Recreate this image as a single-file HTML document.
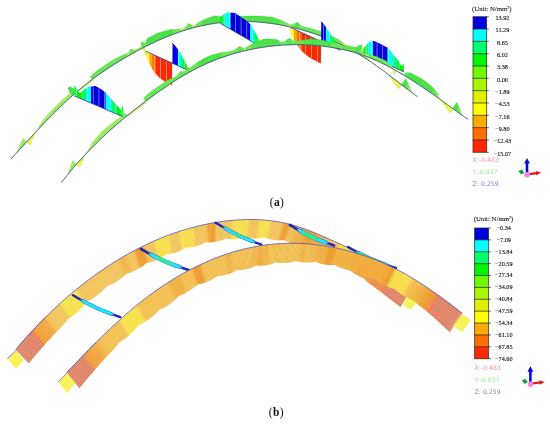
<!DOCTYPE html>
<html><head><meta charset="utf-8"><title>Figure</title>
<style>html,body{margin:0;padding:0;background:#fff}svg{display:block}</style></head>
<body>
<svg width="550" height="424" viewBox="0 0 550 424" font-family="Liberation Serif, DejaVu Serif, serif">
<rect width="550" height="424" fill="#fff"/>
<g id="a">
<path d="M16.7 152.8 L17.0 152.1 L17.3 151.3 L17.6 150.6 L17.9 149.9 L18.2 149.2 L18.6 148.4 L18.9 147.7 L19.2 147.0 L19.5 146.3 L19.8 145.6 L20.1 144.8 L20.4 144.1 L20.7 143.4 L21.0 142.7 L21.3 142.0 L21.7 141.2 L22.0 140.5 L22.3 139.8 L22.6 139.1 L22.9 138.3 L23.0 138.2 L30.2 144.8 L26.8 141.7 L26.8 141.7 L26.7 141.8 L26.2 142.4 L25.7 142.9 L25.2 143.5 L24.7 144.0 L24.2 144.6 L23.7 145.1 L23.2 145.7 L22.7 146.2 L22.2 146.7 L21.7 147.3 L21.2 147.8 L20.7 148.4 L20.2 148.9 L19.7 149.5 L19.2 150.0 L18.7 150.6 L18.2 151.1 L17.7 151.7 L17.2 152.2 L16.7 152.8Z" fill="#98ec5a" stroke="#8ae84c" stroke-width="0.45" stroke-linejoin="round"/>
<path d="M30.2 144.8 L30.4 144.3 L30.8 143.5 L31.1 142.8 L31.4 142.1 L31.7 141.4 L32.0 140.7 L32.3 140.0 L32.6 139.2 L32.9 138.5 L33.2 137.8 L31.7 136.4 L31.2 136.9 L30.7 137.5 L30.2 138.0 L29.7 138.6 L29.2 139.1 L28.7 139.6 L28.2 140.2 L27.7 140.7 L27.2 141.3 L26.8 141.7Z" fill="#eef248" stroke="#e4ec30" stroke-width="0.45" stroke-linejoin="round"/>
<path d="M33.2 137.8 L33.6 137.1 L33.9 136.4 L34.2 135.7 L34.5 135.0 L34.8 134.3 L35.1 133.5 L35.4 132.8 L35.7 132.1 L35.8 132.0 L36.2 131.6 L36.7 131.0 L37.2 130.5 L37.7 129.9 L38.0 129.6 L38.0 129.6 L37.7 129.9 L37.2 130.5 L36.7 131.0 L36.2 131.6 L35.8 132.0 L35.7 132.1 L35.2 132.6 L34.7 133.2 L34.2 133.7 L33.7 134.2 L33.2 134.8 L32.7 135.3 L32.2 135.9 L31.7 136.4Z" fill="#c4f05a" stroke="#b6ec40" stroke-width="0.45" stroke-linejoin="round"/>
<path d="M38.0 129.6 L38.1 129.3 L38.4 128.6 L38.7 127.9 L39.0 127.2 L39.3 126.5 L39.6 125.7 L39.9 125.0 L40.2 124.3 L40.4 123.9 L40.6 123.6 L41.0 123.1 L41.5 122.5 L41.9 121.9 L42.4 121.4 L42.8 120.8 L43.3 120.2 L43.7 119.6 L44.2 119.1 L44.7 118.5 L45.1 117.9 L45.6 117.4 L46.0 116.8 L46.5 116.3 L46.9 115.7 L47.4 115.1 L47.6 114.8 L47.8 114.6 L48.3 114.1 L48.8 113.5 L49.3 113.0 L49.8 112.5 L50.3 112.0 L50.8 111.5 L51.3 111.0 L51.8 110.4 L52.3 109.9 L52.8 109.4 L53.3 108.9 L53.7 108.4 L54.2 107.9 L54.7 107.4 L55.2 106.9 L55.7 106.4 L56.2 105.9 L56.7 105.4 L57.2 104.9 L57.5 104.6 L57.7 104.4 L58.2 103.9 L58.7 103.4 L59.2 102.9 L59.7 102.5 L60.3 102.0 L60.8 101.5 L61.3 101.1 L61.8 100.6 L62.3 100.1 L62.8 99.6 L63.3 99.2 L63.8 98.7 L64.3 98.3 L64.9 97.8 L65.4 97.3 L65.9 96.9 L66.4 96.4 L66.9 96.0 L67.4 95.5 L67.7 95.2 L67.9 95.1 L68.5 94.6 L69.0 94.2 L69.5 93.8 L70.1 93.4 L70.4 93.1 L70.6 92.9 L72.7 95.3 L72.5 95.5 L72.2 95.8 L71.7 96.2 L71.2 96.7 L70.7 97.1 L70.2 97.6 L70.0 97.8 L69.7 98.0 L69.2 98.5 L68.7 99.0 L68.2 99.4 L67.7 99.9 L67.2 100.3 L66.7 100.8 L66.2 101.3 L65.7 101.7 L65.2 102.2 L64.7 102.7 L64.2 103.1 L63.7 103.6 L63.2 104.1 L62.7 104.6 L62.2 105.0 L61.7 105.5 L61.2 106.0 L60.7 106.5 L60.2 107.0 L60.0 107.2 L59.7 107.4 L59.2 107.9 L58.7 108.4 L58.2 108.9 L57.7 109.4 L57.2 109.9 L56.7 110.4 L56.2 110.9 L55.7 111.4 L55.2 111.9 L54.7 112.4 L54.2 112.9 L53.7 113.4 L53.2 113.9 L52.7 114.4 L52.2 114.9 L51.7 115.4 L51.2 115.9 L50.7 116.4 L50.2 116.9 L50.0 117.1 L49.7 117.4 L49.2 117.9 L48.7 118.4 L48.2 118.9 L47.7 119.5 L47.2 120.0 L46.7 120.5 L46.2 121.0 L45.7 121.5 L45.2 122.0 L44.7 122.6 L44.2 123.1 L43.7 123.6 L43.2 124.1 L42.7 124.7 L42.2 125.2 L42.0 125.4 L41.7 125.7 L41.2 126.2 L40.7 126.8 L40.2 127.3 L39.7 127.8 L39.2 128.4 L38.7 128.9 L38.2 129.4 L38.0 129.6Z" fill="#98ec5a" stroke="#8ae84c" stroke-width="0.45" stroke-linejoin="round"/>
<path d="M21.2 147.8 L19.6 146.4 M22.7 146.2 L20.6 144.3 M24.2 144.6 L21.6 142.2 M25.7 142.9 L22.6 140.0 M26.8 141.7 L23.3 138.5 M27.7 140.7 L30.5 143.3 M29.2 139.1 L31.5 141.2 M30.7 137.5 L32.5 139.1 M41.7 125.7 L40.3 124.4 M42.7 124.7 L41.2 123.2 M44.2 123.1 L42.5 121.5 M45.7 121.5 L43.9 119.8 M47.2 120.0 L45.3 118.1 M48.7 118.4 L46.6 116.4 M50.0 117.1 L47.8 115.0 M51.2 115.9 L49.0 113.7 M52.7 114.4 L50.5 112.2 M54.2 112.9 L52.0 110.6 M55.7 111.4 L53.5 109.1 M57.2 109.9 L54.9 107.6 M58.7 108.4 L56.4 106.1 M60.0 107.2 L57.7 104.8 M61.2 106.0 L58.9 103.6 M62.7 104.6 L60.4 102.2 M64.2 103.1 L62.0 100.8 M65.7 101.7 L63.5 99.4 M67.2 100.3 L65.0 98.0 M68.7 99.0 L66.6 96.6 M70.0 97.8 L67.9 95.4 M71.2 96.7 L69.2 94.4 M72.5 95.5 L70.5 93.3" stroke="#fff" stroke-opacity="0.35" stroke-width="0.4" fill="none"/>
<path d="M70.4 93.1 L69.3 90.9 L73.0 95.1 L72.5 95.5Z" fill="#5fe448" stroke="#50e040" stroke-width="0.45" stroke-linejoin="round"/>
<path d="M69.3 90.9 L68.2 88.6 L68.0 88.2 L68.4 87.8 L68.9 87.4 L69.4 86.9 L69.6 86.7 L70.5 87.1 L72.0 87.8 L73.5 88.6 L76.5 92.0 L76.0 92.4 L75.5 92.9 L75.2 93.1 L75.0 93.3 L74.5 93.7 L74.0 94.2 L73.6 94.5 L73.5 94.6 L73.0 95.1Z" fill="#3ee03a" stroke="#34dc30" stroke-width="0.45" stroke-linejoin="round"/>
<path d="M73.5 88.6 L75.0 89.3 L77.0 91.6 L76.5 92.0Z" fill="#5fe448" stroke="#50e040" stroke-width="0.45" stroke-linejoin="round"/>
<path d="M75.0 89.3 L76.5 90.0 L78.0 90.7 L78.0 90.7 L77.5 91.1 L77.0 91.6Z" fill="#98ec5a" stroke="#8ae84c" stroke-width="0.45" stroke-linejoin="round"/>
<path d="M78.0 90.7 L78.9 90.8 L79.8 90.8 L80.3 90.4 L80.8 90.0 L81.3 89.5 L81.8 89.1 L82.3 88.7 L82.8 88.3 L83.3 87.9 L83.8 87.5 L84.3 87.1 L84.8 86.7 L85.3 86.3 L85.7 85.9 L86.2 85.5 L86.7 85.1 L87.2 84.7 L87.7 84.3 L88.2 83.9 L88.7 83.5 L89.2 83.2 L89.7 82.8 L90.2 82.4 L90.7 82.0 L91.2 81.6 L91.7 81.3 L92.2 80.9 L92.7 80.5 L92.0 79.6 L91.5 79.9 L91.0 80.3 L90.5 80.7 L90.0 81.1 L89.5 81.4 L89.0 81.8 L88.5 82.2 L88.0 82.6 L87.5 83.0 L87.0 83.4 L86.5 83.8 L86.0 84.2 L85.5 84.5 L85.0 84.9 L84.5 85.3 L84.0 85.7 L83.5 86.2 L83.0 86.6 L82.5 87.0 L82.0 87.4 L81.5 87.8 L81.0 88.2 L80.5 88.6 L80.0 89.0 L79.5 89.5 L79.0 89.9 L78.5 90.3 L78.0 90.7Z" fill="#c4f05a" stroke="#b6ec40" stroke-width="0.45" stroke-linejoin="round"/>
<path d="M92.7 80.5 L90.5 76.5 L92.5 79.2 L92.0 79.6Z" fill="#98ec5a" stroke="#8ae84c" stroke-width="0.45" stroke-linejoin="round"/>
<path d="M90.5 76.5 L90.9 76.0 L91.4 75.6 L91.9 75.2 L92.4 74.8 L92.8 74.4 L93.3 74.0 L93.8 73.6 L94.3 73.2 L94.7 72.8 L95.2 72.3 L95.7 71.9 L96.2 71.5 L96.6 71.1 L97.1 70.7 L97.6 70.3 L98.1 70.0 L98.6 69.6 L99.1 69.3 L99.6 68.9 L100.1 68.6 L100.6 68.2 L101.1 67.9 L101.6 67.5 L102.1 67.2 L102.6 66.8 L103.1 66.5 L103.6 66.2 L104.1 65.8 L104.6 65.5 L105.1 65.1 L105.6 64.8 L106.1 64.5 L106.6 64.1 L107.1 63.8 L107.7 63.5 L108.2 63.1 L108.7 62.8 L109.2 62.5 L109.7 62.1 L110.2 61.8 L110.7 61.5 L111.2 61.2 L111.7 60.8 L112.2 60.5 L112.7 60.2 L113.2 59.9 L113.7 59.6 L114.2 59.3 L114.7 59.0 L115.3 58.8 L115.8 58.5 L116.4 58.3 L116.9 58.0 L117.4 57.7 L118.0 57.5 L118.5 57.2 L119.0 57.0 L119.6 56.7 L120.1 56.5 L120.7 56.2 L121.2 56.0 L121.7 55.7 L122.3 55.5 L122.8 55.3 L123.3 55.0 L123.9 54.8 L124.4 54.5 L125.0 54.3 L125.5 54.1 L126.1 53.9 L126.7 53.8 L128.0 56.1 L127.5 56.4 L127.0 56.6 L126.5 56.9 L126.0 57.2 L125.5 57.5 L125.0 57.8 L124.5 58.1 L124.0 58.4 L123.5 58.7 L123.0 59.0 L122.5 59.3 L122.0 59.6 L121.5 59.9 L121.0 60.2 L120.5 60.5 L120.0 60.8 L119.5 61.1 L119.0 61.4 L118.5 61.7 L118.0 62.0 L117.5 62.4 L117.0 62.7 L116.5 63.0 L116.0 63.3 L115.5 63.6 L115.0 63.9 L114.5 64.2 L114.0 64.5 L113.5 64.9 L113.0 65.2 L112.5 65.5 L112.0 65.8 L111.5 66.1 L111.0 66.4 L110.5 66.8 L110.0 67.1 L109.5 67.4 L109.0 67.7 L108.5 68.1 L108.0 68.4 L107.5 68.7 L107.0 69.1 L106.5 69.4 L106.0 69.7 L105.5 70.1 L105.0 70.4 L104.5 70.7 L104.0 71.1 L103.5 71.4 L103.0 71.7 L102.5 72.1 L102.0 72.4 L101.5 72.8 L101.0 73.1 L100.5 73.4 L100.0 73.8 L99.5 74.1 L99.0 74.5 L98.5 74.8 L98.0 75.2 L97.5 75.6 L97.0 75.9 L96.5 76.3 L96.0 76.6 L95.5 77.0 L95.0 77.3 L94.5 77.7 L94.0 78.1 L93.5 78.4 L93.0 78.8 L92.5 79.2Z" fill="#5fe448" stroke="#50e040" stroke-width="0.45" stroke-linejoin="round"/>
<path d="M126.7 53.8 L127.2 53.6 L127.8 53.5 L128.4 53.3 L129.0 53.2 L129.3 52.5 L130.5 54.6 L130.0 54.9 L129.5 55.2 L129.0 55.5 L128.5 55.8 L128.0 56.1Z" fill="#98ec5a" stroke="#8ae84c" stroke-width="0.45" stroke-linejoin="round"/>
<path d="M129.3 52.5 L129.5 51.7 L129.8 51.0 L130.0 50.3 L130.3 49.6 L130.3 49.4 L130.9 49.5 L131.6 49.5 L132.3 49.6 L133.0 49.6 L133.7 49.7 L135.0 52.1 L134.5 52.4 L134.0 52.7 L133.5 52.9 L133.0 53.2 L132.6 53.4 L132.5 53.5 L132.0 53.8 L131.5 54.1 L131.0 54.3 L130.5 54.6Z" fill="#5fe448" stroke="#50e040" stroke-width="0.45" stroke-linejoin="round"/>
<path d="M133.7 49.7 L134.4 49.7 L135.0 49.8 L135.6 49.6 L136.1 49.3 L136.6 49.1 L137.1 48.9 L137.7 48.6 L138.2 48.4 L138.7 48.2 L139.2 47.9 L139.7 47.7 L140.3 47.5 L140.8 47.2 L141.3 47.0 L141.3 45.8 L142.5 48.1 L142.0 48.3 L141.5 48.6 L141.0 48.9 L140.5 49.1 L140.0 49.4 L139.5 49.7 L139.0 49.9 L138.5 50.2 L138.0 50.5 L137.5 50.7 L137.0 51.0 L136.5 51.3 L136.0 51.6 L135.5 51.8 L135.0 52.1Z" fill="#98ec5a" stroke="#8ae84c" stroke-width="0.45" stroke-linejoin="round"/>
<path d="M141.3 45.8 L141.3 44.5 L141.3 43.3 L143.5 47.6 L143.0 47.8 L142.5 48.1Z" fill="#5fe448" stroke="#50e040" stroke-width="0.45" stroke-linejoin="round"/>
<path d="M141.3 43.3 L141.3 42.5 L141.5 42.5 L142.1 42.4 L142.7 42.3 L145.0 46.8 L144.5 47.0 L144.0 47.3 L143.8 47.4 L143.5 47.6Z" fill="#3ee03a" stroke="#34dc30" stroke-width="0.45" stroke-linejoin="round"/>
<path d="M142.7 42.3 L143.5 42.7 L144.3 43.0 L145.2 43.4 L145.4 42.7 L145.7 42.0 L146.0 41.3 L146.3 40.7 L148.5 45.0 L148.0 45.3 L147.5 45.5 L147.0 45.8 L146.5 46.0 L146.0 46.3 L145.5 46.5 L145.0 46.8Z" fill="#5fe448" stroke="#50e040" stroke-width="0.45" stroke-linejoin="round"/>
<path d="M146.3 40.7 L146.6 40.0 L146.9 39.3 L147.2 38.6 L147.7 38.4 L148.2 38.1 L148.7 37.8 L149.2 37.5 L149.7 37.3 L150.2 37.0 L150.7 36.7 L151.2 36.5 L151.7 36.2 L152.2 35.9 L152.7 35.7 L153.2 35.4 L153.7 35.1 L154.2 34.9 L154.7 34.6 L155.2 34.4 L155.7 34.1 L156.2 33.9 L156.7 33.6 L157.2 33.3 L157.8 33.2 L158.3 33.0 L158.8 32.8 L159.4 32.7 L159.9 32.5 L160.4 32.4 L161.0 32.2 L161.5 32.0 L162.1 31.9 L162.6 31.7 L163.1 31.6 L163.7 31.4 L164.2 31.3 L164.7 31.1 L165.3 31.0 L165.8 30.8 L166.3 30.7 L166.9 30.5 L167.4 30.4 L167.9 30.2 L168.5 30.1 L169.0 30.0 L169.5 29.8 L170.1 29.7 L170.6 29.6 L171.2 29.6 L171.8 29.5 L172.3 29.5 L174.0 34.0 L173.5 34.2 L173.0 34.3 L172.5 34.5 L172.0 34.7 L171.5 34.9 L171.0 35.1 L170.5 35.3 L170.0 35.5 L169.5 35.7 L169.0 35.9 L168.5 36.1 L168.0 36.3 L167.5 36.5 L167.0 36.7 L166.5 36.9 L166.0 37.1 L165.5 37.3 L165.0 37.5 L164.5 37.7 L164.0 37.9 L163.5 38.1 L163.0 38.4 L162.5 38.6 L162.0 38.8 L161.5 39.0 L161.0 39.2 L160.5 39.4 L160.0 39.7 L159.5 39.9 L159.0 40.1 L158.5 40.3 L158.0 40.6 L157.5 40.8 L157.0 41.0 L156.5 41.2 L156.0 41.5 L155.5 41.7 L155.0 41.9 L154.5 42.2 L154.0 42.4 L153.5 42.6 L153.0 42.9 L152.5 43.1 L152.0 43.3 L151.5 43.6 L151.0 43.8 L150.5 44.1 L150.0 44.3 L149.5 44.5 L149.0 44.8 L148.5 45.0Z" fill="#3ee03a" stroke="#34dc30" stroke-width="0.45" stroke-linejoin="round"/>
<path d="M172.3 29.5 L172.9 29.5 L173.5 29.4 L174.0 29.4 L174.6 29.4 L175.2 29.3 L175.7 29.3 L176.3 29.3 L176.8 29.2 L177.4 29.2 L178.0 29.2 L178.5 29.2 L179.1 29.1 L179.6 29.1 L180.2 29.1 L181.0 31.5 L180.5 31.7 L180.0 31.8 L179.5 32.0 L179.0 32.2 L178.5 32.3 L178.0 32.5 L177.5 32.7 L177.0 32.9 L176.5 33.1 L176.0 33.2 L175.5 33.4 L175.0 33.6 L174.5 33.8 L174.0 34.0Z" fill="#5fe448" stroke="#50e040" stroke-width="0.45" stroke-linejoin="round"/>
<path d="M180.2 29.1 L180.7 29.1 L181.3 29.1 L181.9 29.0 L182.1 29.0 L182.4 28.9 L182.8 28.6 L183.3 28.4 L183.8 28.1 L184.3 27.9 L184.8 27.6 L185.2 27.4 L186.0 29.9 L185.5 30.0 L185.0 30.2 L184.5 30.4 L184.0 30.5 L183.5 30.7 L183.0 30.8 L182.7 30.9 L182.5 31.0 L182.0 31.2 L181.5 31.3 L181.0 31.5Z" fill="#98ec5a" stroke="#8ae84c" stroke-width="0.45" stroke-linejoin="round"/>
<path d="M185.2 27.4 L185.7 27.0 L186.1 26.5 L186.5 26.1 L186.9 25.6 L187.3 25.2 L187.8 24.7 L188.2 24.3 L189.5 28.8 L189.0 29.0 L188.5 29.1 L188.0 29.3 L187.5 29.4 L187.0 29.6 L186.5 29.7 L186.0 29.9Z" fill="#5fe448" stroke="#50e040" stroke-width="0.45" stroke-linejoin="round"/>
<path d="M188.2 24.3 L188.6 23.8 L189.0 23.5 L189.1 23.6 L189.7 23.9 L191.0 28.4 L190.5 28.6 L190.4 28.6 L190.0 28.7 L189.5 28.8Z" fill="#3ee03a" stroke="#34dc30" stroke-width="0.45" stroke-linejoin="round"/>
<path d="M189.7 23.9 L190.4 24.3 L191.0 24.6 L191.7 25.0 L192.3 25.3 L193.0 27.9 L192.5 28.0 L192.0 28.1 L191.5 28.3 L191.0 28.4Z" fill="#5fe448" stroke="#50e040" stroke-width="0.45" stroke-linejoin="round"/>
<path d="M192.3 25.3 L193.0 25.7 L193.6 26.1 L194.0 25.7 L194.5 25.4 L195.0 25.1 L195.4 24.8 L195.9 24.4 L196.5 27.0 L196.0 27.1 L195.5 27.2 L195.0 27.3 L194.5 27.5 L194.0 27.6 L193.5 27.7 L193.0 27.9Z" fill="#98ec5a" stroke="#8ae84c" stroke-width="0.45" stroke-linejoin="round"/>
<path d="M195.9 24.4 L196.3 24.1 L196.8 23.8 L197.2 23.5 L197.7 23.2 L198.2 22.8 L198.6 22.5 L199.1 22.2 L199.6 22.0 L200.1 21.8 L200.6 21.5 L201.0 21.3 L201.5 21.1 L202.0 20.8 L202.5 20.6 L203.5 25.3 L203.0 25.5 L202.5 25.6 L202.0 25.7 L201.5 25.8 L201.0 25.9 L200.5 26.0 L200.0 26.1 L199.5 26.2 L199.0 26.3 L198.5 26.5 L198.0 26.6 L197.5 26.7 L197.0 26.8 L196.5 27.0Z" fill="#5fe448" stroke="#50e040" stroke-width="0.45" stroke-linejoin="round"/>
<path d="M202.5 20.6 L203.0 20.4 L203.5 20.2 L204.0 19.9 L204.5 19.7 L205.0 19.5 L205.5 19.3 L205.9 19.1 L206.4 18.9 L206.9 18.6 L207.4 18.4 L207.9 18.2 L208.4 18.0 L208.9 17.8 L209.4 17.6 L209.9 17.5 L210.4 17.3 L210.9 17.1 L211.4 17.0 L211.9 16.8 L212.5 16.6 L213.0 16.5 L213.5 16.3 L214.0 16.2 L214.5 16.0 L215.0 15.8 L215.5 15.9 L216.1 16.0 L216.6 16.1 L217.2 16.2 L217.7 16.3 L218.2 16.4 L218.8 16.5 L219.3 16.6 L219.6 16.7 L219.8 16.7 L220.3 16.7 L220.9 16.6 L221.4 16.6 L221.9 16.6 L222.4 16.6 L222.9 16.6 L223.5 16.6 L224.0 16.6 L224.5 16.6 L225.0 16.6 L225.5 16.6 L226.1 16.6 L226.6 16.6 L227.1 16.6 L227.6 16.6 L228.1 16.6 L228.6 16.6 L229.2 16.6 L229.7 16.6 L230.2 16.6 L230.7 16.6 L231.2 16.5 L231.7 16.5 L232.2 16.5 L232.8 16.5 L233.3 16.5 L233.8 16.5 L234.3 16.5 L234.8 16.4 L235.3 16.4 L235.8 16.4 L236.4 16.4 L236.9 16.4 L237.4 16.4 L237.9 16.4 L238.4 16.4 L238.9 16.4 L239.4 16.4 L239.9 16.4 L240.5 16.4 L241.0 16.4 L241.5 16.3 L242.0 16.3 L242.5 16.3 L243.0 16.3 L243.5 16.2 L244.0 16.2 L244.6 16.2 L245.1 16.2 L245.6 16.2 L246.1 16.1 L246.6 16.1 L247.1 16.1 L247.6 16.1 L248.2 16.1 L248.7 16.1 L249.2 16.1 L249.7 16.1 L250.2 16.1 L250.7 16.1 L251.2 16.1 L251.8 16.0 L252.3 16.0 L252.8 16.0 L253.3 16.0 L253.8 16.1 L254.3 16.1 L254.8 16.1 L255.4 16.1 L255.9 16.1 L256.4 16.1 L256.9 16.1 L257.4 16.1 L257.9 16.1 L258.4 16.1 L259.0 16.1 L259.5 16.2 L260.0 16.2 L260.5 16.2 L261.0 16.2 L261.5 16.3 L262.1 16.3 L262.6 16.3 L263.1 16.4 L263.6 16.4 L264.1 16.5 L264.6 16.5 L265.1 16.6 L265.7 16.6 L266.2 16.7 L266.7 16.7 L267.2 16.8 L267.7 16.8 L268.2 16.9 L268.8 16.9 L269.3 17.0 L269.8 17.0 L270.3 17.1 L270.8 17.1 L271.3 17.2 L271.8 17.3 L272.3 17.4 L272.8 17.6 L273.4 17.7 L273.9 17.9 L274.4 18.0 L274.9 18.2 L275.4 18.3 L275.9 18.5 L276.4 18.7 L276.9 18.8 L277.4 19.0 L277.9 19.2 L278.3 19.3 L278.8 19.5 L279.3 19.7 L279.8 19.8 L280.3 20.0 L279.5 24.7 L279.0 24.6 L278.5 24.6 L278.0 24.5 L277.5 24.4 L277.0 24.3 L276.5 24.2 L276.0 24.1 L275.5 24.1 L275.0 24.0 L274.5 23.9 L274.0 23.8 L273.5 23.8 L273.0 23.7 L272.5 23.6 L272.0 23.5 L271.5 23.5 L271.0 23.4 L270.5 23.3 L270.0 23.3 L269.5 23.2 L269.0 23.1 L268.5 23.1 L268.0 23.0 L267.5 23.0 L267.0 22.9 L266.5 22.8 L266.0 22.8 L265.5 22.7 L265.0 22.7 L264.5 22.6 L264.0 22.6 L263.5 22.5 L263.0 22.5 L262.5 22.4 L262.0 22.4 L261.5 22.3 L261.0 22.3 L260.5 22.2 L260.0 22.2 L259.5 22.1 L259.0 22.1 L258.5 22.1 L258.0 22.0 L257.5 22.0 L257.0 21.9 L256.5 21.9 L256.0 21.9 L255.5 21.8 L255.0 21.8 L254.5 21.8 L254.0 21.7 L253.5 21.7 L253.0 21.7 L252.5 21.7 L252.0 21.6 L251.5 21.6 L251.0 21.6 L250.5 21.6 L250.0 21.6 L249.5 21.5 L249.0 21.5 L248.5 21.5 L248.0 21.5 L247.5 21.5 L247.0 21.5 L246.5 21.5 L246.0 21.4 L245.5 21.4 L245.0 21.4 L244.5 21.4 L244.0 21.4 L243.5 21.4 L243.0 21.4 L242.5 21.4 L242.0 21.4 L241.5 21.4 L241.0 21.4 L240.5 21.4 L240.0 21.4 L239.5 21.4 L239.0 21.4 L238.5 21.4 L238.0 21.5 L237.5 21.5 L237.0 21.5 L236.5 21.5 L236.0 21.5 L235.5 21.5 L235.0 21.5 L234.5 21.6 L234.0 21.6 L233.5 21.6 L233.0 21.6 L232.5 21.6 L232.0 21.7 L231.5 21.7 L231.0 21.7 L230.5 21.8 L230.0 21.8 L229.5 21.8 L229.0 21.9 L228.5 21.9 L228.0 21.9 L227.5 22.0 L227.0 22.0 L226.5 22.0 L226.0 22.1 L225.5 22.1 L225.0 22.2 L224.5 22.2 L224.0 22.3 L223.5 22.3 L223.0 22.4 L222.5 22.4 L222.0 22.5 L221.5 22.5 L221.0 22.6 L220.5 22.6 L220.3 22.6 L220.0 22.7 L219.5 22.7 L219.0 22.8 L218.5 22.9 L218.0 22.9 L217.5 23.0 L217.0 23.0 L216.5 23.1 L216.0 23.2 L215.5 23.2 L215.0 23.3 L214.5 23.4 L214.0 23.5 L213.5 23.5 L213.0 23.6 L212.5 23.7 L212.0 23.8 L211.5 23.9 L211.0 23.9 L210.5 24.0 L210.0 24.1 L209.5 24.2 L209.0 24.3 L208.5 24.4 L208.0 24.5 L207.5 24.6 L207.0 24.6 L206.5 24.7 L206.0 24.8 L205.5 24.9 L205.0 25.0 L204.5 25.1 L204.0 25.2 L203.5 25.3Z" fill="#3ee03a" stroke="#34dc30" stroke-width="0.45" stroke-linejoin="round"/>
<path d="M280.3 20.0 L280.8 20.2 L281.3 20.3 L281.8 20.5 L282.3 20.7 L282.8 20.9 L283.3 21.1 L283.8 21.4 L284.2 21.7 L284.7 21.9 L285.2 22.2 L285.7 22.4 L286.1 22.7 L286.6 23.0 L287.1 23.3 L287.6 23.5 L288.0 23.8 L287.5 26.3 L287.0 26.2 L286.5 26.1 L286.0 26.0 L285.5 25.9 L285.0 25.8 L284.5 25.7 L284.0 25.6 L283.5 25.5 L283.0 25.4 L282.5 25.3 L282.0 25.2 L281.5 25.1 L281.0 25.0 L280.5 24.9 L280.0 24.8 L279.5 24.7Z" fill="#5fe448" stroke="#50e040" stroke-width="0.45" stroke-linejoin="round"/>
<path d="M288.0 23.8 L288.5 24.1 L289.0 24.1 L289.5 24.2 L290.0 24.3 L290.6 24.4 L291.1 24.5 L291.6 24.5 L291.0 27.1 L290.5 27.0 L290.0 26.8 L289.5 26.7 L289.0 26.6 L288.5 26.5 L288.0 26.4 L287.5 26.3Z" fill="#98ec5a" stroke="#8ae84c" stroke-width="0.45" stroke-linejoin="round"/>
<path d="M291.6 24.5 L292.1 24.5 L292.7 24.5 L293.2 24.5 L293.7 24.4 L294.4 24.1 L295.0 23.7 L295.6 23.3 L294.5 27.9 L294.0 27.8 L293.5 27.7 L293.0 27.5 L292.5 27.4 L292.0 27.3 L291.5 27.2 L291.0 27.1Z" fill="#5fe448" stroke="#50e040" stroke-width="0.45" stroke-linejoin="round"/>
<path d="M295.6 23.3 L296.3 23.0 L296.9 22.6 L297.5 22.3 L298.0 22.7 L298.4 23.2 L298.8 23.6 L299.2 24.1 L298.0 28.8 L297.5 28.7 L297.0 28.5 L296.5 28.4 L296.0 28.3 L295.5 28.2 L295.0 28.0 L294.5 27.9Z" fill="#3ee03a" stroke="#34dc30" stroke-width="0.45" stroke-linejoin="round"/>
<path d="M299.2 24.1 L299.7 24.5 L300.1 25.0 L300.5 25.4 L300.9 25.9 L301.5 26.0 L302.0 26.2 L302.5 26.3 L303.0 26.5 L303.5 26.6 L304.0 26.8 L304.5 26.9 L305.0 27.1 L305.5 27.2 L306.0 27.3 L306.5 27.5 L307.0 27.6 L307.6 27.7 L308.1 27.8 L308.6 28.0 L309.1 28.1 L309.6 28.2 L310.1 28.3 L310.7 28.5 L311.2 28.6 L311.7 28.7 L312.2 28.9 L312.7 29.0 L313.3 29.2 L313.8 29.3 L314.3 29.4 L314.8 29.6 L315.3 29.7 L315.8 29.9 L316.4 30.0 L316.9 30.2 L317.4 30.3 L317.9 30.5 L318.4 30.6 L319.0 30.8 L319.5 30.9 L320.0 31.1 L320.5 31.2 L321.0 31.4 L321.6 31.5 L322.1 31.7 L322.6 32.0 L323.1 32.2 L323.6 32.4 L324.1 32.6 L324.6 32.8 L325.1 33.1 L325.6 33.3 L326.0 33.5 L326.5 33.8 L327.0 34.0 L327.5 34.2 L328.0 34.4 L328.5 34.7 L329.0 34.9 L329.5 35.1 L330.0 35.4 L330.5 35.6 L331.0 35.9 L331.5 36.1 L332.0 36.3 L332.5 36.6 L333.0 36.8 L333.5 37.1 L334.0 37.3 L334.5 37.6 L335.0 37.8 L335.5 38.1 L336.0 38.3 L336.5 38.6 L337.0 38.8 L337.5 39.1 L338.0 39.4 L338.5 39.6 L338.9 39.9 L339.4 40.3 L339.9 40.6 L340.3 40.9 L340.8 41.2 L341.3 41.6 L341.7 41.9 L342.2 42.2 L342.7 42.5 L343.1 42.9 L342.0 45.2 L341.5 44.9 L341.0 44.7 L340.5 44.4 L340.0 44.2 L339.5 44.0 L339.0 43.7 L338.5 43.5 L338.0 43.3 L337.5 43.0 L337.0 42.8 L336.5 42.6 L336.0 42.3 L335.5 42.1 L335.0 41.9 L334.5 41.7 L334.0 41.4 L333.5 41.2 L333.0 41.0 L332.5 40.8 L332.0 40.6 L331.5 40.3 L331.0 40.1 L330.5 39.9 L330.0 39.7 L329.5 39.5 L329.0 39.3 L328.5 39.1 L328.0 38.9 L327.5 38.7 L327.0 38.5 L326.5 38.3 L326.0 38.1 L325.5 37.9 L325.0 37.7 L324.5 37.5 L324.0 37.3 L323.5 37.1 L323.0 36.9 L322.5 36.7 L322.0 36.5 L321.5 36.3 L321.0 36.1 L320.5 35.9 L320.0 35.8 L319.5 35.6 L319.0 35.4 L318.5 35.2 L318.0 35.0 L317.5 34.8 L317.0 34.7 L316.5 34.5 L316.0 34.3 L315.5 34.1 L315.0 34.0 L314.5 33.8 L314.0 33.6 L313.5 33.5 L313.0 33.3 L312.5 33.1 L312.0 33.0 L311.5 32.8 L311.0 32.6 L310.5 32.5 L310.0 32.3 L309.5 32.1 L309.0 32.0 L308.5 31.8 L308.0 31.7 L307.5 31.5 L307.0 31.4 L306.5 31.2 L306.0 31.1 L305.5 30.9 L305.0 30.8 L304.5 30.6 L304.0 30.5 L303.5 30.3 L303.0 30.2 L302.5 30.0 L302.0 29.9 L301.5 29.8 L301.0 29.6 L300.5 29.5 L300.0 29.3 L299.5 29.2 L299.0 29.1 L298.5 28.9 L298.0 28.8Z" fill="#5fe448" stroke="#50e040" stroke-width="0.45" stroke-linejoin="round"/>
<path d="M343.1 42.9 L343.6 43.2 L344.1 43.5 L344.5 43.9 L345.0 44.2 L345.4 44.5 L345.9 44.9 L346.5 45.0 L347.0 45.2 L347.6 45.3 L348.2 45.5 L348.7 45.6 L347.5 47.9 L347.0 47.7 L346.5 47.4 L346.0 47.2 L345.5 46.9 L345.0 46.7 L344.5 46.4 L344.0 46.2 L343.5 45.9 L343.0 45.7 L342.5 45.4 L342.0 45.2Z" fill="#98ec5a" stroke="#8ae84c" stroke-width="0.45" stroke-linejoin="round"/>
<path d="M348.7 45.6 L349.3 45.8 L349.9 45.9 L350.4 46.1 L351.0 46.2 L351.6 46.4 L352.1 46.5 L352.7 46.7 L353.3 46.9 L353.8 47.0 L354.4 47.1 L355.0 47.2 L355.6 47.3 L356.3 47.5 L356.9 47.6 L354.5 51.8 L354.0 51.5 L353.5 51.2 L353.0 50.9 L352.5 50.6 L352.0 50.4 L351.5 50.1 L351.0 49.8 L350.5 49.5 L350.0 49.3 L349.5 49.0 L349.0 48.7 L348.5 48.5 L348.0 48.2 L347.5 47.9Z" fill="#5fe448" stroke="#50e040" stroke-width="0.45" stroke-linejoin="round"/>
<path d="M356.9 47.6 L357.5 47.7 L358.6 46.9 L359.7 46.1 L360.9 45.3 L362.0 44.5 L361.8 46.1 L361.5 47.7 L361.3 49.3 L358.5 54.1 L358.0 53.8 L357.5 53.5 L357.0 53.2 L356.5 52.9 L356.0 52.6 L355.5 52.3 L355.0 52.0 L354.5 51.8Z" fill="#3ee03a" stroke="#34dc30" stroke-width="0.45" stroke-linejoin="round"/>
<path d="M361.3 49.3 L361.0 50.9 L361.3 51.7 L361.5 52.4 L361.8 53.1 L360.5 55.3 L360.0 55.0 L359.5 54.7 L359.0 54.4 L358.5 54.1Z" fill="#5fe448" stroke="#50e040" stroke-width="0.45" stroke-linejoin="round"/>
<path d="M361.8 53.1 L362.0 53.9 L362.5 54.2 L363.0 54.5 L363.6 54.8 L364.1 55.1 L364.6 55.4 L365.1 55.7 L365.6 56.0 L366.1 56.4 L366.5 56.9 L366.9 57.3 L367.3 57.8 L367.7 58.3 L368.0 58.8 L368.4 59.3 L368.8 59.8 L369.2 60.3 L369.6 60.8 L370.0 61.3 L370.0 61.3 L369.5 61.0 L369.0 60.7 L368.5 60.3 L368.0 60.0 L367.5 59.7 L367.0 59.3 L366.5 59.0 L366.0 58.7 L365.5 58.4 L365.0 58.1 L364.5 57.7 L364.0 57.4 L363.5 57.1 L363.0 56.8 L362.5 56.5 L362.0 56.2 L361.5 55.9 L361.0 55.6 L360.5 55.3Z" fill="#98ec5a" stroke="#8ae84c" stroke-width="0.45" stroke-linejoin="round"/>
<path d="M72.5 95.5 L70.5 93.3 M73.6 94.5 L68.4 88.7 M75.0 93.3 L69.9 87.4 M76.0 92.4 L72.3 88.2 M92.5 79.2 L90.6 76.7 M94.0 78.1 L92.1 75.4 M95.5 77.0 L93.5 74.2 M97.0 75.9 L94.9 73.0 M98.5 74.8 L96.4 71.8 M100.0 73.8 L97.8 70.6 M101.5 72.8 L99.3 69.6 M103.0 71.7 L100.8 68.5 M104.5 70.7 L102.3 67.5 M106.0 69.7 L103.8 66.4 M107.5 68.7 L105.3 65.4 M109.0 67.7 L106.8 64.4 M110.5 66.8 L108.3 63.4 M112.0 65.8 L109.8 62.4 M113.5 64.9 L111.4 61.5 M115.0 63.9 L112.9 60.5 M116.5 63.0 L114.4 59.6 M118.0 62.0 L116.0 58.8 M119.5 61.1 L117.6 58.0 M121.0 60.2 L119.2 57.2 M122.5 59.3 L120.8 56.5 M124.0 58.4 L122.4 55.7 M125.5 57.5 L124.0 55.0 M127.0 56.6 L125.6 54.3 M128.5 55.8 L127.3 53.8 M131.5 54.1 L129.9 51.3 M132.6 53.4 L130.5 49.7 M134.0 52.7 L132.4 49.8 M135.5 51.8 L134.4 49.9 M143.0 47.8 L141.4 44.8 M144.0 47.3 L141.7 42.9 M145.5 46.5 L143.7 43.0 M147.0 45.8 L145.6 42.9 M148.5 45.0 L146.5 41.0 M150.0 44.3 L147.5 39.1 M151.5 43.6 L149.0 38.3 M153.0 42.9 L150.4 37.5 M154.5 42.2 L151.9 36.7 M156.0 41.5 L153.4 35.9 M157.5 40.8 L154.9 35.1 M159.0 40.1 L156.4 34.4 M160.5 39.4 L158.0 33.7 M162.0 38.8 L159.6 33.2 M163.5 38.1 L161.2 32.7 M165.0 37.5 L162.8 32.2 M166.5 36.9 L164.4 31.7 M168.0 36.3 L166.0 31.3 M169.5 35.7 L167.6 30.8 M171.0 35.1 L169.2 30.4 M172.5 34.5 L170.8 30.0 M174.0 34.0 L172.5 29.9 M175.5 33.4 L174.2 29.7 M177.0 32.9 L175.8 29.6 M178.5 32.3 L177.5 29.5 M180.0 31.8 L179.2 29.3 M181.5 31.3 L180.8 29.3 M184.0 30.5 L183.4 28.6 M185.5 30.0 L184.8 27.8 M187.0 29.6 L186.1 26.8 M188.5 29.1 L187.4 25.5 M190.0 28.7 L188.7 24.2 M191.0 28.4 L189.8 24.3 M192.5 28.0 L191.7 25.2 M195.5 27.2 L195.0 25.2 M197.0 26.8 L196.4 24.3 M198.5 26.5 L197.8 23.4 M200.0 26.1 L199.2 22.5 M201.5 25.8 L200.6 21.9 M203.0 25.5 L202.1 21.2 M204.5 25.1 L203.6 20.6 M206.0 24.8 L205.0 19.9 M207.5 24.6 L206.5 19.3 M209.0 24.3 L208.0 18.7 M210.5 24.0 L209.5 18.1 M212.0 23.8 L211.0 17.7 M213.5 23.5 L212.5 17.2 M215.0 23.3 L214.1 16.7 M216.5 23.1 L215.6 16.5 M218.0 22.9 L217.2 16.8 M219.5 22.7 L218.8 17.0 M220.5 22.6 L219.9 17.1 M222.0 22.5 L221.4 17.1 M223.5 22.3 L223.0 17.1 M225.0 22.2 L224.5 17.0 M226.5 22.0 L226.1 17.0 M228.0 21.9 L227.6 17.0 M229.5 21.8 L229.2 17.0 M231.0 21.7 L230.7 17.0 M232.5 21.6 L232.3 16.9 M234.0 21.6 L233.8 16.9 M235.5 21.5 L235.3 16.8 M237.0 21.5 L236.9 16.8 M238.5 21.4 L238.4 16.8 M240.0 21.4 L239.9 16.8 M241.5 21.4 L241.5 16.7 M243.0 21.4 L243.0 16.7 M244.5 21.4 L244.6 16.6 M246.0 21.4 L246.1 16.6 M247.5 21.5 L247.6 16.5 M249.0 21.5 L249.2 16.5 M250.5 21.6 L250.7 16.5 M252.0 21.6 L252.2 16.5 M253.5 21.7 L253.8 16.5 M255.0 21.8 L255.3 16.5 M256.5 21.9 L256.9 16.6 M258.0 22.0 L258.4 16.6 M259.5 22.1 L260.0 16.7 M261.0 22.3 L261.5 16.7 M262.5 22.4 L263.0 16.9 M264.0 22.6 L264.6 17.0 M265.5 22.7 L266.1 17.1 M267.0 22.9 L267.7 17.3 M268.5 23.1 L269.2 17.5 M270.0 23.3 L270.7 17.6 M271.5 23.5 L272.3 17.9 M273.0 23.7 L273.8 18.3 M274.5 23.9 L275.3 18.8 M276.0 24.1 L276.8 19.3 M277.5 24.4 L278.3 19.7 M279.0 24.6 L279.8 20.2 M280.5 24.9 L281.3 20.7 M282.0 25.2 L282.7 21.2 M283.5 25.5 L284.2 22.0 M285.0 25.8 L285.6 22.7 M286.5 26.1 L287.0 23.5 M288.0 26.4 L288.5 24.2 M289.5 26.7 L290.0 24.5 M291.0 27.1 L291.5 24.7 M292.5 27.4 L293.1 24.7 M294.0 27.8 L294.9 24.0 M295.5 28.2 L296.8 23.1 M297.0 28.5 L298.3 23.6 M298.5 28.9 L299.6 24.9 M300.0 29.3 L300.9 26.1 M301.5 29.8 L302.4 26.6 M303.0 30.2 L303.9 27.1 M304.5 30.6 L305.4 27.5 M306.0 31.1 L307.0 27.9 M307.5 31.5 L308.5 28.2 M309.0 32.0 L310.1 28.6 M310.5 32.5 L311.6 29.0 M312.0 33.0 L313.2 29.5 M313.5 33.5 L314.7 29.9 M315.0 34.0 L316.3 30.3 M316.5 34.5 L317.8 30.8 M318.0 35.0 L319.4 31.2 M319.5 35.6 L320.9 31.7 M321.0 36.1 L322.4 32.3 M322.5 36.7 L323.9 33.0 M324.0 37.3 L325.4 33.6 M325.5 37.9 L326.9 34.3 M327.0 38.5 L328.4 35.0 M328.5 39.1 L329.9 35.7 M330.0 39.7 L331.4 36.4 M331.5 40.3 L332.9 37.1 M333.0 41.0 L334.4 37.9 M334.5 41.7 L335.9 38.6 M336.0 42.3 L337.4 39.4 M337.5 43.0 L338.8 40.2 M339.0 43.7 L340.2 41.1 M340.5 44.4 L341.6 42.1 M342.0 45.2 L343.0 43.1 M343.5 45.9 L344.4 44.0 M346.5 47.4 L347.5 45.5 M348.0 48.2 L349.2 46.0 M349.5 49.0 L350.9 46.4 M351.0 49.8 L352.6 46.9 M352.5 50.6 L354.3 47.4 M354.0 51.5 L356.1 47.8 M355.5 52.3 L358.4 47.3 M357.0 53.2 L361.6 45.2 M358.5 54.1 L361.1 49.7 M360.0 55.0 L361.4 52.6" stroke="#fff" stroke-opacity="0.35" stroke-width="0.4" fill="none"/>
<path d="M389.0 75.0 L389.4 75.6 L389.7 76.1 L390.1 76.7 L390.5 77.2 L390.9 77.7 L391.2 78.3 L391.6 78.8 L392.0 79.4 L392.4 79.9 L392.7 80.5 L393.1 81.0 L394.5 79.2 L394.0 78.8 L393.5 78.4 L393.0 78.1 L392.5 77.7 L392.0 77.3 L391.5 76.9 L391.0 76.5 L390.5 76.2 L390.0 75.8 L389.5 75.4 L389.0 75.0Z" fill="#c4f05a" stroke="#b6ec40" stroke-width="0.45" stroke-linejoin="round"/>
<path d="M393.1 81.0 L393.5 81.6 L393.9 82.1 L394.2 82.7 L394.6 83.2 L395.0 83.8 L395.3 84.3 L395.7 84.9 L396.1 85.4 L396.5 86.0 L396.8 86.5 L397.2 87.1 L397.6 87.6 L398.0 88.2 L398.3 88.7 L401.5 84.6 L401.0 84.2 L400.5 83.8 L400.0 83.5 L399.5 83.1 L399.0 82.7 L398.5 82.3 L398.0 81.9 L397.5 81.5 L397.0 81.1 L396.5 80.8 L396.0 80.4 L395.5 80.0 L395.0 79.6 L394.5 79.2Z" fill="#eef248" stroke="#e4ec30" stroke-width="0.45" stroke-linejoin="round"/>
<path d="M398.3 88.7 L405.9 78.9 L401.5 84.6 L401.5 84.6Z" fill="#98ec5a" stroke="#8ae84c" stroke-width="0.45" stroke-linejoin="round"/>
<path d="M405.9 78.9 L406.2 79.6 L406.5 80.2 L406.8 80.9 L407.1 81.5 L407.3 82.2 L407.6 82.8 L407.9 83.5 L405.0 87.3 L404.5 86.9 L404.0 86.5 L403.5 86.2 L403.0 85.8 L402.5 85.4 L402.0 85.0 L401.5 84.6Z" fill="#3ee03a" stroke="#34dc30" stroke-width="0.45" stroke-linejoin="round"/>
<path d="M407.9 83.5 L408.2 84.1 L408.5 84.8 L408.8 85.5 L409.1 86.1 L409.4 86.8 L409.7 87.4 L408.0 89.6 L407.5 89.2 L407.0 88.8 L406.5 88.5 L406.0 88.1 L405.5 87.7 L405.0 87.3Z" fill="#5fe448" stroke="#50e040" stroke-width="0.45" stroke-linejoin="round"/>
<path d="M409.7 87.4 L410.0 88.1 L410.2 88.7 L410.5 89.4 L410.8 90.0 L411.1 90.7 L411.4 91.3 L411.7 92.0 L412.0 92.6 L412.0 92.6 L411.5 92.3 L411.0 91.9 L410.5 91.5 L410.0 91.1 L409.5 90.7 L409.0 90.4 L408.5 90.0 L408.0 89.6Z" fill="#98ec5a" stroke="#8ae84c" stroke-width="0.45" stroke-linejoin="round"/>
<path d="M395.0 79.6 L393.6 81.4 M396.5 80.8 L394.7 83.0 M398.0 81.9 L395.9 84.6 M399.5 83.1 L397.0 86.3 M401.0 84.2 L398.2 87.9 M402.0 85.0 L405.9 80.0 M403.5 86.2 L406.8 81.9 M405.0 87.3 L407.7 83.8 M406.5 88.5 L408.6 85.7 M408.0 89.6 L409.5 87.6" stroke="#fff" stroke-opacity="0.35" stroke-width="0.4" fill="none"/>
<path d="M141.5 48.6 L142.8 49.8 L142.0 48.3 L141.5 48.6Z" fill="#c4f05a" stroke="#b6ec40" stroke-width="0.45" stroke-linejoin="round"/>
<path d="M142.8 49.8 L144.0 51.0 L145.3 52.3 L144.6 49.8 L143.5 47.6 L143.0 47.8 L142.5 48.1 L142.0 48.3Z" fill="#eef248" stroke="#e4ec30" stroke-width="0.45" stroke-linejoin="round"/>
<path d="M144.6 49.8 L144.0 47.3 L144.0 47.3 L143.5 47.6Z" fill="#c4f05a" stroke="#b6ec40" stroke-width="0.45" stroke-linejoin="round"/>
<path d="M143.0 47.8 L145.1 51.9" stroke="#fff" stroke-opacity="0.35" stroke-width="0.4" fill="none"/>
<path d="M10.8 159.2 L13.7 156.0 L16.7 152.8 L19.6 149.6 L22.5 146.4 L25.4 143.2 L28.4 140.0 L31.3 136.8 L34.2 133.7 L37.1 130.5 L40.1 127.4 L43.0 124.4 L45.9 121.3 L48.8 118.3 L51.8 115.3 L54.7 112.4 L57.6 109.5 L60.6 106.6 L63.5 103.8 L66.4 101.1 L69.3 98.4 L72.3 95.7 L75.2 93.1 L78.1 90.6 L81.0 88.2 L84.0 85.8 L86.9 83.5 L89.8 81.2 L92.7 79.0 L95.7 76.9 L98.6 74.8 L101.5 72.7 L104.5 70.8 L107.4 68.8 L110.3 66.9 L113.2 65.0 L116.2 63.2 L119.1 61.4 L122.0 59.6 L124.9 57.9 L127.9 56.1 L130.8 54.5 L133.7 52.8 L136.6 51.2 L139.6 49.6 L142.5 48.1 L145.4 46.6 L148.4 45.1 L151.3 43.7 L154.2 42.3 L157.1 40.9 L160.1 39.6 L163.0 38.4 L165.9 37.1 L168.8 36.0 L171.8 34.8 L174.7 33.7 L177.6 32.7 L180.5 31.6 L183.5 30.7 L186.4 29.8 L189.3 28.9 L192.3 28.1 L195.2 27.3 L198.1 26.6 L201.0 25.9 L204.0 25.3 L206.9 24.7 L209.8 24.1 L212.7 23.7 L215.7 23.2 L218.6 22.8 L221.5 22.5 L224.4 22.2 L227.4 22.0 L230.3 21.8 L233.2 21.6 L236.1 21.5 L239.1 21.4 L242.0 21.4 L244.9 21.4 L247.9 21.5 L250.8 21.6 L253.7 21.7 L256.6 21.9 L259.6 22.1 L262.5 22.4 L265.4 22.7 L268.3 23.1 L271.3 23.4 L274.2 23.9 L277.1 24.3 L280.0 24.8 L283.0 25.4 L285.9 26.0 L288.8 26.6 L291.8 27.3 L294.7 28.0 L297.6 28.7 L300.5 29.5 L303.5 30.3 L306.4 31.2 L309.3 32.1 L312.2 33.0 L315.2 34.0 L318.1 35.1 L321.0 36.1 L323.9 37.3 L326.9 38.4 L329.8 39.6 L332.7 40.9 L335.7 42.2 L338.6 43.5 L341.5 44.9 L344.4 46.4 L347.4 47.9 L350.3 49.4 L353.2 51.0 L356.1 52.7 L359.1 54.4 L362.0 56.2 L364.9 58.0 L367.8 59.9 L370.8 61.8 L373.7 63.8 L376.6 65.9 L379.6 68.0 L382.5 70.1 L385.4 72.3 L388.3 74.5 L391.3 76.7 L394.2 79.0 L397.1 81.2 L400.0 83.5 L403.0 85.7 L405.9 88.0 L408.8 90.2 L411.7 92.4 L414.7 94.6 L417.6 96.8" fill="none" stroke="#4a5c80" stroke-width="0.95"/>
<path d="M74.5 96.0 L74.8 96.2 L75.2 96.3 L75.5 96.5 L75.9 96.6 L76.2 96.8 L76.8 96.9 L76.8 88.0 L76.2 87.4 L75.9 86.9 L75.5 86.4 L75.2 86.0 L74.8 85.5 L74.5 85.0Z" fill="#00ff6e"/>
<path d="M76.6 96.9 L77.0 97.0 L77.3 97.2 L77.7 97.3 L78.0 97.5 L78.3 97.7 L78.7 97.8 L79.0 98.0 L79.4 98.1 L79.8 98.2 L80.1 98.4 L80.5 98.5 L80.8 98.7 L81.2 98.8 L81.5 99.0 L81.8 99.2 L82.2 99.3 L82.5 99.5 L83.1 99.6 L83.1 90.6 L82.5 90.9 L82.2 91.3 L81.8 91.6 L81.5 91.9 L81.2 92.2 L80.8 92.4 L80.5 92.6 L80.1 92.7 L79.8 92.6 L79.4 92.6 L79.0 92.3 L78.7 91.9 L78.3 91.4 L78.0 90.8 L77.7 90.1 L77.3 89.4 L77.0 88.7 L76.6 88.0Z" fill="#00f500"/>
<path d="M82.9 99.6 L83.2 99.8 L83.6 99.9 L84.0 100.0 L84.3 100.2 L84.7 100.3 L85.0 100.5 L85.3 100.7 L85.7 100.8 L86.2 101.0 L86.2 88.2 L85.7 88.4 L85.3 88.7 L85.0 88.9 L84.7 89.2 L84.3 89.4 L84.0 89.6 L83.6 89.9 L83.2 90.2 L82.9 90.6Z" fill="#00ff6e"/>
<path d="M86.0 101.0 L86.4 101.1 L86.8 101.2 L87.1 101.4 L87.5 101.5 L87.8 101.7 L88.2 101.8 L88.5 102.0 L88.8 102.2 L89.2 102.3 L89.5 102.5 L89.9 102.6 L90.2 102.8 L90.6 102.9 L91.1 103.0 L91.1 86.6 L90.6 86.6 L90.2 86.5 L89.9 86.5 L89.5 86.5 L89.2 86.5 L88.8 86.6 L88.5 86.7 L88.2 86.8 L87.8 87.0 L87.5 87.2 L87.1 87.4 L86.8 87.6 L86.4 87.9 L86.0 88.2Z" fill="#00ffff"/>
<path d="M91.0 103.0 L91.3 103.2 L91.7 103.3 L92.0 103.5 L92.3 103.7 L92.7 103.8 L93.0 104.0 L93.4 104.1 L93.8 104.2 L94.1 104.4 L94.5 104.5 L94.8 104.7 L95.2 104.8 L95.5 105.0 L95.8 105.2 L96.2 105.3 L96.5 105.5 L96.9 105.6 L97.2 105.8 L97.6 105.9 L98.0 106.0 L98.3 106.2 L98.7 106.3 L99.0 106.5 L99.3 106.7 L99.7 106.8 L100.0 107.0 L100.4 107.1 L100.8 107.2 L101.1 107.4 L101.4 107.5 L101.8 107.7 L102.2 107.8 L102.5 108.0 L102.8 108.2 L103.2 108.3 L103.5 108.5 L103.9 108.6 L104.2 108.8 L104.6 108.9 L105.0 109.0 L105.3 109.2 L105.8 109.3 L105.8 92.8 L105.3 92.5 L105.0 92.2 L104.6 91.9 L104.2 91.6 L103.9 91.3 L103.5 91.1 L103.2 90.8 L102.8 90.5 L102.5 90.2 L102.2 90.0 L101.8 89.7 L101.4 89.5 L101.1 89.2 L100.8 89.0 L100.4 88.8 L100.0 88.6 L99.7 88.4 L99.3 88.1 L99.0 87.9 L98.7 87.7 L98.3 87.5 L98.0 87.3 L97.6 87.1 L97.2 86.9 L96.9 86.8 L96.5 86.6 L96.2 86.4 L95.8 86.2 L95.5 86.1 L95.2 86.0 L94.8 86.0 L94.5 86.0 L94.1 86.1 L93.8 86.2 L93.4 86.3 L93.0 86.4 L92.7 86.5 L92.3 86.6 L92.0 86.7 L91.7 86.7 L91.3 86.6 L91.0 86.6Z" fill="#0000dc"/>
<path d="M105.7 109.3 L106.0 109.5 L106.3 109.7 L106.7 109.8 L107.0 110.0 L107.4 110.1 L107.8 110.2 L108.1 110.4 L108.4 110.5 L108.8 110.7 L109.2 110.8 L109.5 111.0 L109.8 111.2 L110.2 111.3 L110.5 111.5 L110.9 111.6 L111.4 111.8 L111.4 99.0 L110.9 98.7 L110.5 98.2 L110.2 97.8 L109.8 97.4 L109.5 97.0 L109.2 96.6 L108.8 96.2 L108.4 95.8 L108.1 95.4 L107.8 95.0 L107.4 94.6 L107.0 94.2 L106.7 93.9 L106.3 93.5 L106.0 93.2 L105.7 92.8Z" fill="#00ffff"/>
<path d="M111.2 111.8 L111.6 111.9 L111.9 112.0 L112.3 112.2 L112.7 112.3 L113.0 112.5 L113.3 112.7 L113.7 112.8 L114.1 113.0 L114.4 113.1 L114.8 113.2 L115.1 113.4 L115.5 113.5 L115.8 113.7 L116.2 113.8 L116.5 114.0 L117.0 114.2 L117.0 105.4 L116.5 105.0 L116.2 104.7 L115.8 104.3 L115.5 103.9 L115.1 103.5 L114.8 103.1 L114.4 102.7 L114.1 102.3 L113.7 101.9 L113.3 101.5 L113.0 101.1 L112.7 100.6 L112.3 100.2 L111.9 99.8 L111.6 99.4 L111.2 99.0Z" fill="#00ff6e"/>
<path d="M116.8 114.2 L117.2 114.3 L117.5 114.5 L117.9 114.6 L118.2 114.8 L118.6 114.9 L119.0 115.0 L119.3 115.2 L119.7 115.3 L120.0 115.5 L120.3 115.7 L120.7 115.8 L121.0 116.0 L121.4 116.1 L121.9 116.2 L121.9 108.1 L121.4 109.8 L121.0 109.8 L120.7 109.5 L120.3 109.1 L120.0 108.8 L119.7 108.4 L119.3 108.0 L119.0 107.7 L118.6 107.3 L118.2 106.9 L117.9 106.6 L117.5 106.2 L117.2 105.8 L116.8 105.4Z" fill="#00f500"/>
<path d="M121.8 116.2 L122.1 116.4 L122.4 116.5 L122.8 116.7 L123.3 116.8 L123.3 109.7 L122.8 106.1 L122.4 105.9 L122.1 106.1 L121.8 108.1Z" fill="#00ff6e"/>
<path d="M123.2 116.8 L123.7 117.0 L123.7 117.0 L123.2 109.7Z" fill="#6efa00"/>
<path d="M76.5 96.1 V88.4 M82.1 98.5 V92.0 M87.7 100.9 V87.6 M93.3 103.3 V86.9 M98.9 105.7 V88.5 M104.5 108.1 V92.4 M110.1 110.5 V98.3 M115.7 112.9 V104.8 M121.3 115.3 V110.5" stroke="#f4f4ff" stroke-opacity="0.8" stroke-width="0.55" fill="none"/>
<path d="M74.5 96.0 L123.5 117.0" stroke="#2c3c90" stroke-width="0.8"/>
<path d="M145.5 51.0 L145.8 51.1 L146.1 51.3 L146.4 51.4 L146.8 51.6 L147.2 51.7 L147.2 58.3 L146.8 57.5 L146.4 56.7 L146.1 55.9 L145.8 55.1 L145.5 54.2Z" fill="#e1f000"/>
<path d="M147.1 51.7 L147.4 51.9 L147.7 52.0 L148.0 52.1 L148.3 52.3 L148.6 52.4 L149.0 52.6 L149.4 52.7 L149.4 63.2 L149.0 62.6 L148.6 61.9 L148.3 61.2 L148.0 60.5 L147.7 59.8 L147.4 59.0 L147.1 58.3Z" fill="#ffff00"/>
<path d="M149.3 52.7 L149.6 52.9 L149.9 53.0 L150.2 53.1 L150.5 53.3 L150.8 53.4 L151.2 53.6 L151.5 53.7 L151.8 53.9 L152.2 54.0 L152.2 68.5 L151.8 68.0 L151.5 67.4 L151.2 66.9 L150.8 66.3 L150.5 65.7 L150.2 65.1 L149.9 64.5 L149.6 63.9 L149.3 63.2Z" fill="#ffaa00"/>
<path d="M152.1 54.0 L152.4 54.1 L152.7 54.3 L153.0 54.4 L153.4 54.6 L153.7 54.7 L154.0 54.9 L154.3 55.0 L154.6 55.1 L154.9 55.3 L155.2 55.4 L155.6 55.6 L156.0 55.7 L156.0 73.9 L155.6 73.5 L155.2 73.1 L154.9 72.7 L154.6 72.3 L154.3 71.8 L154.0 71.4 L153.7 70.9 L153.4 70.5 L153.0 70.0 L152.7 69.5 L152.4 69.0 L152.1 68.5Z" fill="#ff6e00"/>
<path d="M155.9 55.7 L156.2 55.9 L156.5 56.0 L156.8 56.1 L157.1 56.3 L157.4 56.4 L157.8 56.6 L158.1 56.7 L158.4 56.9 L158.7 57.0 L159.0 57.1 L159.3 57.3 L159.6 57.4 L160.0 57.6 L160.3 57.7 L160.6 57.9 L160.9 58.0 L161.2 58.1 L161.5 58.3 L161.8 58.4 L162.2 58.6 L162.5 58.7 L162.8 58.9 L163.1 59.0 L163.4 59.1 L163.7 59.3 L164.0 59.4 L164.4 59.6 L164.7 59.7 L165.0 59.9 L165.3 60.0 L165.6 60.1 L165.9 60.3 L166.2 60.4 L166.6 60.6 L166.9 60.7 L167.2 60.9 L167.5 61.0 L167.8 61.1 L168.1 61.3 L168.4 61.4 L168.8 61.6 L169.1 61.7 L169.4 61.9 L169.7 62.0 L170.0 62.1 L170.3 62.3 L170.6 62.4 L171.0 62.6 L171.3 62.7 L171.6 62.9 L172.1 63.0 L172.1 85.0 L171.6 84.9 L171.3 84.7 L171.0 84.6 L170.6 84.4 L170.3 84.3 L170.0 84.1 L169.7 84.0 L169.4 83.8 L169.1 83.7 L168.8 83.6 L168.4 83.4 L168.1 83.2 L167.8 83.1 L167.5 82.9 L167.2 82.8 L166.9 82.6 L166.6 82.5 L166.2 82.3 L165.9 82.1 L165.6 81.9 L165.3 81.8 L165.0 81.6 L164.7 81.4 L164.4 81.2 L164.0 81.0 L163.7 80.8 L163.4 80.6 L163.1 80.4 L162.8 80.2 L162.5 80.0 L162.2 79.8 L161.8 79.6 L161.5 79.3 L161.2 79.1 L160.9 78.8 L160.6 78.6 L160.3 78.3 L160.0 78.1 L159.6 77.8 L159.3 77.5 L159.0 77.2 L158.7 76.9 L158.4 76.6 L158.1 76.3 L157.8 76.0 L157.4 75.7 L157.1 75.3 L156.8 75.0 L156.5 74.6 L156.2 74.3 L155.9 73.9Z" fill="#ff2800"/>
<path d="M171.9 63.0 L172.2 63.1 L172.5 63.3 L172.8 63.4 L173.2 63.6 L173.5 63.7 L173.8 63.9 L174.1 64.0 L174.4 64.1 L174.7 64.3 L175.0 64.4 L175.4 64.6 L175.7 64.7 L176.0 64.9 L176.3 65.0 L176.6 65.1 L176.9 65.3 L177.2 65.4 L177.6 65.6 L178.0 65.7 L178.0 49.3 L177.6 48.9 L177.2 48.4 L176.9 48.0 L176.6 47.6 L176.3 47.2 L176.0 46.8 L175.7 46.4 L175.4 46.0 L175.0 45.6 L174.7 45.2 L174.4 44.9 L174.1 44.5 L173.8 44.2 L173.5 43.9 L173.2 43.6 L172.8 43.3 L172.5 43.1 L172.2 42.8 L171.9 85.0Z" fill="#0000dc"/>
<path d="M177.9 65.7 L178.2 65.9 L178.5 66.0 L178.8 66.1 L179.1 66.3 L179.4 66.4 L179.8 66.6 L180.1 66.7 L180.4 66.9 L180.7 67.0 L181.2 67.1 L181.2 54.3 L180.7 53.8 L180.4 53.3 L180.1 52.8 L179.8 52.3 L179.4 51.8 L179.1 51.3 L178.8 50.8 L178.5 50.3 L178.2 49.8 L177.9 49.3Z" fill="#00ffff"/>
<path d="M181.0 67.1 L181.3 67.3 L181.6 67.4 L182.0 67.6 L182.3 67.7 L182.6 67.9 L182.9 68.0 L183.2 68.1 L183.5 68.3 L184.0 68.4 L184.0 59.4 L183.5 58.8 L183.2 58.3 L182.9 57.7 L182.6 57.1 L182.3 56.5 L182.0 56.0 L181.6 55.4 L181.3 54.9 L181.0 54.3Z" fill="#00ff6e"/>
<path d="M183.8 68.4 L184.2 68.6 L184.5 68.7 L184.8 68.9 L185.1 69.0 L185.4 69.1 L185.7 69.3 L186.0 69.4 L186.4 69.6 L186.8 69.7 L186.8 65.0 L186.4 64.4 L186.0 63.7 L185.7 63.1 L185.4 62.5 L185.1 61.8 L184.8 61.2 L184.5 60.6 L184.2 60.0 L183.8 59.4Z" fill="#00f500"/>
<path d="M186.7 69.7 L187.0 69.9 L187.3 70.0 L187.6 70.1 L187.9 70.3 L188.2 70.4 L188.6 70.6 L188.9 70.7 L189.2 70.9 L189.7 71.0 L189.7 71.0 L189.2 70.3 L188.9 69.6 L188.6 69.0 L188.2 68.3 L187.9 67.6 L187.6 67.0 L187.3 66.3 L187.0 65.6 L186.7 65.0Z" fill="#6efa00"/>
<path d="M148.5 53.2 V61.0 M154.5 55.9 V71.5 M160.5 58.6 V77.9 M166.5 61.3 V81.8 M172.5 62.5 V43.7 M178.5 65.2 V50.9 M184.5 67.9 V61.3" stroke="#f4f4ff" stroke-opacity="0.8" stroke-width="0.55" fill="none"/>
<path d="M145.5 51.0 L189.5 71.0" stroke="#2c3c90" stroke-width="0.8"/>
<path d="M220.3 23.3 L220.6 23.5 L220.8 23.6 L221.1 23.8 L221.4 23.9 L221.7 24.1 L221.9 24.3 L222.4 24.4 L222.4 15.4 L221.9 15.7 L221.7 15.9 L221.4 16.2 L221.1 16.5 L220.8 16.7 L220.6 17.0 L220.3 17.3Z" fill="#00f500"/>
<path d="M222.2 24.4 L222.5 24.6 L222.8 24.7 L223.0 24.9 L223.3 25.0 L223.6 25.2 L223.8 25.4 L224.1 25.5 L224.4 25.7 L224.7 25.8 L224.9 26.0 L225.4 26.2 L225.4 13.5 L224.9 13.6 L224.7 13.7 L224.4 13.9 L224.1 14.1 L223.8 14.2 L223.6 14.4 L223.3 14.6 L223.0 14.8 L222.8 15.0 L222.5 15.2 L222.2 15.4Z" fill="#00ff6e"/>
<path d="M225.2 26.2 L225.5 26.3 L225.8 26.5 L226.0 26.6 L226.3 26.8 L226.6 26.9 L226.8 27.1 L227.1 27.3 L227.4 27.4 L227.7 27.6 L227.9 27.7 L228.2 27.9 L228.5 28.1 L228.8 28.2 L229.0 28.4 L229.3 28.5 L229.6 28.7 L229.9 28.9 L230.1 29.0 L230.5 29.2 L230.5 12.6 L230.1 12.6 L229.9 12.6 L229.6 12.6 L229.3 12.6 L229.0 12.7 L228.8 12.7 L228.5 12.7 L228.2 12.8 L227.9 12.8 L227.7 12.8 L227.4 12.9 L227.1 12.9 L226.8 13.0 L226.6 13.1 L226.3 13.2 L226.0 13.2 L225.8 13.3 L225.5 13.4 L225.2 13.5Z" fill="#00ffff"/>
<path d="M230.4 29.2 L230.7 29.3 L230.9 29.5 L231.2 29.6 L231.5 29.8 L231.8 30.0 L232.0 30.1 L232.3 30.3 L232.6 30.4 L232.9 30.6 L233.1 30.8 L233.4 30.9 L233.7 31.1 L233.9 31.2 L234.2 31.4 L234.5 31.5 L234.8 31.7 L235.0 31.9 L235.3 32.0 L235.6 32.2 L235.9 32.3 L236.1 32.5 L236.4 32.7 L236.7 32.8 L236.9 33.0 L237.2 33.1 L237.5 33.3 L237.8 33.4 L238.0 33.6 L238.3 33.8 L238.6 33.9 L238.9 34.1 L239.1 34.2 L239.4 34.4 L239.7 34.6 L239.9 34.7 L240.2 34.9 L240.5 35.0 L240.8 35.2 L241.0 35.4 L241.3 35.5 L241.6 35.7 L241.9 35.8 L242.1 36.0 L242.4 36.1 L242.7 36.3 L242.9 36.5 L243.2 36.6 L243.5 36.8 L243.8 36.9 L244.0 37.1 L244.3 37.3 L244.6 37.4 L244.9 37.6 L245.1 37.7 L245.4 37.9 L245.7 38.0 L245.9 38.2 L246.2 38.4 L246.5 38.5 L246.8 38.7 L247.0 38.8 L247.3 39.0 L247.6 39.2 L247.9 39.3 L248.1 39.5 L248.4 39.6 L248.7 39.8 L248.9 40.0 L249.2 40.1 L249.5 40.3 L249.8 40.4 L250.2 40.6 L250.2 24.1 L249.8 23.8 L249.5 23.5 L249.2 23.3 L248.9 23.0 L248.7 22.8 L248.4 22.5 L248.1 22.3 L247.9 22.1 L247.6 21.8 L247.3 21.6 L247.0 21.4 L246.8 21.2 L246.5 20.9 L246.2 20.7 L245.9 20.5 L245.7 20.3 L245.4 20.1 L245.1 19.9 L244.9 19.7 L244.6 19.5 L244.3 19.3 L244.0 19.1 L243.8 18.9 L243.5 18.7 L243.2 18.5 L242.9 18.3 L242.7 18.1 L242.4 17.9 L242.1 17.8 L241.9 17.6 L241.6 17.4 L241.3 17.2 L241.0 17.0 L240.8 16.8 L240.5 16.6 L240.2 16.4 L239.9 16.3 L239.7 16.1 L239.4 15.9 L239.1 15.7 L238.9 15.5 L238.6 15.4 L238.3 15.2 L238.0 15.0 L237.8 14.8 L237.5 14.7 L237.2 14.5 L236.9 14.3 L236.7 14.1 L236.4 14.0 L236.1 13.8 L235.9 13.7 L235.6 13.5 L235.3 13.3 L235.0 13.2 L234.8 13.1 L234.5 13.0 L234.2 12.9 L233.9 12.9 L233.7 12.8 L233.4 12.8 L233.1 12.7 L232.9 12.7 L232.6 12.7 L232.3 12.7 L232.0 12.7 L231.8 12.7 L231.5 12.7 L231.2 12.7 L230.9 12.7 L230.7 12.7 L230.4 12.6Z" fill="#0000dc"/>
<path d="M250.0 40.6 L250.3 40.7 L250.6 40.9 L250.9 41.1 L251.1 41.2 L251.4 41.4 L251.7 41.5 L252.0 41.7 L252.2 41.9 L252.5 42.0 L252.8 42.2 L253.0 42.3 L253.3 42.5 L253.6 42.6 L253.9 42.8 L254.3 43.0 L254.3 30.2 L253.9 29.7 L253.6 29.3 L253.3 28.8 L253.0 28.3 L252.8 27.9 L252.5 27.4 L252.2 27.0 L252.0 26.5 L251.7 26.1 L251.4 25.7 L251.1 25.3 L250.9 25.0 L250.6 24.6 L250.3 24.3 L250.0 24.1Z" fill="#00ffff"/>
<path d="M254.1 43.0 L254.4 43.1 L254.7 43.3 L255.0 43.4 L255.2 43.6 L255.5 43.8 L255.8 43.9 L256.0 44.1 L256.3 44.2 L256.6 44.4 L257.0 44.5 L257.0 35.6 L256.6 35.1 L256.3 34.5 L256.0 33.9 L255.8 33.4 L255.5 32.8 L255.2 32.2 L255.0 31.7 L254.7 31.2 L254.4 30.7 L254.1 30.2Z" fill="#00ff6e"/>
<path d="M256.9 44.5 L257.1 44.7 L257.4 44.9 L257.7 45.0 L258.0 45.2 L258.2 45.3 L258.6 45.5 L258.6 38.9 L258.2 38.4 L258.0 37.8 L257.7 37.3 L257.4 36.7 L257.1 36.2 L256.9 35.6Z" fill="#00f500"/>
<path d="M224.3 24.8 V14.5 M229.9 28.1 V13.2 M235.5 31.3 V14.0 M241.1 34.6 V17.6 M246.7 37.8 V21.7 M252.3 41.1 V27.7 M257.9 44.4 V38.3" stroke="#f4f4ff" stroke-opacity="0.8" stroke-width="0.55" fill="none"/>
<path d="M220.3 23.3 L258.5 45.5" stroke="#2c3c90" stroke-width="0.8"/>
<path d="M290.5 27.4 L291.0 27.6 L291.0 34.0 L290.5 33.2Z" fill="#e1f000"/>
<path d="M290.9 27.6 L291.2 27.7 L291.6 27.9 L291.9 28.1 L292.3 28.2 L292.6 28.4 L293.0 28.5 L293.4 28.7 L293.9 28.9 L293.9 39.5 L293.4 38.9 L293.0 38.2 L292.6 37.6 L292.3 36.9 L291.9 36.2 L291.6 35.5 L291.2 34.7 L290.9 34.0Z" fill="#ffff00"/>
<path d="M293.7 28.9 L294.1 29.0 L294.4 29.2 L294.8 29.4 L295.1 29.5 L295.5 29.7 L295.9 29.9 L296.2 30.0 L296.6 30.2 L297.1 30.4 L297.1 44.8 L296.6 44.2 L296.2 43.7 L295.9 43.1 L295.5 42.6 L295.1 42.0 L294.8 41.4 L294.4 40.8 L294.1 40.2 L293.7 39.5Z" fill="#ffaa00"/>
<path d="M296.9 30.4 L297.3 30.5 L297.6 30.7 L298.0 30.8 L298.4 31.0 L298.7 31.2 L299.1 31.3 L299.4 31.5 L299.8 31.7 L300.1 31.8 L300.5 32.0 L300.9 32.2 L301.2 32.3 L301.7 32.5 L301.7 50.7 L301.2 50.3 L300.9 49.9 L300.5 49.4 L300.1 49.0 L299.8 48.6 L299.4 48.2 L299.1 47.7 L298.7 47.2 L298.4 46.8 L298.0 46.3 L297.6 45.8 L297.3 45.3 L296.9 44.8Z" fill="#ff6e00"/>
<path d="M301.6 32.5 L301.9 32.7 L302.3 32.8 L302.6 33.0 L303.0 33.1 L303.4 33.3 L303.7 33.5 L304.1 33.6 L304.4 33.8 L304.8 34.0 L305.1 34.1 L305.5 34.3 L305.9 34.5 L306.2 34.6 L306.6 34.8 L306.9 35.0 L307.3 35.1 L307.6 35.3 L308.0 35.4 L308.4 35.6 L308.7 35.8 L309.1 35.9 L309.4 36.1 L309.8 36.3 L310.1 36.4 L310.5 36.6 L310.9 36.8 L311.2 36.9 L311.6 37.1 L311.9 37.3 L312.3 37.4 L312.6 37.6 L313.0 37.8 L313.4 37.9 L313.7 38.1 L314.1 38.2 L314.4 38.4 L314.8 38.6 L315.1 38.7 L315.5 38.9 L315.9 39.1 L316.2 39.2 L316.6 39.4 L316.9 39.6 L317.3 39.7 L317.6 39.9 L318.0 40.0 L318.4 40.2 L318.7 40.4 L319.1 40.5 L319.4 40.7 L319.8 40.9 L320.1 41.0 L320.5 41.2 L320.9 41.4 L321.4 41.5 L321.4 21.2 L320.9 63.4 L320.5 63.2 L320.1 63.0 L319.8 62.9 L319.4 62.7 L319.1 62.5 L318.7 62.4 L318.4 62.2 L318.0 62.0 L317.6 61.9 L317.3 61.7 L316.9 61.5 L316.6 61.4 L316.2 61.2 L315.9 61.0 L315.5 60.8 L315.1 60.7 L314.8 60.5 L314.4 60.3 L314.1 60.1 L313.7 59.9 L313.4 59.7 L313.0 59.5 L312.6 59.3 L312.3 59.1 L311.9 58.9 L311.6 58.7 L311.2 58.5 L310.9 58.3 L310.5 58.1 L310.1 57.8 L309.8 57.6 L309.4 57.4 L309.1 57.1 L308.7 56.9 L308.4 56.6 L308.0 56.4 L307.6 56.1 L307.3 55.9 L306.9 55.6 L306.6 55.3 L306.2 55.0 L305.9 54.7 L305.5 54.4 L305.1 54.1 L304.8 53.8 L304.4 53.5 L304.1 53.2 L303.7 52.8 L303.4 52.5 L303.0 52.1 L302.6 51.8 L302.3 51.4 L301.9 51.0 L301.6 50.7Z" fill="#ff2800"/>
<path d="M321.2 41.5 L321.6 41.7 L321.9 41.9 L322.3 42.0 L322.6 42.2 L323.0 42.4 L323.4 42.5 L323.7 42.7 L324.1 42.8 L324.4 43.0 L324.8 43.2 L325.1 43.3 L325.5 43.5 L326.0 43.7 L326.0 27.1 L325.5 26.6 L325.1 26.1 L324.8 25.6 L324.4 25.1 L324.1 24.7 L323.7 24.2 L323.4 23.7 L323.0 23.3 L322.6 22.8 L322.3 22.4 L321.9 22.0 L321.6 21.6 L321.2 21.2Z" fill="#0000dc"/>
<path d="M325.9 43.7 L326.2 43.8 L326.6 44.0 L326.9 44.2 L327.3 44.3 L327.6 44.5 L328.0 44.6 L328.4 44.8 L328.7 45.0 L329.1 45.1 L329.4 45.3 L329.9 45.5 L329.9 32.9 L329.4 32.4 L329.1 31.8 L328.7 31.3 L328.4 30.7 L328.0 30.2 L327.6 29.7 L327.3 29.2 L326.9 28.6 L326.6 28.1 L326.2 27.6 L325.9 27.1Z" fill="#00ffff"/>
<path d="M329.8 45.5 L330.1 45.6 L330.5 45.8 L330.9 46.0 L331.2 46.1 L331.6 46.3 L331.9 46.5 L332.3 46.6 L332.6 46.8 L333.0 47.0 L333.5 47.1 L333.5 38.5 L333.0 37.9 L332.6 37.4 L332.3 36.8 L331.9 36.2 L331.6 35.7 L331.2 35.1 L330.9 34.5 L330.5 34.0 L330.1 33.4 L329.8 32.9Z" fill="#00ff6e"/>
<path d="M333.4 47.1 L333.7 47.3 L334.1 47.4 L334.4 47.6 L334.8 47.8 L335.1 47.9 L335.5 48.1 L335.9 48.3 L336.2 48.4 L336.7 48.6 L336.7 43.8 L336.2 43.2 L335.9 42.6 L335.5 42.0 L335.1 41.4 L334.8 40.8 L334.4 40.2 L334.1 39.7 L333.7 39.1 L333.4 38.5Z" fill="#00f500"/>
<path d="M336.6 48.6 L336.9 48.8 L337.3 48.9 L337.6 49.1 L338.0 49.2 L338.4 49.4 L338.7 49.6 L339.1 49.7 L339.4 49.9 L339.8 50.1 L340.1 50.2 L340.6 50.4 L340.6 50.4 L340.1 49.8 L339.8 49.2 L339.4 48.6 L339.1 48.0 L338.7 47.4 L338.4 46.8 L338.0 46.1 L337.6 45.5 L337.3 45.0 L336.9 44.4 L336.6 43.8Z" fill="#6efa00"/>
<path d="M293.5 29.6 V38.6 M299.5 32.3 V47.6 M305.5 35.1 V53.8 M311.5 37.9 V58.1 M317.5 40.6 V61.2 M323.5 41.8 V24.5 M329.5 44.5 V33.1 M335.5 47.3 V42.6" stroke="#f4f4ff" stroke-opacity="0.8" stroke-width="0.55" fill="none"/>
<path d="M290.5 27.4 L340.5 50.4" stroke="#2c3c90" stroke-width="0.8"/>
<path d="M362.3 52.3 L362.6 52.4 L362.9 52.6 L363.2 52.7 L363.5 52.9 L363.9 53.0 L363.9 48.1 L363.5 48.5 L363.2 48.8 L362.9 49.2 L362.6 49.6 L362.3 50.0Z" fill="#6efa00"/>
<path d="M363.8 53.0 L364.1 53.1 L364.4 53.3 L364.7 53.4 L365.0 53.6 L365.3 53.7 L365.6 53.8 L365.9 54.0 L366.3 54.1 L366.3 45.2 L365.9 45.6 L365.6 45.9 L365.3 46.3 L365.0 46.6 L364.7 47.0 L364.4 47.3 L364.1 47.7 L363.8 48.1Z" fill="#00f500"/>
<path d="M366.2 54.1 L366.5 54.3 L366.8 54.4 L367.1 54.6 L367.4 54.7 L367.7 54.8 L368.0 55.0 L368.3 55.1 L368.7 55.3 L368.7 42.6 L368.3 42.8 L368.0 43.0 L367.7 43.4 L367.4 43.7 L367.1 44.0 L366.8 44.4 L366.5 44.8 L366.2 45.2Z" fill="#00ff6e"/>
<path d="M368.6 55.3 L368.9 55.4 L369.2 55.5 L369.4 55.7 L369.7 55.8 L370.0 56.0 L370.3 56.1 L370.6 56.2 L370.9 56.4 L371.2 56.5 L371.5 56.7 L371.8 56.8 L372.1 56.9 L372.4 57.1 L372.7 57.2 L373.2 57.4 L373.2 40.9 L372.7 40.8 L372.4 40.8 L372.1 40.8 L371.8 40.8 L371.5 40.9 L371.2 41.0 L370.9 41.1 L370.6 41.3 L370.3 41.4 L370.0 41.6 L369.7 41.8 L369.4 42.0 L369.2 42.2 L368.9 42.4 L368.6 42.6Z" fill="#00ffff"/>
<path d="M373.0 57.4 L373.3 57.5 L373.6 57.6 L373.9 57.8 L374.2 57.9 L374.5 58.1 L374.8 58.2 L375.1 58.4 L375.4 58.5 L375.7 58.6 L376.0 58.8 L376.3 58.9 L376.6 59.1 L376.9 59.2 L377.2 59.3 L377.5 59.5 L377.8 59.6 L378.1 59.8 L378.4 59.9 L378.7 60.0 L379.0 60.2 L379.3 60.3 L379.6 60.5 L379.9 60.6 L380.2 60.7 L380.5 60.9 L380.8 61.0 L381.1 61.2 L381.4 61.3 L381.7 61.4 L382.0 61.6 L382.3 61.7 L382.6 61.9 L382.9 62.0 L383.1 62.1 L383.4 62.3 L383.7 62.4 L384.0 62.6 L384.3 62.7 L384.6 62.9 L384.9 63.0 L385.2 63.1 L385.5 63.3 L385.8 63.4 L386.1 63.6 L386.4 63.7 L386.7 63.8 L387.0 64.0 L387.3 64.1 L387.8 64.3 L387.8 47.8 L387.3 47.6 L387.0 47.4 L386.7 47.2 L386.4 47.0 L386.1 46.9 L385.8 46.7 L385.5 46.5 L385.2 46.4 L384.9 46.2 L384.6 46.1 L384.3 45.9 L384.0 45.7 L383.7 45.6 L383.4 45.4 L383.1 45.3 L382.9 45.1 L382.6 45.0 L382.3 44.8 L382.0 44.7 L381.7 44.6 L381.4 44.4 L381.1 44.3 L380.8 44.1 L380.5 44.0 L380.2 43.8 L379.9 43.7 L379.6 43.5 L379.3 43.4 L379.0 43.3 L378.7 43.1 L378.4 43.0 L378.1 42.8 L377.8 42.7 L377.5 42.5 L377.2 42.4 L376.9 42.3 L376.6 42.1 L376.3 42.0 L376.0 41.9 L375.7 41.7 L375.4 41.6 L375.1 41.5 L374.8 41.4 L374.5 41.3 L374.2 41.2 L373.9 41.1 L373.6 41.0 L373.3 41.0 L373.0 40.9Z" fill="#0000dc"/>
<path d="M387.6 64.3 L387.9 64.4 L388.2 64.5 L388.5 64.7 L388.8 64.8 L389.1 65.0 L389.4 65.1 L389.7 65.2 L390.0 65.4 L390.3 65.5 L390.6 65.7 L390.9 65.8 L391.2 65.9 L391.5 66.1 L391.8 66.2 L392.1 66.4 L392.4 66.5 L392.7 66.7 L393.1 66.8 L393.1 54.2 L392.7 53.9 L392.4 53.5 L392.1 53.1 L391.8 52.7 L391.5 52.3 L391.2 51.8 L390.9 51.4 L390.6 51.0 L390.3 50.6 L390.0 50.2 L389.7 49.8 L389.4 49.5 L389.1 49.1 L388.8 48.8 L388.5 48.5 L388.2 48.2 L387.9 48.0 L387.6 47.8Z" fill="#00ffff"/>
<path d="M393.0 66.8 L393.3 66.9 L393.6 67.1 L393.9 67.2 L394.2 67.4 L394.5 67.5 L394.8 67.6 L395.1 67.8 L395.4 67.9 L395.7 68.1 L396.0 68.2 L396.3 68.3 L396.6 68.5 L396.9 68.6 L397.1 68.8 L397.4 68.9 L397.7 69.0 L398.2 69.2 L398.2 60.3 L397.7 59.9 L397.4 59.5 L397.1 59.1 L396.9 58.8 L396.6 58.4 L396.3 58.0 L396.0 57.7 L395.7 57.3 L395.4 57.0 L395.1 56.6 L394.8 56.3 L394.5 56.0 L394.2 55.6 L393.9 55.3 L393.6 54.9 L393.3 54.6 L393.0 54.2Z" fill="#00ff6e"/>
<path d="M398.0 69.2 L398.3 69.3 L398.6 69.5 L398.9 69.6 L399.2 69.7 L399.5 69.9 L399.8 70.0 L400.1 70.2 L400.4 70.3 L400.7 70.5 L401.0 70.6 L401.3 70.7 L401.6 70.9 L401.9 71.0 L402.2 71.2 L402.5 71.3 L402.8 71.4 L403.1 71.6 L403.4 71.7 L403.9 71.9 L403.9 66.5 L403.4 63.7 L403.1 63.5 L402.8 63.7 L402.5 64.9 L402.2 66.0 L401.9 65.9 L401.6 65.7 L401.3 65.5 L401.0 65.3 L400.7 65.0 L400.4 64.6 L400.1 64.1 L399.8 63.6 L399.5 63.0 L399.2 62.4 L398.9 61.8 L398.6 61.3 L398.3 60.7 L398.0 60.3Z" fill="#00f500"/>
<path d="M403.7 71.9 L404.1 72.0 L404.1 72.0 L403.7 66.5Z" fill="#6efa00"/>
<path d="M365.8 53.2 V46.2 M371.4 55.8 V41.5 M377.0 58.4 V42.9 M382.6 61.1 V45.6 M388.2 63.7 V48.8 M393.8 66.4 V55.8 M399.4 69.0 V63.3" stroke="#f4f4ff" stroke-opacity="0.8" stroke-width="0.55" fill="none"/>
<path d="M362.3 52.3 L404.0 72.0" stroke="#2c3c90" stroke-width="0.8"/>
<path d="M68.2 174.0 L68.5 173.2 L68.7 172.4 L69.0 171.6 L69.2 170.7 L69.5 169.9 L69.8 169.1 L70.0 168.3 L70.3 167.5 L70.6 166.8 L70.8 166.0 L71.1 165.2 L71.4 164.4 L71.6 163.6 L71.9 162.8 L72.2 162.0 L72.4 161.2 L72.6 160.8 L80.0 167.2 L76.5 164.2 L76.5 164.2 L76.2 164.5 L75.7 165.1 L75.2 165.7 L74.7 166.2 L74.2 166.8 L73.7 167.4 L73.2 168.0 L72.7 168.6 L72.2 169.2 L71.7 169.8 L71.2 170.4 L70.7 171.0 L70.2 171.5 L69.7 172.2 L69.2 172.8 L68.7 173.4 L68.2 174.0Z" fill="#98ec5a" stroke="#8ae84c" stroke-width="0.45" stroke-linejoin="round"/>
<path d="M80.0 167.2 L80.1 166.9 L80.4 166.2 L80.6 165.4 L80.9 164.7 L81.2 164.0 L81.5 163.2 L81.8 162.5 L82.1 161.7 L82.4 161.0 L80.7 159.5 L80.2 160.0 L79.7 160.6 L79.2 161.1 L78.7 161.7 L78.2 162.3 L77.7 162.8 L77.2 163.4 L76.7 164.0 L76.5 164.2Z" fill="#eef248" stroke="#e4ec30" stroke-width="0.45" stroke-linejoin="round"/>
<path d="M82.4 161.0 L82.7 160.3 L82.9 159.5 L83.2 158.8 L83.5 158.1 L83.8 157.3 L84.1 156.6 L84.4 155.9 L84.7 155.1 L84.7 155.1 L84.2 155.7 L83.7 156.2 L83.2 156.8 L82.7 157.3 L82.2 157.8 L81.7 158.4 L81.2 158.9 L80.7 159.5Z" fill="#c4f05a" stroke="#b6ec40" stroke-width="0.45" stroke-linejoin="round"/>
<path d="M84.7 155.1 L85.2 154.6 L85.6 154.0 L86.1 153.4 L86.5 152.9 L87.0 152.3 L87.4 151.7 L87.9 151.2 L88.4 150.6 L88.6 150.3 L88.8 150.0 L89.1 149.3 L89.4 148.6 L89.7 147.9 L90.1 147.2 L90.4 146.6 L90.7 145.9 L91.0 145.2 L91.4 144.5 L91.7 143.8 L91.9 143.4 L92.1 143.2 L92.5 142.6 L93.0 142.1 L93.4 141.6 L93.9 141.0 L94.3 140.5 L94.8 139.9 L95.2 139.4 L95.7 138.8 L96.1 138.3 L96.6 137.7 L97.1 137.2 L97.5 136.7 L98.0 136.1 L98.4 135.6 L98.9 135.1 L99.3 134.5 L99.8 134.0 L100.2 133.5 L100.7 133.0 L101.2 132.4 L101.4 132.1 L101.6 131.9 L102.2 131.5 L102.7 131.0 L103.2 130.6 L103.7 130.1 L104.2 129.7 L104.8 129.3 L105.3 128.8 L105.8 128.4 L106.3 127.9 L106.9 127.5 L107.4 127.1 L107.9 126.6 L108.4 126.2 L108.9 125.8 L109.5 125.3 L110.0 124.9 L110.5 124.5 L111.0 124.0 L111.5 123.6 L112.1 123.2 L112.4 122.9 L112.6 122.8 L113.1 122.4 L113.6 121.9 L114.2 121.5 L114.7 121.1 L115.2 120.7 L115.7 120.3 L116.3 119.9 L116.8 119.5 L117.3 119.1 L117.9 118.7 L118.4 118.3 L118.9 117.9 L119.4 117.5 L119.7 117.3 L120.1 117.2 L120.9 117.2 L121.7 117.1 L122.3 117.1 L122.4 117.0 L123.7 118.5 L123.6 118.6 L123.2 118.9 L122.7 119.4 L122.2 119.8 L122.0 119.9 L121.7 120.2 L121.2 120.6 L120.7 121.0 L120.2 121.5 L119.7 121.9 L119.2 122.3 L118.7 122.7 L118.2 123.2 L117.7 123.6 L117.2 124.0 L116.7 124.5 L116.2 124.9 L115.7 125.3 L115.2 125.8 L115.0 125.9 L114.7 126.2 L114.2 126.6 L113.7 127.1 L113.2 127.5 L112.7 128.0 L112.2 128.4 L111.7 128.9 L111.2 129.3 L110.7 129.8 L110.2 130.2 L109.7 130.7 L109.2 131.1 L108.7 131.6 L108.2 132.0 L107.7 132.5 L107.2 132.9 L106.7 133.4 L106.2 133.8 L105.7 134.3 L105.2 134.8 L104.7 135.2 L104.5 135.4 L104.2 135.7 L103.7 136.2 L103.2 136.6 L102.7 137.1 L102.2 137.6 L101.7 138.1 L101.2 138.5 L100.7 139.0 L100.2 139.5 L99.7 140.0 L99.2 140.4 L98.7 140.9 L98.2 141.4 L97.7 141.9 L97.2 142.4 L96.7 142.9 L96.2 143.4 L95.7 143.9 L95.2 144.4 L94.7 144.8 L94.2 145.3 L94.0 145.5 L93.7 145.8 L93.2 146.3 L92.7 146.8 L92.2 147.4 L91.7 147.9 L91.2 148.4 L90.7 148.9 L90.2 149.4 L89.7 149.9 L89.2 150.4 L89.0 150.6 L88.7 150.9 L88.2 151.5 L87.7 152.0 L87.2 152.5 L86.7 153.0 L86.2 153.6 L85.7 154.1 L85.2 154.6 L84.7 155.1Z" fill="#98ec5a" stroke="#8ae84c" stroke-width="0.45" stroke-linejoin="round"/>
<path d="M72.7 168.6 L70.7 166.9 M74.2 166.8 L71.6 164.6 M75.7 165.1 L72.4 162.3 M76.5 164.2 L79.7 167.0 M77.7 162.8 L80.4 165.2 M79.2 161.1 L81.3 163.0 M80.7 159.5 L82.2 160.9 M92.2 147.4 L90.8 146.0 M93.7 145.8 L91.8 144.0 M94.7 144.8 L92.7 142.8 M96.2 143.4 L94.1 141.2 M97.7 141.9 L95.4 139.6 M99.2 140.4 L96.8 138.0 M100.7 139.0 L98.2 136.4 M102.2 137.6 L99.6 134.8 M103.7 136.2 L100.9 133.2 M104.7 135.2 L101.9 132.2 M106.2 133.8 L103.4 130.9 M107.7 132.5 L105.0 129.5 M109.2 131.1 L106.6 128.2 M110.7 129.8 L108.1 126.9 M112.2 128.4 L109.7 125.6 M113.7 127.1 L111.2 124.3 M115.0 125.9 L112.6 123.2 M116.2 124.9 L113.8 122.2 M117.7 123.6 L115.4 120.9 M119.2 122.3 L117.0 119.7 M120.7 121.0 L118.6 118.5 M122.0 119.9 L119.9 117.5 M123.2 118.9 L121.8 117.3" stroke="#fff" stroke-opacity="0.35" stroke-width="0.4" fill="none"/>
<path d="M122.3 117.1 L123.0 116.9 L123.8 116.8 L124.4 116.7 L124.3 116.4 L124.2 115.2 L125.6 116.9 L125.1 117.4 L125.0 117.4 L124.6 117.8 L124.1 118.2 L123.6 118.6Z" fill="#98ec5a" stroke="#8ae84c" stroke-width="0.45" stroke-linejoin="round"/>
<path d="M124.2 115.2 L124.1 114.1 L124.0 113.1 L124.3 113.3 L126.1 114.5 L127.1 115.7 L126.6 116.1 L126.5 116.2 L126.1 116.5 L125.6 116.9Z" fill="#5fe448" stroke="#50e040" stroke-width="0.45" stroke-linejoin="round"/>
<path d="M126.1 114.5 L127.5 115.4 L127.5 115.4 L127.1 115.7Z" fill="#98ec5a" stroke="#8ae84c" stroke-width="0.45" stroke-linejoin="round"/>
<path d="M127.5 115.4 L127.8 115.5 L128.9 116.1 L129.0 116.1 L129.5 115.7 L130.0 115.2 L130.5 114.8 L131.0 114.4 L131.5 114.0 L132.0 113.6 L132.5 113.2 L133.0 112.8 L133.5 112.4 L134.0 112.0 L134.5 111.7 L135.0 111.3 L135.5 110.9 L136.0 110.5 L136.5 110.1 L137.0 109.7 L137.5 109.3 L138.0 108.9 L138.5 108.5 L139.0 108.1 L139.5 107.8 L140.0 107.4 L140.5 107.0 L141.0 106.6 L141.5 106.2 L142.0 105.8 L142.5 105.5 L143.0 105.1 L143.5 104.7 L144.0 104.3 L144.5 104.0 L145.0 103.6 L145.5 103.2 L145.9 102.9 L145.7 102.4 L145.1 101.6 L145.0 101.7 L144.6 102.0 L144.1 102.4 L143.6 102.8 L143.1 103.1 L142.6 103.5 L142.1 103.9 L141.6 104.3 L141.1 104.7 L140.6 105.0 L140.1 105.4 L139.6 105.8 L139.1 106.2 L138.6 106.6 L138.1 107.0 L137.6 107.3 L137.1 107.7 L136.6 108.1 L136.1 108.5 L135.6 108.9 L135.1 109.3 L134.6 109.7 L134.1 110.1 L133.6 110.5 L133.1 110.9 L132.6 111.3 L132.1 111.7 L131.6 112.1 L131.1 112.5 L130.6 112.9 L130.1 113.3 L129.6 113.7 L129.1 114.1 L128.6 114.5 L128.1 114.9 L128.0 115.0 L127.6 115.3 L127.5 115.4Z" fill="#c4f05a" stroke="#b6ec40" stroke-width="0.45" stroke-linejoin="round"/>
<path d="M145.7 102.4 L144.7 100.1 L143.9 98.1 L146.0 101.0 L145.6 101.3 L145.1 101.6Z" fill="#98ec5a" stroke="#8ae84c" stroke-width="0.45" stroke-linejoin="round"/>
<path d="M143.9 98.1 L144.0 98.1 L144.4 97.6 L144.9 97.1 L145.3 96.7 L145.7 96.2 L146.2 95.7 L146.6 95.3 L147.0 94.8 L147.4 94.4 L147.5 94.4 L148.0 94.0 L148.5 93.6 L149.0 93.2 L149.5 92.9 L150.0 92.5 L150.5 92.1 L151.0 91.8 L151.5 91.4 L152.0 91.0 L152.5 90.6 L153.0 90.3 L153.5 89.9 L154.0 89.5 L154.5 89.2 L155.0 88.8 L155.5 88.4 L156.0 88.1 L156.5 87.7 L157.0 87.3 L157.4 87.1 L157.5 87.0 L158.0 86.6 L158.5 86.3 L159.0 86.0 L159.5 85.6 L160.0 85.3 L160.5 84.9 L161.0 84.6 L161.5 84.3 L162.1 83.9 L162.6 83.6 L163.1 83.2 L163.6 82.9 L164.1 82.6 L164.6 82.2 L165.1 81.9 L165.6 81.6 L166.1 81.3 L166.7 80.9 L167.2 80.6 L167.6 80.3 L167.7 80.3 L168.2 80.0 L168.8 79.8 L169.3 79.5 L169.9 79.3 L170.5 79.0 L171.0 78.7 L171.6 78.5 L172.1 78.2 L172.7 78.0 L173.2 77.7 L173.8 77.5 L174.3 77.3 L174.9 77.0 L175.4 76.8 L176.0 76.5 L176.4 76.3 L176.5 76.2 L176.9 75.8 L177.3 75.3 L177.7 74.8 L178.1 74.3 L178.5 73.9 L178.9 73.4 L179.3 72.9 L179.8 72.5 L180.2 72.0 L182.6 76.1 L182.1 76.4 L181.6 76.7 L181.1 77.0 L180.6 77.3 L180.1 77.6 L179.6 77.9 L179.1 78.2 L178.6 78.5 L178.1 78.8 L178.0 78.9 L177.6 79.1 L177.1 79.4 L176.6 79.8 L176.1 80.1 L175.6 80.4 L175.1 80.7 L174.6 81.0 L174.1 81.3 L173.6 81.7 L173.1 82.0 L172.6 82.3 L172.1 82.6 L171.6 83.0 L171.1 83.3 L170.6 83.6 L170.1 83.9 L170.0 84.0 L169.6 84.3 L169.1 84.6 L168.6 84.9 L168.1 85.3 L167.6 85.6 L167.1 85.9 L166.6 86.3 L166.1 86.6 L165.6 87.0 L165.1 87.3 L164.6 87.6 L164.1 88.0 L163.6 88.3 L163.1 88.7 L162.6 89.0 L162.1 89.4 L161.6 89.7 L161.1 90.1 L160.6 90.4 L160.1 90.8 L160.0 90.8 L159.6 91.1 L159.1 91.5 L158.6 91.8 L158.1 92.2 L157.6 92.5 L157.1 92.9 L156.6 93.2 L156.1 93.6 L155.6 93.9 L155.1 94.3 L154.6 94.7 L154.1 95.0 L153.6 95.4 L153.1 95.7 L152.6 96.1 L152.1 96.5 L151.6 96.8 L151.1 97.2 L150.6 97.6 L150.1 97.9 L150.0 98.0 L149.6 98.3 L149.1 98.7 L148.6 99.0 L148.1 99.4 L147.6 99.8 L147.1 100.1 L146.6 100.5 L146.1 100.9 L146.0 101.0Z" fill="#5fe448" stroke="#50e040" stroke-width="0.45" stroke-linejoin="round"/>
<path d="M180.2 72.0 L180.6 71.5 L180.7 71.4 L181.2 71.4 L183.6 75.5 L183.2 75.7 L183.1 75.8 L182.6 76.1Z" fill="#3ee03a" stroke="#34dc30" stroke-width="0.45" stroke-linejoin="round"/>
<path d="M181.2 71.4 L181.9 71.4 L182.6 71.5 L183.3 71.5 L184.0 71.5 L184.5 71.5 L184.6 71.4 L185.1 71.2 L185.6 70.9 L186.1 70.6 L186.6 70.3 L186.8 70.2 L186.5 68.9 L188.6 72.6 L188.3 72.8 L188.1 72.9 L187.6 73.2 L187.1 73.5 L186.6 73.8 L186.1 74.0 L186.0 74.1 L185.6 74.3 L185.1 74.6 L184.6 74.9 L184.1 75.2 L183.6 75.5Z" fill="#5fe448" stroke="#50e040" stroke-width="0.45" stroke-linejoin="round"/>
<path d="M186.5 68.9 L186.0 66.8 L185.9 66.4 L186.7 66.9 L187.8 67.5 L190.1 71.8 L189.6 72.1 L189.2 72.3 L189.1 72.3 L188.6 72.6Z" fill="#3ee03a" stroke="#34dc30" stroke-width="0.45" stroke-linejoin="round"/>
<path d="M187.8 67.5 L188.6 68.1 L188.7 68.0 L189.3 67.9 L189.9 67.8 L190.3 67.7 L190.4 67.6 L190.9 67.3 L191.4 66.9 L191.8 66.5 L192.3 66.2 L192.8 65.8 L193.2 65.5 L193.7 65.2 L194.2 64.8 L194.6 64.5 L195.1 64.1 L195.6 63.8 L196.0 63.4 L196.5 63.1 L197.0 62.8 L199.1 67.1 L198.6 67.3 L198.1 67.6 L197.6 67.8 L197.1 68.1 L196.6 68.4 L196.1 68.6 L195.6 68.9 L195.1 69.1 L194.6 69.4 L194.1 69.6 L193.6 69.9 L193.1 70.2 L192.6 70.4 L192.1 70.7 L192.0 70.8 L191.6 71.0 L191.1 71.2 L190.6 71.5 L190.5 71.6 L190.1 71.8Z" fill="#5fe448" stroke="#50e040" stroke-width="0.45" stroke-linejoin="round"/>
<path d="M197.0 62.8 L197.4 62.4 L197.8 62.2 L197.9 62.1 L198.4 61.8 L198.9 61.5 L199.4 61.2 L199.9 61.0 L200.4 60.7 L200.9 60.4 L201.4 60.1 L201.9 59.8 L202.3 59.6 L202.8 59.3 L203.3 59.0 L203.8 58.7 L204.3 58.5 L204.8 58.2 L205.3 57.9 L205.8 57.7 L206.3 57.4 L206.8 57.1 L207.3 56.9 L207.8 56.6 L208.3 56.4 L208.6 56.2 L208.8 56.1 L209.3 56.0 L209.9 55.8 L210.4 55.6 L210.9 55.5 L211.5 55.3 L212.0 55.1 L212.5 55.0 L213.0 54.8 L213.6 54.6 L214.1 54.5 L214.6 54.3 L215.2 54.2 L215.7 54.0 L216.2 53.9 L216.8 53.7 L217.3 53.6 L217.8 53.4 L218.3 53.3 L218.9 53.2 L219.4 53.0 L219.9 52.9 L220.1 52.8 L220.5 52.8 L221.0 52.7 L222.6 57.2 L222.1 57.4 L221.8 57.5 L221.6 57.6 L221.1 57.8 L220.6 58.0 L220.1 58.1 L219.6 58.3 L219.1 58.5 L218.6 58.7 L218.1 58.9 L217.6 59.1 L217.1 59.3 L216.6 59.4 L216.1 59.6 L215.6 59.8 L215.1 60.0 L214.6 60.2 L214.1 60.4 L213.6 60.6 L213.1 60.8 L212.6 61.0 L212.1 61.2 L211.6 61.4 L211.1 61.6 L210.9 61.7 L210.6 61.9 L210.1 62.1 L209.6 62.3 L209.1 62.5 L208.6 62.7 L208.1 62.9 L207.6 63.1 L207.1 63.4 L206.6 63.6 L206.1 63.8 L205.6 64.0 L205.1 64.3 L204.6 64.5 L204.1 64.7 L203.6 64.9 L203.1 65.2 L202.6 65.4 L202.1 65.6 L201.6 65.9 L201.1 66.1 L200.6 66.4 L200.1 66.6 L200.0 66.7 L199.6 66.9 L199.1 67.1Z" fill="#3ee03a" stroke="#34dc30" stroke-width="0.45" stroke-linejoin="round"/>
<path d="M221.0 52.7 L221.6 52.6 L222.1 52.6 L222.7 52.5 L223.2 52.5 L223.8 52.4 L224.3 52.3 L224.9 52.3 L225.4 52.2 L225.9 52.2 L226.5 52.1 L226.9 52.1 L227.0 52.1 L227.6 52.0 L228.1 51.8 L228.6 51.7 L229.1 51.6 L229.6 51.5 L230.2 51.4 L230.7 51.2 L231.2 51.1 L231.7 51.0 L232.2 50.9 L232.7 50.8 L233.2 50.7 L233.3 50.7 L233.7 50.4 L234.2 50.0 L234.6 49.7 L235.1 49.4 L235.6 49.1 L236.0 48.8 L236.5 48.5 L237.0 48.2 L237.4 47.9 L237.9 47.6 L238.4 47.3 L239.6 52.1 L239.1 52.2 L238.6 52.3 L238.1 52.5 L237.6 52.6 L237.1 52.7 L236.6 52.9 L236.1 53.0 L235.6 53.1 L235.1 53.3 L234.6 53.4 L234.1 53.6 L234.0 53.6 L233.6 53.7 L233.1 53.9 L232.6 54.0 L232.1 54.2 L231.6 54.3 L231.1 54.5 L230.6 54.6 L230.1 54.8 L229.6 54.9 L229.1 55.1 L228.6 55.2 L228.1 55.4 L228.0 55.4 L227.6 55.6 L227.1 55.7 L226.6 55.9 L226.1 56.1 L225.6 56.2 L225.1 56.4 L224.6 56.6 L224.1 56.7 L223.6 56.9 L223.1 57.1 L222.6 57.2Z" fill="#5fe448" stroke="#50e040" stroke-width="0.45" stroke-linejoin="round"/>
<path d="M238.4 47.3 L238.8 47.1 L239.3 46.8 L239.6 46.6 L239.8 46.7 L240.4 46.9 L241.6 51.5 L241.1 51.7 L240.9 51.7 L240.6 51.8 L240.1 51.9 L239.6 52.1Z" fill="#3ee03a" stroke="#34dc30" stroke-width="0.45" stroke-linejoin="round"/>
<path d="M240.4 46.9 L241.0 47.2 L241.6 47.4 L242.2 47.6 L242.8 47.9 L243.4 48.1 L244.0 48.4 L244.6 50.8 L244.1 50.9 L243.6 51.0 L243.1 51.2 L242.6 51.3 L242.1 51.4 L241.6 51.5Z" fill="#5fe448" stroke="#50e040" stroke-width="0.45" stroke-linejoin="round"/>
<path d="M244.0 48.4 L244.5 48.6 L244.6 48.5 L245.1 48.2 L245.5 47.9 L246.1 50.5 L245.6 50.6 L245.1 50.7 L245.0 50.7 L244.6 50.8Z" fill="#98ec5a" stroke="#8ae84c" stroke-width="0.45" stroke-linejoin="round"/>
<path d="M245.5 47.9 L246.0 47.6 L246.4 47.3 L246.9 47.1 L247.4 46.8 L247.9 46.5 L248.3 46.2 L248.8 45.9 L249.2 45.7 L249.3 45.6 L249.7 45.4 L250.2 45.1 L250.7 44.9 L251.2 44.6 L251.7 44.4 L252.6 49.1 L252.1 49.2 L251.6 49.3 L251.1 49.4 L250.6 49.5 L250.1 49.6 L250.0 49.6 L249.6 49.7 L249.1 49.8 L248.6 49.9 L248.1 50.0 L247.6 50.1 L247.1 50.2 L246.6 50.3 L246.1 50.5Z" fill="#5fe448" stroke="#50e040" stroke-width="0.45" stroke-linejoin="round"/>
<path d="M251.7 44.4 L252.1 44.1 L252.6 43.9 L253.1 43.6 L253.6 43.4 L254.1 43.1 L254.6 42.9 L255.0 42.7 L255.5 42.4 L255.6 42.4 L256.0 42.2 L256.5 41.9 L257.0 41.7 L257.5 41.5 L258.0 41.2 L258.5 41.0 L258.9 40.8 L259.0 40.8 L259.5 40.6 L260.0 40.4 L260.5 40.3 L261.0 40.1 L261.5 39.9 L262.0 39.8 L262.5 39.6 L263.0 39.5 L263.5 39.3 L264.0 39.1 L264.5 39.0 L264.9 38.9 L265.0 38.9 L265.5 38.9 L266.1 38.9 L266.6 38.9 L267.1 39.0 L267.7 39.0 L268.2 39.0 L268.7 39.0 L269.2 39.1 L269.8 39.1 L270.3 39.1 L270.8 39.1 L271.3 39.2 L271.9 39.2 L272.4 39.2 L272.9 39.3 L273.4 39.3 L274.0 39.4 L274.5 39.4 L275.0 39.4 L275.5 39.5 L276.1 39.5 L276.5 39.6 L276.6 39.6 L277.1 39.9 L277.7 40.1 L278.2 40.4 L278.7 40.6 L279.1 45.4 L278.6 45.4 L278.1 45.4 L277.6 45.5 L277.1 45.5 L277.0 45.5 L276.6 45.6 L276.1 45.6 L275.6 45.7 L275.1 45.7 L274.6 45.8 L274.1 45.8 L273.6 45.9 L273.1 45.9 L272.6 46.0 L272.1 46.0 L271.6 46.1 L271.1 46.1 L270.6 46.2 L270.1 46.3 L269.6 46.3 L269.1 46.4 L268.6 46.4 L268.1 46.5 L267.6 46.6 L267.1 46.6 L266.6 46.7 L266.1 46.8 L266.0 46.8 L265.6 46.8 L265.1 46.9 L264.6 47.0 L264.1 47.1 L263.6 47.1 L263.1 47.2 L262.6 47.3 L262.1 47.4 L261.6 47.4 L261.1 47.5 L260.6 47.6 L260.1 47.7 L260.0 47.7 L259.6 47.8 L259.1 47.9 L258.6 47.9 L258.1 48.0 L257.6 48.1 L257.1 48.2 L256.7 48.3 L256.6 48.3 L256.1 48.4 L255.6 48.5 L255.1 48.6 L254.6 48.7 L254.1 48.8 L253.6 48.9 L253.1 49.0 L252.6 49.1Z" fill="#3ee03a" stroke="#34dc30" stroke-width="0.45" stroke-linejoin="round"/>
<path d="M278.7 40.6 L279.3 40.9 L279.8 41.2 L280.3 41.4 L280.8 41.7 L281.4 41.9 L281.8 42.2 L281.9 42.1 L282.4 42.0 L282.9 41.9 L283.4 41.8 L283.9 41.7 L284.4 41.6 L284.8 41.5 L284.9 41.4 L285.4 41.0 L285.9 40.7 L286.4 40.3 L286.9 39.9 L287.1 44.9 L286.6 44.9 L286.1 44.9 L285.6 44.9 L285.1 45.0 L285.0 45.0 L284.6 45.0 L284.1 45.0 L283.6 45.0 L283.1 45.1 L282.6 45.1 L282.1 45.1 L282.0 45.1 L281.6 45.2 L281.1 45.2 L280.6 45.2 L280.1 45.3 L279.6 45.3 L279.1 45.4Z" fill="#5fe448" stroke="#50e040" stroke-width="0.45" stroke-linejoin="round"/>
<path d="M286.9 39.9 L287.4 39.6 L287.9 39.2 L288.4 38.9 L288.9 38.5 L289.2 38.3 L289.4 38.4 L289.9 38.7 L290.4 39.1 L291.0 39.4 L291.5 39.7 L291.6 44.7 L291.1 44.7 L290.6 44.7 L290.1 44.8 L289.6 44.8 L289.4 44.8 L289.1 44.8 L288.6 44.8 L288.1 44.8 L287.6 44.8 L287.1 44.9Z" fill="#3ee03a" stroke="#34dc30" stroke-width="0.45" stroke-linejoin="round"/>
<path d="M291.5 39.7 L292.0 40.1 L292.5 40.4 L292.9 40.7 L293.0 40.7 L293.5 40.7 L294.0 40.8 L294.6 40.8 L295.1 40.8 L295.6 40.9 L296.1 40.9 L296.6 41.0 L297.1 41.0 L297.6 41.1 L298.1 41.1 L298.6 41.2 L299.1 41.0 L299.6 40.9 L300.2 40.8 L300.7 40.7 L301.2 40.6 L301.7 40.5 L302.2 40.4 L302.7 40.3 L303.2 40.2 L303.7 40.1 L304.3 40.0 L304.1 44.8 L303.6 44.7 L303.1 44.7 L302.6 44.7 L302.1 44.7 L301.6 44.7 L301.1 44.7 L300.6 44.7 L300.1 44.7 L299.6 44.7 L299.1 44.7 L298.6 44.7 L298.1 44.6 L297.6 44.6 L297.1 44.6 L296.6 44.6 L296.1 44.6 L295.6 44.7 L295.1 44.7 L294.6 44.7 L294.1 44.7 L293.6 44.7 L293.1 44.7 L293.0 44.7 L292.6 44.7 L292.1 44.7 L291.6 44.7Z" fill="#5fe448" stroke="#50e040" stroke-width="0.45" stroke-linejoin="round"/>
<path d="M304.3 40.0 L304.8 39.9 L305.3 39.8 L305.8 39.7 L306.3 39.6 L306.8 39.5 L307.3 39.4 L307.9 39.3 L308.4 39.2 L308.9 39.2 L309.4 39.1 L309.8 39.0 L309.9 39.0 L310.5 39.0 L311.0 39.1 L311.5 39.1 L312.0 39.1 L312.5 39.2 L313.0 39.2 L313.5 39.2 L314.0 39.3 L314.6 39.3 L315.1 39.4 L315.6 39.4 L316.1 39.4 L316.6 39.5 L317.1 39.5 L317.6 39.6 L318.2 39.6 L318.7 39.7 L319.2 39.7 L319.7 39.8 L320.2 39.8 L320.6 39.9 L320.7 39.9 L321.2 40.0 L321.7 40.1 L322.2 40.2 L322.8 40.3 L323.3 40.4 L323.8 40.5 L324.3 40.6 L324.8 40.8 L325.3 40.9 L325.8 41.0 L326.3 41.1 L326.8 41.2 L327.3 41.3 L327.8 41.5 L328.3 41.6 L328.8 41.7 L329.3 41.8 L329.8 41.9 L330.3 42.1 L330.8 42.2 L330.9 42.2 L331.4 42.4 L331.9 42.5 L331.1 47.3 L330.6 47.2 L330.1 47.1 L330.0 47.1 L329.6 47.1 L329.1 47.0 L328.6 46.9 L328.1 46.8 L327.6 46.8 L327.1 46.7 L326.6 46.6 L326.1 46.6 L325.6 46.5 L325.1 46.4 L324.6 46.4 L324.1 46.3 L323.6 46.2 L323.1 46.2 L322.6 46.1 L322.1 46.1 L321.6 46.0 L321.1 46.0 L320.6 45.9 L320.1 45.8 L320.0 45.8 L319.6 45.8 L319.1 45.7 L318.6 45.7 L318.1 45.6 L317.6 45.6 L317.1 45.6 L316.6 45.5 L316.1 45.5 L315.6 45.4 L315.1 45.4 L314.6 45.3 L314.1 45.3 L313.6 45.3 L313.1 45.2 L312.6 45.2 L312.1 45.2 L311.6 45.1 L311.1 45.1 L310.6 45.1 L310.1 45.0 L309.6 45.0 L309.5 45.0 L309.1 45.0 L308.6 44.9 L308.1 44.9 L307.6 44.9 L307.1 44.9 L306.6 44.9 L306.1 44.8 L305.6 44.8 L305.1 44.8 L304.6 44.8 L304.1 44.8Z" fill="#3ee03a" stroke="#34dc30" stroke-width="0.45" stroke-linejoin="round"/>
<path d="M331.9 42.5 L332.4 42.7 L332.8 42.8 L333.3 43.0 L333.8 43.1 L334.3 43.3 L334.8 43.5 L335.3 43.6 L335.8 43.8 L336.3 43.9 L336.8 44.1 L337.3 44.3 L337.8 44.4 L338.3 44.6 L338.8 44.8 L339.3 45.0 L339.8 45.1 L340.3 45.3 L340.7 45.4 L340.8 45.5 L341.3 45.6 L341.8 45.8 L342.3 45.9 L342.8 46.1 L343.3 46.3 L343.8 46.4 L344.3 46.6 L344.8 46.7 L345.3 46.9 L345.7 47.0 L345.8 47.1 L346.3 47.2 L346.8 47.3 L347.3 47.4 L347.8 47.5 L348.3 47.7 L348.8 47.8 L349.3 47.9 L349.8 48.0 L350.3 48.2 L350.8 48.3 L350.9 48.3 L351.4 48.3 L351.9 48.3 L352.5 48.3 L353.0 48.3 L353.6 48.4 L354.1 48.4 L354.7 48.4 L355.1 48.4 L355.2 48.3 L356.0 47.7 L354.6 52.4 L354.1 52.3 L354.0 52.3 L353.6 52.2 L353.1 52.0 L352.6 51.9 L352.1 51.7 L351.6 51.6 L351.1 51.5 L350.6 51.3 L350.1 51.2 L350.0 51.2 L349.6 51.1 L349.1 50.9 L348.6 50.8 L348.1 50.7 L347.6 50.6 L347.1 50.5 L346.6 50.3 L346.1 50.2 L345.6 50.1 L345.1 50.0 L345.0 50.0 L344.6 49.9 L344.1 49.8 L343.6 49.6 L343.1 49.5 L342.6 49.4 L342.1 49.3 L341.6 49.2 L341.1 49.1 L340.6 49.0 L340.1 48.9 L340.0 48.9 L339.6 48.8 L339.1 48.7 L338.6 48.6 L338.1 48.5 L337.6 48.4 L337.1 48.3 L336.6 48.2 L336.1 48.1 L335.6 48.0 L335.1 48.0 L334.6 47.9 L334.1 47.8 L333.6 47.7 L333.1 47.6 L332.6 47.5 L332.1 47.4 L331.6 47.4 L331.1 47.3Z" fill="#5fe448" stroke="#50e040" stroke-width="0.45" stroke-linejoin="round"/>
<path d="M356.0 47.7 L356.7 47.2 L357.4 46.6 L358.2 46.1 L358.9 45.5 L359.5 45.1 L359.6 45.3 L359.8 46.4 L360.0 47.5 L360.2 48.6 L358.6 53.7 L358.1 53.5 L357.6 53.4 L357.1 53.2 L357.0 53.2 L356.6 53.0 L356.1 52.9 L355.6 52.7 L355.1 52.6 L354.6 52.4Z" fill="#3ee03a" stroke="#34dc30" stroke-width="0.45" stroke-linejoin="round"/>
<path d="M360.2 48.6 L360.4 49.7 L360.6 50.6 L360.7 50.7 L361.1 51.2 L361.5 51.6 L361.9 52.1 L361.1 54.5 L360.6 54.3 L360.1 54.2 L359.6 54.0 L359.5 54.0 L359.1 53.8 L358.6 53.7Z" fill="#5fe448" stroke="#50e040" stroke-width="0.45" stroke-linejoin="round"/>
<path d="M361.9 52.1 L362.3 52.6 L362.7 52.9 L362.8 53.0 L363.3 53.1 L363.8 53.2 L364.3 53.4 L364.8 53.5 L365.4 53.7 L365.9 53.8 L366.4 54.0 L366.9 54.1 L367.5 54.3 L368.0 54.4 L368.5 54.6 L368.9 54.7 L369.0 54.7 L369.6 54.8 L368.6 57.3 L368.1 57.1 L368.0 57.0 L367.6 56.9 L367.1 56.7 L366.6 56.5 L366.1 56.3 L365.6 56.1 L365.1 55.9 L364.6 55.7 L364.1 55.6 L363.6 55.4 L363.1 55.2 L362.6 55.0 L362.1 54.8 L362.0 54.8 L361.6 54.7 L361.1 54.5Z" fill="#98ec5a" stroke="#8ae84c" stroke-width="0.45" stroke-linejoin="round"/>
<path d="M369.6 54.8 L370.1 55.0 L370.6 55.1 L371.2 55.2 L371.7 55.3 L372.3 55.4 L372.8 55.6 L373.4 55.7 L373.9 55.8 L374.5 56.0 L375.0 56.1 L375.4 56.2 L375.5 56.3 L376.0 56.5 L376.6 56.7 L377.1 56.9 L377.6 57.1 L378.1 57.3 L378.6 57.6 L379.1 57.8 L379.6 58.0 L380.2 58.2 L380.7 58.5 L381.2 58.7 L381.7 58.9 L382.2 59.2 L382.7 59.4 L383.2 59.6 L383.7 59.9 L384.3 60.1 L384.8 60.3 L385.3 60.6 L385.7 60.8 L385.8 60.9 L386.2 61.2 L386.7 61.6 L387.1 62.0 L387.6 62.4 L388.0 62.7 L388.5 63.1 L388.9 63.5 L389.4 63.9 L389.8 64.3 L388.6 66.5 L388.1 66.3 L387.6 66.0 L387.1 65.8 L386.6 65.5 L386.1 65.2 L385.6 65.0 L385.1 64.7 L384.6 64.5 L384.1 64.2 L384.0 64.2 L383.6 64.0 L383.1 63.7 L382.6 63.5 L382.1 63.2 L381.6 63.0 L381.1 62.8 L380.6 62.5 L380.1 62.3 L379.6 62.0 L379.1 61.8 L378.6 61.6 L378.1 61.3 L377.6 61.1 L377.1 60.9 L376.6 60.7 L376.1 60.4 L375.6 60.2 L375.1 60.0 L374.6 59.8 L374.1 59.6 L374.0 59.5 L373.6 59.3 L373.1 59.1 L372.6 58.9 L372.1 58.7 L371.6 58.5 L371.1 58.3 L370.6 58.1 L370.1 57.9 L369.6 57.7 L369.1 57.5 L368.6 57.3Z" fill="#5fe448" stroke="#50e040" stroke-width="0.45" stroke-linejoin="round"/>
<path d="M389.8 64.3 L390.2 64.6 L390.7 65.0 L391.0 65.3 L391.1 65.4 L391.5 66.0 L391.8 66.5 L392.2 67.0 L392.5 67.5 L392.5 67.7 L392.7 68.5 L392.6 68.7 L392.1 68.4 L392.0 68.4 L391.6 68.1 L391.1 67.9 L390.6 67.6 L390.1 67.3 L390.0 67.3 L389.6 67.1 L389.1 66.8 L388.6 66.5Z" fill="#98ec5a" stroke="#8ae84c" stroke-width="0.45" stroke-linejoin="round"/>
<path d="M392.7 68.5 L392.9 69.4 L393.0 70.3 L393.2 71.2 L394.1 69.5 L393.6 69.2 L393.1 69.0 L392.6 68.7Z" fill="#c4f05a" stroke="#b6ec40" stroke-width="0.45" stroke-linejoin="round"/>
<path d="M393.2 71.2 L393.3 72.0 L393.5 72.9 L393.7 73.8 L393.8 74.5 L394.3 73.8 L396.1 70.6 L396.0 70.6 L395.6 70.3 L395.1 70.1 L394.6 69.8 L394.1 69.5Z" fill="#eef248" stroke="#e4ec30" stroke-width="0.45" stroke-linejoin="round"/>
<path d="M394.3 73.8 L396.5 70.9 L396.5 70.9 L396.1 70.6Z" fill="#c4f05a" stroke="#b6ec40" stroke-width="0.45" stroke-linejoin="round"/>
<path d="M396.5 70.9 L396.6 70.9 L397.1 71.2 L397.6 71.4 L398.2 71.7 L398.7 71.9 L399.2 72.2 L399.7 72.4 L400.2 72.7 L400.7 73.0 L401.3 73.2 L401.8 73.5 L402.3 73.8 L402.8 74.0 L403.3 74.3 L403.8 74.5 L404.0 74.3 L405.3 73.3 L404.1 75.3 L403.6 75.0 L403.5 74.9 L403.1 74.7 L402.6 74.4 L402.1 74.1 L401.6 73.8 L401.1 73.5 L400.6 73.2 L400.1 72.9 L399.6 72.6 L399.1 72.3 L398.6 72.1 L398.1 71.8 L397.6 71.5 L397.1 71.2 L396.6 70.9 L396.5 70.9Z" fill="#98ec5a" stroke="#8ae84c" stroke-width="0.45" stroke-linejoin="round"/>
<path d="M405.3 73.3 L406.3 72.6 L406.4 72.6 L407.1 72.6 L407.8 72.7 L408.4 72.8 L409.1 72.8 L406.6 76.8 L406.1 76.5 L405.6 76.2 L405.1 75.9 L404.6 75.6 L404.5 75.5 L404.1 75.3Z" fill="#5fe448" stroke="#50e040" stroke-width="0.45" stroke-linejoin="round"/>
<path d="M409.1 72.8 L409.7 72.9 L410.4 73.0 L410.9 73.0 L411.0 73.1 L411.5 73.4 L412.1 73.6 L412.6 73.9 L413.1 74.2 L413.7 74.5 L414.2 74.8 L414.7 75.1 L415.2 75.4 L415.8 75.6 L416.3 75.9 L416.8 76.2 L417.4 76.5 L417.9 76.8 L418.4 77.1 L418.9 77.4 L419.5 77.7 L420.0 78.0 L420.5 78.3 L421.1 78.6 L421.6 78.9 L422.1 79.2 L422.7 79.5 L423.2 79.8 L423.6 80.0 L423.7 80.1 L424.2 80.5 L424.7 80.9 L425.1 81.2 L425.6 81.6 L426.1 82.0 L426.6 82.4 L427.0 82.8 L427.5 83.2 L428.0 83.5 L428.5 83.9 L429.0 84.3 L429.4 84.7 L429.9 85.1 L430.4 85.5 L430.9 85.9 L431.3 86.3 L431.8 86.6 L432.3 87.0 L432.8 87.4 L433.1 87.7 L433.2 87.8 L433.6 88.3 L434.0 88.9 L434.4 89.4 L431.6 93.4 L431.1 93.0 L430.6 92.7 L430.1 92.3 L430.0 92.3 L429.6 92.0 L429.1 91.6 L428.6 91.3 L428.1 90.9 L427.6 90.6 L427.1 90.2 L426.6 89.9 L426.1 89.6 L425.6 89.2 L425.1 88.9 L424.6 88.5 L424.1 88.2 L423.6 87.9 L423.1 87.5 L422.6 87.2 L422.1 86.8 L421.6 86.5 L421.1 86.2 L420.6 85.8 L420.1 85.5 L420.0 85.4 L419.6 85.2 L419.1 84.8 L418.6 84.5 L418.1 84.2 L417.6 83.8 L417.1 83.5 L416.6 83.2 L416.1 82.9 L415.6 82.5 L415.1 82.2 L414.6 81.9 L414.1 81.6 L413.6 81.2 L413.1 80.9 L412.6 80.6 L412.1 80.3 L411.6 80.0 L411.1 79.6 L410.6 79.3 L410.1 79.0 L409.6 78.7 L409.1 78.4 L408.6 78.1 L408.1 77.8 L408.0 77.7 L407.6 77.4 L407.1 77.1 L406.6 76.8Z" fill="#3ee03a" stroke="#34dc30" stroke-width="0.45" stroke-linejoin="round"/>
<path d="M434.4 89.4 L434.8 89.9 L435.2 90.4 L435.6 90.9 L436.0 91.4 L436.4 91.9 L436.8 92.4 L437.1 92.9 L437.5 93.4 L437.8 93.9 L437.9 94.0 L438.1 94.7 L436.6 96.9 L436.1 96.5 L436.0 96.5 L435.6 96.2 L435.1 95.8 L434.6 95.5 L434.1 95.1 L433.6 94.8 L433.1 94.4 L432.6 94.1 L432.1 93.7 L431.6 93.4Z" fill="#5fe448" stroke="#50e040" stroke-width="0.45" stroke-linejoin="round"/>
<path d="M438.1 94.7 L438.4 95.5 L438.6 96.2 L438.8 96.9 L439.1 97.6 L439.3 98.4 L439.5 99.0 L439.5 99.0 L439.1 98.7 L438.6 98.3 L438.1 98.0 L437.6 97.6 L437.1 97.2 L436.6 96.9Z" fill="#98ec5a" stroke="#8ae84c" stroke-width="0.45" stroke-linejoin="round"/>
<path d="M439.5 99.0 L439.6 99.0 L440.0 99.3 L440.1 99.4 L440.5 99.9 L440.8 100.5 L441.2 101.0 L441.6 101.5 L442.0 102.0 L442.4 102.6 L442.7 103.1 L443.1 103.6 L443.5 104.1 L443.9 104.7 L444.3 105.2 L445.6 103.3 L445.1 103.0 L444.6 102.6 L444.1 102.3 L443.6 101.9 L443.1 101.5 L442.6 101.2 L442.1 100.8 L441.6 100.5 L441.1 100.1 L440.6 99.7 L440.1 99.4 L440.0 99.3 L439.6 99.0 L439.5 99.0Z" fill="#c4f05a" stroke="#b6ec40" stroke-width="0.45" stroke-linejoin="round"/>
<path d="M444.3 105.2 L444.6 105.7 L445.0 106.2 L445.4 106.8 L445.8 107.3 L446.2 107.8 L446.5 108.4 L446.9 108.9 L447.3 109.4 L447.7 109.9 L448.1 110.5 L448.4 111.0 L448.8 111.5 L449.2 112.0 L449.6 112.6 L449.7 112.7 L452.7 108.5 L452.6 108.4 L452.1 108.0 L451.6 107.7 L451.1 107.3 L450.6 106.9 L450.1 106.6 L449.6 106.2 L449.1 105.9 L448.6 105.5 L448.1 105.1 L447.6 104.8 L447.1 104.4 L446.6 104.1 L446.1 103.7 L445.6 103.3Z" fill="#eef248" stroke="#e4ec30" stroke-width="0.45" stroke-linejoin="round"/>
<path d="M449.7 112.7 L456.9 102.6 L452.7 108.5 L452.7 108.5Z" fill="#98ec5a" stroke="#8ae84c" stroke-width="0.45" stroke-linejoin="round"/>
<path d="M456.9 102.6 L457.2 103.1 L457.4 103.8 L457.7 104.5 L458.0 105.1 L458.3 105.8 L458.6 106.4 L458.9 107.1 L456.1 110.9 L455.6 110.6 L455.1 110.2 L454.6 109.8 L454.1 109.5 L453.6 109.1 L453.1 108.8 L452.7 108.5Z" fill="#3ee03a" stroke="#34dc30" stroke-width="0.45" stroke-linejoin="round"/>
<path d="M458.9 107.1 L459.1 107.8 L459.4 108.4 L459.7 109.1 L460.0 109.7 L460.3 110.4 L460.6 111.1 L459.1 113.1 L458.6 112.7 L458.1 112.4 L457.6 112.0 L457.1 111.6 L456.6 111.3 L456.1 110.9Z" fill="#5fe448" stroke="#50e040" stroke-width="0.45" stroke-linejoin="round"/>
<path d="M460.6 111.1 L460.8 111.7 L461.1 112.4 L461.4 113.0 L461.7 113.7 L462.0 114.3 L462.3 115.0 L462.5 115.5 L462.5 115.5 L462.1 115.2 L461.6 114.9 L461.1 114.5 L460.6 114.2 L460.1 113.8 L459.6 113.4 L459.1 113.1Z" fill="#98ec5a" stroke="#8ae84c" stroke-width="0.45" stroke-linejoin="round"/>
<path d="M126.1 116.5 L124.2 114.3 M146.1 100.9 L144.2 98.3 M147.6 99.8 L145.5 96.9 M149.1 98.7 L146.8 95.5 M150.1 97.9 L147.7 94.7 M151.6 96.8 L149.2 93.5 M153.1 95.7 L150.7 92.4 M154.6 94.7 L152.2 91.3 M156.1 93.6 L153.7 90.2 M157.6 92.5 L155.2 89.1 M159.1 91.5 L156.7 88.0 M160.1 90.8 L157.7 87.3 M161.6 89.7 L159.2 86.3 M163.1 88.7 L160.7 85.2 M164.6 87.6 L162.3 84.2 M166.1 86.6 L163.8 83.2 M167.6 85.6 L165.3 82.2 M169.1 84.6 L166.9 81.2 M170.1 83.9 L167.9 80.6 M171.6 83.0 L169.5 79.8 M173.1 82.0 L171.2 79.0 M174.6 81.0 L172.8 78.2 M176.1 80.1 L174.5 77.5 M177.6 79.1 L176.1 76.7 M178.6 78.5 L177.0 76.0 M180.1 77.6 L178.3 74.6 M181.6 76.7 L179.5 73.2 M183.1 75.8 L180.8 71.9 M184.1 75.2 L182.1 71.7 M185.6 74.3 L184.1 71.7 M186.6 73.8 L185.2 71.4 M188.1 72.9 L186.7 70.5 M189.1 72.3 L186.2 67.2 M190.1 71.8 L187.9 67.9 M191.1 71.2 L189.4 68.2 M192.1 70.7 L190.6 67.9 M193.6 69.9 L192.0 66.8 M195.1 69.1 L193.4 65.8 M196.6 68.4 L194.8 64.8 M198.1 67.6 L196.2 63.8 M199.6 66.9 L197.6 62.8 M200.6 66.4 L198.6 62.2 M202.1 65.6 L200.1 61.3 M203.6 64.9 L201.5 60.5 M205.1 64.3 L203.0 59.7 M206.6 63.6 L204.5 58.9 M208.1 62.9 L206.0 58.1 M209.6 62.3 L207.5 57.3 M210.9 61.7 L208.8 56.6 M212.1 61.2 L210.0 56.2 M213.6 60.6 L211.6 55.7 M215.1 60.0 L213.2 55.2 M216.6 59.4 L214.8 54.7 M218.1 58.9 L216.4 54.3 M219.6 58.3 L218.0 53.8 M221.1 57.8 L219.5 53.4 M222.1 57.4 L220.6 53.1 M223.6 56.9 L222.2 52.9 M225.1 56.4 L223.9 52.7 M226.6 55.9 L225.5 52.5 M228.0 55.4 L227.0 52.4 M229.1 55.1 L228.2 52.1 M230.6 54.6 L229.7 51.7 M232.1 54.2 L231.3 51.4 M233.6 53.7 L232.8 51.0 M234.6 53.4 L233.8 50.6 M236.1 53.0 L235.2 49.7 M237.6 52.6 L236.6 48.9 M239.1 52.2 L238.0 48.0 M240.6 51.8 L239.4 47.2 M241.6 51.5 L240.5 47.3 M243.1 51.2 L242.3 47.9 M244.6 50.8 L244.1 48.6 M245.6 50.6 L245.1 48.4 M247.1 50.2 L246.5 47.6 M248.6 49.9 L247.9 46.7 M250.0 49.6 L249.2 46.0 M251.1 49.4 L250.3 45.5 M252.6 49.1 L251.7 44.7 M254.1 48.8 L253.2 44.0 M255.6 48.5 L254.6 43.3 M256.7 48.3 L255.7 42.8 M258.1 48.0 L257.1 42.2 M259.6 47.8 L258.6 41.5 M260.6 47.6 L259.5 41.2 M262.1 47.4 L261.1 40.7 M263.6 47.1 L262.6 40.2 M265.1 46.9 L264.1 39.8 M266.1 46.8 L265.1 39.5 M267.6 46.6 L266.7 39.5 M269.1 46.4 L268.3 39.6 M270.6 46.2 L269.8 39.7 M272.1 46.0 L271.4 39.7 M273.6 45.9 L273.0 39.8 M275.1 45.7 L274.5 39.9 M276.6 45.6 L276.1 40.0 M277.6 45.5 L277.2 40.3 M279.1 45.4 L278.8 41.0 M280.6 45.2 L280.3 41.7 M282.0 45.1 L281.8 42.4 M283.1 45.1 L282.9 42.2 M284.6 45.0 L284.4 41.8 M285.6 44.9 L285.4 41.3 M287.1 44.9 L286.9 40.3 M288.6 44.8 L288.4 39.3 M289.6 44.8 L289.4 38.9 M291.1 44.7 L291.0 39.8 M292.6 44.7 L292.5 40.8 M293.6 44.7 L293.5 41.0 M295.1 44.7 L295.1 41.1 M296.6 44.6 L296.6 41.3 M298.1 44.6 L298.1 41.4 M299.6 44.7 L299.6 41.2 M301.1 44.7 L301.2 40.9 M302.6 44.7 L302.7 40.7 M304.1 44.8 L304.2 40.4 M305.6 44.8 L305.8 40.1 M307.1 44.9 L307.3 39.9 M308.6 44.9 L308.9 39.6 M309.6 45.0 L309.9 39.5 M311.1 45.1 L311.4 39.6 M312.6 45.2 L313.0 39.7 M314.1 45.3 L314.5 39.8 M315.6 45.4 L316.1 39.9 M317.1 45.6 L317.6 40.1 M318.6 45.7 L319.1 40.2 M320.0 45.8 L320.6 40.3 M321.1 46.0 L321.7 40.6 M322.6 46.1 L323.2 40.9 M324.1 46.3 L324.7 41.2 M325.6 46.5 L326.2 41.5 M327.1 46.7 L327.8 41.9 M328.6 46.9 L329.3 42.2 M330.0 47.1 L330.7 42.6 M331.1 47.3 L331.8 42.9 M332.6 47.5 L333.3 43.3 M334.1 47.8 L334.8 43.8 M335.6 48.0 L336.3 44.3 M337.1 48.3 L337.8 44.8 M338.6 48.6 L339.3 45.3 M340.0 48.9 L340.6 45.7 M341.1 49.1 L341.7 46.1 M342.6 49.4 L343.2 46.5 M344.1 49.8 L344.7 47.0 M345.1 50.0 L345.7 47.3 M346.6 50.3 L347.2 47.6 M348.1 50.7 L348.8 48.0 M349.6 51.1 L350.3 48.4 M350.6 51.3 L351.3 48.5 M352.1 51.7 L353.0 48.6 M353.6 52.2 L354.6 48.7 M354.6 52.4 L355.9 48.1 M356.1 52.9 L358.0 46.6 M357.1 53.2 L359.4 45.9 M358.6 53.7 L360.1 49.0 M359.6 54.0 L360.6 51.0 M361.1 54.5 L361.9 52.3 M362.1 54.8 L362.7 53.1 M363.6 55.4 L364.3 53.5 M365.1 55.9 L365.8 54.0 M366.6 56.5 L367.4 54.4 M368.0 57.0 L368.8 54.9 M369.1 57.5 L370.0 55.2 M370.6 58.1 L371.6 55.5 M372.1 58.7 L373.3 55.9 M373.6 59.3 L374.9 56.4 M374.6 59.8 L375.9 56.7 M376.1 60.4 L377.5 57.4 M377.6 61.1 L379.0 58.0 M379.1 61.8 L380.5 58.7 M380.6 62.5 L382.1 59.4 M382.1 63.2 L383.6 60.1 M383.6 64.0 L385.2 60.9 M384.6 64.5 L386.1 61.5 M386.1 65.2 L387.5 62.6 M387.6 66.0 L388.8 63.7 M389.1 66.8 L390.1 64.8 M390.1 67.3 L391.0 65.6 M395.6 70.3 L393.8 73.5 M404.5 75.5 L406.2 72.8 M405.6 76.2 L407.6 73.0 M407.1 77.1 L409.5 73.2 M408.1 77.8 L410.8 73.5 M409.6 78.7 L412.4 74.3 M411.1 79.6 L413.9 75.2 M412.6 80.6 L415.5 76.0 M414.1 81.6 L417.1 76.9 M415.6 82.5 L418.7 77.8 M417.1 83.5 L420.3 78.7 M418.6 84.5 L421.8 79.6 M420.0 85.4 L423.3 80.5 M421.1 86.2 L424.4 81.3 M422.6 87.2 L425.8 82.4 M424.1 88.2 L427.3 83.6 M425.6 89.2 L428.7 84.7 M427.1 90.2 L430.1 85.9 M428.6 91.3 L431.6 87.0 M430.0 92.3 L432.9 88.1 M431.1 93.0 L433.8 89.2 M432.6 94.1 L435.0 90.7 M434.1 95.1 L436.2 92.2 M435.6 96.2 L437.4 93.7 M436.6 96.9 L438.0 94.9 M446.1 103.7 L444.8 105.6 M447.6 104.8 L445.9 107.1 M449.1 105.9 L447.1 108.6 M450.6 106.9 L448.3 110.2 M452.1 108.0 L449.4 111.7 M452.7 108.5 L456.6 103.1 M454.1 109.5 L457.4 104.9 M455.6 110.6 L458.3 106.8 M457.1 111.6 L459.2 108.7 M458.6 112.7 L460.1 110.6" stroke="#fff" stroke-opacity="0.35" stroke-width="0.4" fill="none"/>
<path d="M61.3 182.7 L64.2 178.9 L67.2 175.3 L70.1 171.7 L73.0 168.2 L75.9 164.8 L78.9 161.5 L81.8 158.3 L84.7 155.1 L87.6 152.0 L90.6 149.0 L93.5 146.1 L96.4 143.2 L99.3 140.3 L102.3 137.5 L105.2 134.8 L108.1 132.1 L111.0 129.4 L114.0 126.8 L116.9 124.3 L119.8 121.8 L122.7 119.3 L125.7 116.9 L128.6 114.5 L131.5 112.1 L134.4 109.8 L137.4 107.5 L140.3 105.3 L143.2 103.0 L146.2 100.8 L149.1 98.7 L152.0 96.5 L154.9 94.4 L157.9 92.3 L160.8 90.3 L163.7 88.3 L166.6 86.3 L169.6 84.3 L172.5 82.4 L175.4 80.5 L178.3 78.7 L181.3 76.9 L184.2 75.2 L187.1 73.5 L190.0 71.8 L193.0 70.2 L195.9 68.7 L198.8 67.2 L201.7 65.8 L204.7 64.5 L207.6 63.1 L210.5 61.9 L213.4 60.7 L216.4 59.5 L219.3 58.4 L222.2 57.4 L225.2 56.4 L228.1 55.4 L231.0 54.5 L233.9 53.6 L236.9 52.8 L239.8 52.0 L242.7 51.3 L245.6 50.6 L248.6 49.9 L251.5 49.3 L254.4 48.7 L257.3 48.2 L260.3 47.7 L263.2 47.2 L266.1 46.8 L269.0 46.4 L272.0 46.0 L274.9 45.7 L277.8 45.5 L280.7 45.2 L283.7 45.0 L286.6 44.9 L289.5 44.8 L292.4 44.7 L295.4 44.7 L298.3 44.6 L301.2 44.7 L304.1 44.8 L307.1 44.9 L310.0 45.0 L312.9 45.2 L315.9 45.4 L318.8 45.7 L321.7 46.0 L324.6 46.4 L327.6 46.8 L330.5 47.2 L333.4 47.7 L336.3 48.2 L339.3 48.7 L342.2 49.3 L345.1 50.0 L348.0 50.7 L351.0 51.4 L353.9 52.2 L356.8 53.1 L359.7 54.0 L362.7 55.0 L365.6 56.1 L368.5 57.2 L371.4 58.4 L374.4 59.7 L377.3 61.0 L380.2 62.3 L383.1 63.8 L386.1 65.2 L389.0 66.7 L391.9 68.3 L394.9 69.9 L397.8 71.6 L400.7 73.3 L403.6 75.0 L406.6 76.8 L409.5 78.6 L412.4 80.5 L415.3 82.4 L418.3 84.3 L421.2 86.2 L424.1 88.2 L427.0 90.2 L430.0 92.2 L432.9 94.3 L435.8 96.3 L438.7 98.4 L441.7 100.5 L444.6 102.6 L447.5 104.7 L450.4 106.8 L453.4 108.9 L456.3 111.1 L459.2 113.2 L462.1 115.3 L465.1 117.4 L468.0 119.4" fill="none" stroke="#4a5c80" stroke-width="0.95"/>
</g>
<g id="b">
<path d="M15.9 349.5 L17.4 347.7 L30.2 361.3 L28.8 363.0Z" fill="#ee8c50"/>
<path d="M17.1 348.1 L18.6 346.3 L31.4 359.9 L30.0 361.6Z" fill="#ee8c50"/>
<path d="M18.3 346.6 L19.8 344.9 L32.5 358.6 L31.1 360.2Z" fill="#ee8c50"/>
<path d="M19.5 345.2 L21.0 343.5 L33.7 357.2 L32.2 358.9Z" fill="#ee8c50"/>
<path d="M20.7 343.8 L22.2 342.1 L34.8 355.9 L33.4 357.6Z" fill="#ee8c50"/>
<path d="M21.9 342.4 L23.4 340.7 L35.9 354.6 L34.5 356.2Z" fill="#ee8c50"/>
<path d="M23.1 341.0 L24.6 339.3 L37.1 353.3 L35.7 354.9Z" fill="#ee8c50"/>
<path d="M24.3 339.7 L25.9 338.0 L38.2 352.0 L36.8 353.6Z" fill="#ee8c50"/>
<path d="M25.6 338.3 L27.1 336.6 L39.3 350.7 L37.9 352.3Z" fill="#ee8c50"/>
<path d="M26.8 337.0 L28.3 335.3 L40.5 349.4 L39.1 351.0Z" fill="#ee8c50"/>
<path d="M28.0 335.6 L29.5 334.0 L41.6 348.1 L40.2 349.7Z" fill="#ee8c50"/>
<path d="M29.2 334.3 L30.7 332.7 L42.7 346.8 L41.3 348.4Z" fill="#ee8c50"/>
<path d="M30.4 333.0 L31.9 331.3 L43.8 345.6 L42.4 347.1Z" fill="#ee8c50"/>
<path d="M31.6 331.7 L33.1 330.0 L45.0 344.3 L43.6 345.9Z" fill="#ef914e"/>
<path d="M32.8 330.4 L34.3 328.8 L46.1 343.1 L44.7 344.6Z" fill="#f3a644"/>
<path d="M34.0 329.1 L35.5 327.5 L47.2 341.8 L45.8 343.4Z" fill="#f3a846"/>
<path d="M35.2 327.8 L36.7 326.2 L48.3 340.6 L46.9 342.1Z" fill="#f4ab48"/>
<path d="M36.4 326.5 L37.9 325.0 L49.5 339.4 L48.1 340.9Z" fill="#f4ad49"/>
<path d="M37.6 325.3 L39.1 323.7 L50.6 338.1 L49.2 339.7Z" fill="#f4b04b"/>
<path d="M38.8 324.0 L40.3 322.5 L51.7 336.9 L50.3 338.4Z" fill="#f4b24c"/>
<path d="M40.0 322.8 L41.5 321.2 L52.8 335.7 L51.4 337.2Z" fill="#f4b54e"/>
<path d="M41.2 321.5 L42.7 320.0 L53.9 334.5 L52.5 336.0Z" fill="#f5b74f"/>
<path d="M42.4 320.3 L43.9 318.8 L55.1 333.3 L53.7 334.8Z" fill="#f5ba51"/>
<path d="M43.6 319.1 L45.2 317.6 L56.2 332.2 L54.8 333.6Z" fill="#f5bd53"/>
<path d="M44.9 317.9 L46.4 316.4 L57.3 331.1 L55.9 332.5Z" fill="#f5c057"/>
<path d="M46.1 316.7 L47.6 315.2 L58.5 329.9 L57.1 331.3Z" fill="#f5c45b"/>
<path d="M47.3 315.5 L48.8 314.0 L59.6 328.8 L58.2 330.2Z" fill="#f5c75f"/>
<path d="M48.5 314.3 L50.0 312.9 L60.8 327.7 L59.4 329.1Z" fill="#f5ca63"/>
<path d="M49.7 313.2 L51.2 311.7 L61.9 326.5 L60.5 328.0Z" fill="#f5cd66"/>
<path d="M50.9 312.0 L52.4 310.5 L63.0 325.4 L61.6 326.8Z" fill="#f5cd66"/>
<path d="M52.1 310.8 L53.6 309.4 L64.0 324.2 L62.7 325.7Z" fill="#f5cd66"/>
<path d="M53.3 309.7 L54.8 308.3 L65.1 322.9 L63.8 324.5Z" fill="#f5cd66"/>
<path d="M54.5 308.6 L56.0 307.1 L66.1 321.6 L64.8 323.3Z" fill="#f5cd66"/>
<path d="M55.7 307.4 L57.2 306.0 L67.0 320.3 L65.8 322.0Z" fill="#f5cd66"/>
<path d="M56.9 306.3 L58.4 304.9 L67.9 318.9 L66.7 320.6Z" fill="#f5cd66"/>
<path d="M58.1 305.2 L59.6 303.8 L69.3 318.3 L67.7 319.2Z" fill="#f5cd66"/>
<path d="M59.3 304.1 L60.8 302.7 L70.6 317.4 L69.0 318.5Z" fill="#f8db5d"/>
<path d="M60.5 303.0 L62.0 301.6 L71.9 316.5 L70.3 317.6Z" fill="#fbec52"/>
<path d="M61.7 301.9 L63.2 300.6 L73.1 315.6 L71.5 316.8Z" fill="#fbec52"/>
<path d="M62.9 300.8 L64.5 299.5 L74.3 314.7 L72.8 315.9Z" fill="#fbec52"/>
<path d="M64.2 299.8 L65.7 298.4 L75.5 313.8 L74.0 314.9Z" fill="#fbec52"/>
<path d="M65.4 298.7 L66.9 297.4 L76.6 312.8 L75.2 314.0Z" fill="#fbec52"/>
<path d="M66.6 297.7 L68.1 296.3 L77.7 311.8 L76.3 313.0Z" fill="#fbec52"/>
<path d="M67.8 296.6 L69.3 295.3 L78.9 310.8 L77.5 312.0Z" fill="#fbec52"/>
<path d="M69.0 295.6 L70.5 294.3 L80.0 309.7 L78.6 311.0Z" fill="#fbec52"/>
<path d="M70.2 294.5 L71.7 293.3 L81.0 308.6 L79.7 310.0Z" fill="#fbec52"/>
<path d="M71.4 293.5 L72.9 292.3 L82.1 307.5 L80.8 308.9Z" fill="#fbec52"/>
<path d="M72.6 292.5 L74.1 291.2 L83.1 306.4 L81.8 307.8Z" fill="#fbec52"/>
<path d="M73.8 291.5 L75.3 290.3 L84.1 305.3 L82.9 306.7Z" fill="#fbec52"/>
<path d="M75.0 290.5 L76.5 289.3 L85.1 304.1 L83.9 305.5Z" fill="#fae656"/>
<path d="M76.2 289.5 L77.7 288.3 L86.1 302.8 L84.9 304.4Z" fill="#f7d95e"/>
<path d="M77.4 288.5 L78.9 287.3 L87.0 301.5 L85.9 303.2Z" fill="#f5cd66"/>
<path d="M78.6 287.6 L80.1 286.3 L88.4 300.9 L86.8 301.8Z" fill="#f5cd66"/>
<path d="M79.8 286.6 L81.3 285.4 L89.7 300.3 L88.0 301.1Z" fill="#f5cd66"/>
<path d="M81.0 285.6 L82.6 284.4 L90.9 299.6 L89.3 300.5Z" fill="#f5cd66"/>
<path d="M82.3 284.7 L83.8 283.5 L92.1 298.8 L90.6 299.8Z" fill="#f5cd66"/>
<path d="M83.5 283.7 L85.0 282.6 L93.3 298.1 L91.8 299.0Z" fill="#f5cd66"/>
<path d="M84.7 282.8 L86.2 281.6 L94.5 297.3 L93.0 298.3Z" fill="#f5cd66"/>
<path d="M85.9 281.9 L87.4 280.7 L95.7 296.5 L94.2 297.5Z" fill="#f5cd66"/>
<path d="M87.1 281.0 L88.6 279.8 L96.8 295.6 L95.4 296.7Z" fill="#f5cd66"/>
<path d="M88.3 280.0 L89.8 278.9 L98.0 294.7 L96.6 295.8Z" fill="#f5cd66"/>
<path d="M89.5 279.1 L91.0 278.0 L99.1 293.8 L97.7 295.0Z" fill="#f5cd66"/>
<path d="M90.7 278.2 L92.2 277.1 L100.2 292.9 L98.8 294.1Z" fill="#f5cd66"/>
<path d="M91.9 277.3 L93.4 276.2 L101.3 292.0 L99.9 293.2Z" fill="#f5cd66"/>
<path d="M93.1 276.5 L94.6 275.4 L102.3 291.0 L101.0 292.2Z" fill="#f5cd66"/>
<path d="M94.3 275.6 L95.8 274.5 L103.4 290.0 L102.1 291.2Z" fill="#f5cd66"/>
<path d="M95.5 274.7 L97.0 273.6 L104.4 289.0 L103.1 290.3Z" fill="#f5cd66"/>
<path d="M96.7 273.9 L98.2 272.8 L105.4 287.9 L104.2 289.2Z" fill="#f5cd66"/>
<path d="M97.9 273.0 L99.4 271.9 L106.4 286.8 L105.2 288.2Z" fill="#f5cd66"/>
<path d="M99.1 272.2 L100.6 271.1 L107.5 285.9 L106.2 287.0Z" fill="#f5cd66"/>
<path d="M100.3 271.3 L101.9 270.3 L108.9 285.6 L107.3 286.1Z" fill="#f5cd66"/>
<path d="M101.6 270.5 L103.1 269.5 L110.1 285.0 L108.6 285.7Z" fill="#f5cd66"/>
<path d="M102.8 269.7 L104.3 268.6 L111.4 284.4 L109.8 285.2Z" fill="#f5cd66"/>
<path d="M104.0 268.8 L105.5 267.8 L112.6 283.8 L111.1 284.6Z" fill="#f5cd66"/>
<path d="M105.2 268.0 L106.7 267.0 L113.8 283.2 L112.3 284.0Z" fill="#f5cd66"/>
<path d="M106.4 267.2 L107.9 266.2 L115.0 282.5 L113.5 283.4Z" fill="#f5cd66"/>
<path d="M107.6 266.4 L109.1 265.4 L116.1 281.9 L114.7 282.7Z" fill="#f5cd66"/>
<path d="M108.8 265.6 L110.3 264.7 L117.3 281.1 L115.8 282.0Z" fill="#f5cd66"/>
<path d="M110.0 264.9 L111.5 263.9 L118.4 280.4 L117.0 281.3Z" fill="#f5cd66"/>
<path d="M111.2 264.1 L112.7 263.1 L119.5 279.6 L118.1 280.6Z" fill="#f5cd66"/>
<path d="M112.4 263.3 L113.9 262.4 L120.6 278.8 L119.2 279.8Z" fill="#f5cd66"/>
<path d="M113.6 262.6 L115.1 261.6 L121.7 278.0 L120.3 279.0Z" fill="#f5cd66"/>
<path d="M114.8 261.8 L116.3 260.9 L122.8 277.1 L121.4 278.2Z" fill="#f5cd66"/>
<path d="M116.0 261.1 L117.5 260.1 L123.8 276.3 L122.5 277.4Z" fill="#f5cb63"/>
<path d="M117.2 260.3 L118.7 259.4 L124.9 275.3 L123.6 276.5Z" fill="#f4c65d"/>
<path d="M118.4 259.6 L119.9 258.7 L125.9 274.4 L124.6 275.6Z" fill="#f4c157"/>
<path d="M119.6 258.9 L121.2 258.0 L126.9 273.2 L125.7 274.6Z" fill="#f4bd51"/>
<path d="M120.9 258.1 L122.4 257.3 L128.3 273.2 L126.6 273.5Z" fill="#f3b84b"/>
<path d="M122.1 257.4 L123.6 256.5 L129.5 272.8 L127.9 273.2Z" fill="#f3b94b"/>
<path d="M123.3 256.7 L124.8 255.9 L130.7 272.3 L129.2 272.9Z" fill="#f4bd51"/>
<path d="M124.5 256.0 L126.0 255.2 L131.9 271.9 L130.4 272.5Z" fill="#f4c257"/>
<path d="M125.7 255.3 L127.2 254.5 L133.1 271.4 L131.6 272.0Z" fill="#f4c65d"/>
<path d="M126.9 254.7 L128.4 253.8 L134.3 270.9 L132.8 271.5Z" fill="#f5cb63"/>
<path d="M128.1 254.0 L129.6 253.1 L135.4 270.3 L134.0 271.0Z" fill="#f5cd66"/>
<path d="M129.3 253.3 L130.8 252.5 L136.6 269.8 L135.2 270.5Z" fill="#f5cd66"/>
<path d="M130.5 252.6 L132.0 251.8 L137.7 269.2 L136.3 269.9Z" fill="#f5cd66"/>
<path d="M131.7 252.0 L133.2 251.2 L138.9 268.5 L137.4 269.3Z" fill="#f5cd66"/>
<path d="M132.9 251.3 L134.4 250.5 L140.0 267.9 L138.6 268.7Z" fill="#f4c55d"/>
<path d="M134.1 250.7 L135.6 249.9 L141.1 267.2 L139.7 268.0Z" fill="#f2b347"/>
<path d="M135.3 250.1 L136.8 249.3 L142.2 266.4 L140.8 267.3Z" fill="#f0a131"/>
<path d="M136.5 249.4 L138.0 248.6 L143.2 265.7 L141.9 266.6Z" fill="#f0a030"/>
<path d="M137.7 248.8 L139.3 248.0 L144.3 264.9 L143.0 265.9Z" fill="#f0a030"/>
<path d="M138.9 248.2 L140.5 247.4 L145.4 264.0 L144.0 265.1Z" fill="#f0a030"/>
<path d="M140.2 247.6 L141.7 246.8 L146.4 263.1 L145.1 264.3Z" fill="#f0a030"/>
<path d="M141.4 247.0 L142.9 246.2 L147.6 262.7 L146.1 263.3Z" fill="#f0a030"/>
<path d="M142.6 246.4 L144.1 245.6 L148.8 262.6 L147.3 262.8Z" fill="#f2b245"/>
<path d="M143.8 245.8 L145.3 245.1 L150.0 262.3 L148.5 262.6Z" fill="#f4c45b"/>
<path d="M145.0 245.2 L146.5 244.5 L151.2 262.0 L149.7 262.4Z" fill="#f5cd66"/>
<path d="M146.2 244.6 L147.7 243.9 L152.4 261.6 L150.9 262.1Z" fill="#f5cd66"/>
<path d="M147.4 244.1 L148.9 243.4 L153.6 261.2 L152.1 261.7Z" fill="#f5cd66"/>
<path d="M148.6 243.5 L150.1 242.8 L154.7 260.8 L153.3 261.3Z" fill="#f5cd66"/>
<path d="M149.8 242.9 L151.3 242.3 L155.9 260.4 L154.4 260.9Z" fill="#f5cd66"/>
<path d="M151.0 242.4 L152.5 241.7 L157.0 259.9 L155.6 260.5Z" fill="#f5cd66"/>
<path d="M152.2 241.9 L153.7 241.2 L158.1 259.4 L156.7 260.0Z" fill="#f5cd66"/>
<path d="M153.4 241.3 L154.9 240.7 L159.3 258.8 L157.9 259.5Z" fill="#f8dd5c"/>
<path d="M154.6 240.8 L156.1 240.1 L160.4 258.3 L159.0 259.0Z" fill="#fbec52"/>
<path d="M155.8 240.3 L157.3 239.6 L161.5 257.7 L160.1 258.4Z" fill="#fbec52"/>
<path d="M157.0 239.7 L158.6 239.1 L162.6 257.0 L161.2 257.8Z" fill="#fbec52"/>
<path d="M158.3 239.2 L159.8 238.6 L163.6 256.3 L162.3 257.2Z" fill="#fbec52"/>
<path d="M159.5 238.7 L161.0 238.1 L164.7 255.6 L163.4 256.5Z" fill="#fbec52"/>
<path d="M160.7 238.2 L162.2 237.6 L165.8 254.8 L164.4 255.8Z" fill="#fbec52"/>
<path d="M161.9 237.8 L163.4 237.1 L166.8 254.1 L165.5 255.0Z" fill="#fbec52"/>
<path d="M163.1 237.3 L164.6 236.7 L168.1 254.2 L166.6 254.3Z" fill="#fbec52"/>
<path d="M164.3 236.8 L165.8 236.2 L169.3 254.1 L167.8 254.3Z" fill="#fbec52"/>
<path d="M165.5 236.3 L167.0 235.7 L170.5 253.9 L169.0 254.1Z" fill="#fbec52"/>
<path d="M166.7 235.9 L168.2 235.3 L171.6 253.6 L170.2 253.9Z" fill="#fbec52"/>
<path d="M167.9 235.4 L169.4 234.8 L172.8 253.4 L171.3 253.7Z" fill="#f9e457"/>
<path d="M169.1 234.9 L170.6 234.4 L173.9 253.1 L172.5 253.4Z" fill="#f6d163"/>
<path d="M170.3 234.5 L171.8 234.0 L175.1 252.7 L173.6 253.1Z" fill="#f5cd66"/>
<path d="M171.5 234.1 L173.0 233.5 L176.2 252.4 L174.8 252.8Z" fill="#f5cd66"/>
<path d="M172.7 233.6 L174.2 233.1 L177.3 252.0 L175.9 252.5Z" fill="#f5cd66"/>
<path d="M173.9 233.2 L175.4 232.7 L178.4 251.5 L177.0 252.1Z" fill="#f5cd66"/>
<path d="M175.1 232.8 L176.6 232.3 L179.6 251.1 L178.2 251.6Z" fill="#f5cd66"/>
<path d="M176.3 232.4 L177.9 231.9 L180.7 250.6 L179.3 251.2Z" fill="#f5cd66"/>
<path d="M177.6 232.0 L179.1 231.5 L181.8 250.0 L180.4 250.7Z" fill="#f5cf64"/>
<path d="M178.8 231.6 L180.3 231.1 L182.9 249.5 L181.5 250.2Z" fill="#f9e258"/>
<path d="M180.0 231.2 L181.5 230.7 L184.0 248.9 L182.6 249.6Z" fill="#fbec52"/>
<path d="M181.2 230.8 L182.7 230.3 L185.0 248.2 L183.7 249.0Z" fill="#fbec52"/>
<path d="M182.4 230.4 L183.9 230.0 L186.1 247.4 L184.8 248.4Z" fill="#fbec52"/>
<path d="M183.6 230.0 L185.1 229.6 L187.3 247.5 L185.9 247.6Z" fill="#fbec52"/>
<path d="M184.8 229.7 L186.3 229.2 L188.5 247.5 L187.0 247.5Z" fill="#fbec52"/>
<path d="M186.0 229.3 L187.5 228.9 L189.6 247.4 L188.2 247.5Z" fill="#fbec52"/>
<path d="M187.2 229.0 L188.7 228.5 L190.8 247.3 L189.3 247.4Z" fill="#fbec52"/>
<path d="M188.4 228.6 L189.9 228.2 L191.9 247.1 L190.5 247.3Z" fill="#fbec52"/>
<path d="M189.6 228.3 L191.1 227.9 L193.1 246.9 L191.6 247.1Z" fill="#fbec52"/>
<path d="M190.8 227.9 L192.3 227.5 L194.2 246.7 L192.8 246.9Z" fill="#fbec52"/>
<path d="M192.0 227.6 L193.5 227.2 L195.3 246.4 L193.9 246.7Z" fill="#fae556"/>
<path d="M193.2 227.3 L194.7 226.9 L196.4 246.1 L195.0 246.5Z" fill="#f7d95e"/>
<path d="M194.4 227.0 L195.9 226.6 L197.6 245.8 L196.2 246.2Z" fill="#f5cd66"/>
<path d="M195.6 226.7 L197.2 226.3 L198.7 245.4 L197.3 245.9Z" fill="#f5cd66"/>
<path d="M196.9 226.4 L198.4 226.0 L199.8 245.0 L198.4 245.5Z" fill="#f5cd66"/>
<path d="M198.1 226.1 L199.6 225.7 L200.9 244.6 L199.5 245.1Z" fill="#f5cd66"/>
<path d="M199.3 225.8 L200.8 225.4 L202.0 244.1 L200.6 244.7Z" fill="#f5cd66"/>
<path d="M200.5 225.5 L202.0 225.2 L203.1 243.6 L201.7 244.3Z" fill="#f5cd66"/>
<path d="M201.7 225.2 L203.2 224.9 L204.2 243.1 L202.9 243.8Z" fill="#f5cd66"/>
<path d="M202.9 225.0 L204.4 224.6 L205.4 242.5 L204.0 243.2Z" fill="#f5cd66"/>
<path d="M204.1 224.7 L205.6 224.4 L206.5 242.1 L205.1 242.6Z" fill="#f5cd66"/>
<path d="M205.3 224.4 L206.8 224.1 L207.6 242.4 L206.2 242.2Z" fill="#f5cd66"/>
<path d="M206.5 224.2 L208.0 223.9 L208.8 242.4 L207.3 242.4Z" fill="#f3bc52"/>
<path d="M207.7 223.9 L209.2 223.6 L209.9 242.4 L208.5 242.4Z" fill="#f1aa3c"/>
<path d="M208.9 223.7 L210.4 223.4 L211.0 242.3 L209.6 242.4Z" fill="#f0a030"/>
<path d="M210.1 223.5 L211.6 223.2 L212.2 242.2 L210.8 242.3Z" fill="#f0a030"/>
<path d="M211.3 223.2 L212.8 223.0 L213.3 242.1 L211.9 242.3Z" fill="#f0a030"/>
<path d="M212.5 223.0 L214.0 222.7 L214.4 242.0 L213.0 242.2Z" fill="#f0a030"/>
<path d="M213.7 222.8 L215.3 222.5 L215.5 241.8 L214.1 242.0Z" fill="#f1a536"/>
<path d="M215.0 222.6 L216.5 222.3 L216.7 241.6 L215.3 241.8Z" fill="#f3b74c"/>
<path d="M216.2 222.4 L217.7 222.2 L217.8 241.3 L216.4 241.6Z" fill="#f5c962"/>
<path d="M217.4 222.2 L218.9 222.0 L218.9 241.0 L217.5 241.4Z" fill="#f5cd66"/>
<path d="M218.6 222.0 L220.1 221.8 L220.0 240.7 L218.6 241.1Z" fill="#f5cd66"/>
<path d="M219.8 221.8 L221.3 221.6 L221.2 240.4 L219.8 240.8Z" fill="#f5cd66"/>
<path d="M221.0 221.7 L222.5 221.4 L222.3 240.0 L220.9 240.4Z" fill="#f5cd66"/>
<path d="M222.2 221.5 L223.7 221.3 L223.4 239.6 L222.0 240.1Z" fill="#f5cd66"/>
<path d="M223.4 221.3 L224.9 221.1 L224.6 239.1 L223.1 239.7Z" fill="#f5cd66"/>
<path d="M224.6 221.2 L226.1 221.0 L225.7 238.4 L224.3 239.2Z" fill="#f5cd66"/>
<path d="M225.8 221.0 L227.3 220.8 L226.8 238.9 L225.4 238.6Z" fill="#f5cd66"/>
<path d="M227.0 220.9 L228.5 220.7 L227.9 239.0 L226.5 238.8Z" fill="#f5cd66"/>
<path d="M228.2 220.7 L229.7 220.6 L229.0 239.1 L227.6 239.0Z" fill="#f5cd66"/>
<path d="M229.4 220.6 L230.9 220.5 L230.2 239.2 L228.8 239.1Z" fill="#f5cd66"/>
<path d="M230.6 220.5 L232.1 220.3 L231.3 239.2 L229.9 239.2Z" fill="#f6d164"/>
<path d="M231.8 220.4 L233.3 220.2 L232.4 239.2 L231.0 239.2Z" fill="#f9e358"/>
<path d="M233.0 220.3 L234.6 220.1 L233.5 239.2 L232.1 239.2Z" fill="#fbec52"/>
<path d="M234.3 220.2 L235.8 220.1 L234.6 239.1 L233.2 239.2Z" fill="#fbec52"/>
<path d="M235.5 220.1 L237.0 220.0 L235.7 239.0 L234.3 239.1Z" fill="#fbec52"/>
<path d="M236.7 220.0 L238.2 219.9 L236.9 238.9 L235.5 239.1Z" fill="#fbec52"/>
<path d="M237.9 219.9 L239.4 219.8 L238.0 238.7 L236.6 238.9Z" fill="#fbec52"/>
<path d="M239.1 219.8 L240.6 219.8 L239.1 238.6 L237.7 238.8Z" fill="#fbec52"/>
<path d="M240.3 219.8 L241.8 219.7 L240.2 238.3 L238.8 238.6Z" fill="#fbec52"/>
<path d="M241.5 219.7 L243.0 219.6 L241.4 238.1 L240.0 238.4Z" fill="#fbec52"/>
<path d="M242.7 219.7 L244.2 219.6 L242.5 237.8 L241.1 238.1Z" fill="#fbec52"/>
<path d="M243.9 219.6 L245.4 219.6 L243.7 237.4 L242.2 237.8Z" fill="#fbec52"/>
<path d="M245.1 219.6 L246.6 219.5 L244.8 237.0 L243.4 237.5Z" fill="#fbec52"/>
<path d="M246.3 219.6 L247.8 219.5 L245.9 237.1 L244.5 237.1Z" fill="#fbec52"/>
<path d="M247.5 219.5 L249.0 219.5 L247.0 237.5 L245.7 237.1Z" fill="#fbeb53"/>
<path d="M248.7 219.5 L250.2 219.5 L248.1 237.7 L246.7 237.4Z" fill="#f8de5b"/>
<path d="M249.9 219.5 L251.4 219.5 L249.2 237.9 L247.8 237.7Z" fill="#f6d263"/>
<path d="M251.1 219.5 L252.6 219.5 L250.3 238.1 L248.9 237.9Z" fill="#f5cd66"/>
<path d="M252.3 219.5 L253.9 219.5 L251.4 238.2 L250.0 238.0Z" fill="#f5cd66"/>
<path d="M253.6 219.5 L255.1 219.6 L252.5 238.3 L251.1 238.2Z" fill="#f5cd66"/>
<path d="M254.8 219.6 L256.3 219.6 L253.6 238.4 L252.2 238.3Z" fill="#f5cd66"/>
<path d="M256.0 219.6 L257.5 219.7 L254.7 238.4 L253.3 238.4Z" fill="#f5cd66"/>
<path d="M257.2 219.6 L258.7 219.7 L255.8 238.4 L254.4 238.4Z" fill="#f5cd66"/>
<path d="M258.4 219.7 L259.9 219.8 L256.9 238.4 L255.5 238.4Z" fill="#f7d75f"/>
<path d="M259.6 219.8 L261.1 219.8 L258.0 238.3 L256.6 238.4Z" fill="#f9e457"/>
<path d="M260.8 219.8 L262.3 219.9 L259.2 238.3 L257.8 238.4Z" fill="#fbec52"/>
<path d="M262.0 219.9 L263.5 220.0 L260.3 238.1 L258.9 238.3Z" fill="#fbec52"/>
<path d="M263.2 220.0 L264.7 220.1 L261.5 238.0 L260.0 238.2Z" fill="#fbec52"/>
<path d="M264.4 220.1 L265.9 220.2 L262.6 237.8 L261.2 238.0Z" fill="#fbec52"/>
<path d="M265.6 220.2 L267.1 220.3 L263.8 237.5 L262.3 237.8Z" fill="#fbec52"/>
<path d="M266.8 220.3 L268.3 220.4 L265.0 237.3 L263.5 237.6Z" fill="#fbec52"/>
<path d="M268.0 220.4 L269.5 220.6 L266.0 238.0 L264.7 237.3Z" fill="#fbec52"/>
<path d="M269.2 220.5 L270.7 220.7 L267.0 238.4 L265.7 237.9Z" fill="#fbec52"/>
<path d="M270.4 220.7 L272.0 220.9 L268.1 238.7 L266.8 238.3Z" fill="#f8dc5c"/>
<path d="M271.6 220.8 L273.2 221.0 L269.2 239.0 L267.8 238.6Z" fill="#f5cd66"/>
<path d="M272.9 221.0 L274.4 221.2 L270.2 239.3 L268.9 238.9Z" fill="#f5cd66"/>
<path d="M274.1 221.2 L275.6 221.4 L271.3 239.5 L270.0 239.2Z" fill="#f5cd66"/>
<path d="M275.3 221.3 L276.8 221.6 L272.4 239.7 L271.1 239.4Z" fill="#f5cd66"/>
<path d="M276.5 221.5 L278.0 221.8 L273.5 239.9 L272.1 239.6Z" fill="#f5cd66"/>
<path d="M277.7 221.7 L279.2 222.0 L274.6 240.0 L273.2 239.8Z" fill="#f5cd66"/>
<path d="M278.9 221.9 L280.4 222.2 L275.7 240.1 L274.3 240.0Z" fill="#f5cd66"/>
<path d="M280.1 222.1 L281.6 222.4 L276.9 240.2 L275.5 240.1Z" fill="#f5cd66"/>
<path d="M281.3 222.4 L282.8 222.7 L278.0 240.3 L276.6 240.2Z" fill="#f5cd66"/>
<path d="M282.5 222.6 L284.0 222.9 L279.2 240.3 L277.7 240.3Z" fill="#f3bc52"/>
<path d="M283.7 222.9 L285.2 223.2 L280.3 240.3 L278.9 240.3Z" fill="#f1aa3c"/>
<path d="M284.9 223.1 L286.4 223.5 L281.5 240.3 L280.0 240.3Z" fill="#f0a030"/>
<path d="M286.1 223.4 L287.6 223.7 L282.7 240.2 L281.2 240.3Z" fill="#f0a030"/>
<path d="M287.3 223.7 L288.8 224.0 L283.9 240.0 L282.4 240.2Z" fill="#f0a030"/>
<path d="M288.5 224.0 L290.0 224.4 L285.0 240.6 L283.6 240.1Z" fill="#f0a233"/>
<path d="M289.7 224.3 L291.3 224.7 L286.0 241.2 L284.7 240.5Z" fill="#f2b448"/>
<path d="M291.0 224.6 L292.5 225.0 L287.0 241.6 L285.7 241.0Z" fill="#f4c65e"/>
<path d="M292.2 224.9 L293.7 225.3 L288.1 242.1 L286.7 241.5Z" fill="#f5cb63"/>
<path d="M293.4 225.3 L294.9 225.7 L289.1 242.5 L287.8 242.0Z" fill="#f5c75f"/>
<path d="M294.6 225.6 L296.1 226.1 L290.2 242.9 L288.9 242.4Z" fill="#f4c45a"/>
<path d="M295.8 226.0 L297.3 226.4 L291.3 243.3 L290.0 242.8Z" fill="#f4c056"/>
<path d="M297.0 226.3 L298.5 226.8 L292.5 243.6 L291.1 243.2Z" fill="#f4bd51"/>
<path d="M298.2 226.7 L299.7 227.2 L293.6 243.9 L292.2 243.5Z" fill="#f3b94d"/>
<path d="M299.4 227.1 L300.9 227.6 L294.8 244.2 L293.3 243.8Z" fill="#f3b648"/>
<path d="M300.6 227.5 L302.1 228.0 L295.9 244.4 L294.5 244.1Z" fill="#f3b446"/>
<path d="M301.8 227.9 L303.3 228.5 L297.1 244.7 L295.6 244.4Z" fill="#f2b243"/>
<path d="M303.0 228.4 L304.5 228.9 L298.3 244.9 L296.8 244.6Z" fill="#f2af41"/>
<path d="M304.2 228.8 L305.7 229.3 L299.6 245.1 L298.0 244.8Z" fill="#f2ad3e"/>
<path d="M305.4 229.2 L306.9 229.8 L300.8 245.2 L299.3 245.0Z" fill="#f1ab3c"/>
<path d="M306.6 229.7 L308.1 230.2 L302.1 245.3 L300.5 245.2Z" fill="#f1a93a"/>
<path d="M307.8 230.1 L309.3 230.7 L303.4 245.4 L301.8 245.3Z" fill="#f1a737"/>
<path d="M309.0 230.6 L310.6 231.2 L304.6 245.7 L303.1 245.4Z" fill="#f1a435"/>
<path d="M310.3 231.1 L311.8 231.7 L305.6 246.6 L304.3 245.6Z" fill="#f0a232"/>
<path d="M311.5 231.5 L313.0 232.1 L306.7 247.2 L305.3 246.4Z" fill="#f0a030"/>
<path d="M312.7 232.0 L314.2 232.6 L307.8 247.9 L306.4 247.1Z" fill="#f0a333"/>
<path d="M313.9 232.5 L315.4 233.1 L308.9 248.5 L307.5 247.7Z" fill="#f1a536"/>
<path d="M315.1 233.0 L316.6 233.6 L310.0 249.1 L308.6 248.3Z" fill="#f1a839"/>
<path d="M316.3 233.5 L317.8 234.1 L311.1 249.6 L309.7 248.9Z" fill="#f1ab3c"/>
<path d="M317.5 234.0 L319.0 234.6 L312.3 250.1 L310.9 249.5Z" fill="#f2ad3f"/>
<path d="M318.7 234.5 L320.2 235.2 L313.5 250.7 L312.0 250.0Z" fill="#f2b042"/>
<path d="M319.9 235.0 L321.4 235.7 L314.6 251.1 L313.2 250.5Z" fill="#f3b344"/>
<path d="M321.1 235.6 L322.6 236.2 L315.8 251.6 L314.4 251.0Z" fill="#f3b547"/>
<path d="M322.3 236.1 L323.8 236.7 L317.1 252.0 L315.6 251.5Z" fill="#f3b94b"/>
<path d="M323.5 236.6 L325.0 237.3 L318.3 252.4 L316.8 251.9Z" fill="#f4bc50"/>
<path d="M324.7 237.1 L326.2 237.8 L319.6 252.8 L318.0 252.3Z" fill="#f4c054"/>
<path d="M325.9 237.7 L327.4 238.3 L320.8 253.2 L319.2 252.7Z" fill="#f4c359"/>
<path d="M327.1 238.2 L328.6 238.9 L322.1 253.5 L320.5 253.1Z" fill="#f4c75e"/>
<path d="M328.3 238.7 L329.9 239.4 L323.4 253.8 L321.8 253.4Z" fill="#f5ca62"/>
<path d="M329.6 239.3 L331.1 240.0 L324.8 254.0 L323.1 253.7Z" fill="#f5cd66"/>
<path d="M330.8 239.8 L332.3 240.5 L325.7 255.0 L324.4 253.9Z" fill="#f5cd66"/>
<path d="M332.0 240.4 L333.5 241.0 L326.8 255.9 L325.5 254.8Z" fill="#f5cd66"/>
<path d="M333.2 240.9 L334.7 241.6 L327.9 256.7 L326.5 255.7Z" fill="#f5cd66"/>
<path d="M334.4 241.4 L335.9 242.1 L328.9 257.5 L327.6 256.5Z" fill="#f5cd66"/>
<path d="M335.6 242.0 L337.1 242.7 L330.0 258.3 L328.7 257.3Z" fill="#f5cd66"/>
<path d="M336.8 242.5 L338.3 243.2 L331.1 259.0 L329.8 258.1Z" fill="#f5cd66"/>
<path d="M338.0 243.1 L339.5 243.8 L332.3 259.7 L330.9 258.8Z" fill="#f6d362"/>
<path d="M339.2 243.6 L340.7 244.3 L333.4 260.4 L332.0 259.6Z" fill="#f9e05a"/>
<path d="M340.4 244.2 L341.9 244.9 L334.5 261.1 L333.1 260.2Z" fill="#fbec52"/>
<path d="M341.6 244.7 L343.1 245.4 L335.7 261.7 L334.3 260.9Z" fill="#fbec52"/>
<path d="M342.8 245.3 L344.3 246.0 L336.9 262.3 L335.4 261.5Z" fill="#fbec52"/>
<path d="M344.0 245.9 L345.5 246.6 L338.1 262.8 L336.6 262.1Z" fill="#fbec52"/>
<path d="M345.2 246.4 L346.7 247.1 L339.3 263.4 L337.8 262.7Z" fill="#fbec52"/>
<path d="M346.4 247.0 L348.0 247.7 L340.5 263.9 L339.0 263.2Z" fill="#fbec52"/>
<path d="M347.7 247.5 L349.2 248.2 L341.7 264.4 L340.2 263.8Z" fill="#fbec52"/>
<path d="M348.9 248.1 L350.4 248.8 L343.0 264.8 L341.4 264.2Z" fill="#fbec52"/>
<path d="M350.1 248.7 L351.6 249.4 L344.2 265.1 L342.7 264.7Z" fill="#fbec52"/>
<path d="M351.3 249.2 L352.8 249.9 L345.3 265.9 L343.9 265.0Z" fill="#fbec52"/>
<path d="M352.5 249.8 L354.0 250.5 L346.3 267.0 L345.1 265.7Z" fill="#fbec52"/>
<path d="M353.7 250.4 L355.2 251.1 L347.3 268.0 L346.0 266.8Z" fill="#fae751"/>
<path d="M354.9 250.9 L356.4 251.7 L348.3 268.9 L347.0 267.7Z" fill="#f7d14d"/>
<path d="M356.1 251.5 L357.6 252.2 L349.3 269.8 L348.1 268.7Z" fill="#f4bb49"/>
<path d="M357.3 252.1 L358.8 252.8 L350.4 270.6 L349.1 269.5Z" fill="#f3b548"/>
<path d="M358.5 252.7 L360.0 253.4 L351.5 271.4 L350.1 270.4Z" fill="#f3b349"/>
<path d="M359.7 253.3 L361.2 254.0 L352.6 272.2 L351.2 271.2Z" fill="#f2b249"/>
<path d="M360.9 253.9 L362.4 254.6 L353.7 273.0 L352.3 272.0Z" fill="#f2b049"/>
<path d="M362.1 254.4 L363.6 255.2 L354.8 273.7 L353.4 272.8Z" fill="#f2ae49"/>
<path d="M363.3 255.0 L364.8 255.8 L355.9 274.4 L354.5 273.5Z" fill="#f2ad4a"/>
<path d="M364.5 255.6 L366.0 256.4 L357.0 275.1 L355.6 274.2Z" fill="#f2ab4a"/>
<path d="M365.7 256.2 L367.3 257.0 L358.2 275.7 L356.7 274.9Z" fill="#f1a94a"/>
<path d="M367.0 256.8 L368.5 257.6 L359.4 276.3 L357.9 275.6Z" fill="#f1a84b"/>
<path d="M368.2 257.4 L369.7 258.2 L360.5 276.9 L359.1 276.2Z" fill="#f1a64b"/>
<path d="M369.4 258.0 L370.9 258.8 L361.8 277.4 L360.3 276.8Z" fill="#f1a44b"/>
<path d="M370.6 258.7 L372.1 259.4 L363.0 277.9 L361.5 277.3Z" fill="#f1a34c"/>
<path d="M371.8 259.3 L373.3 260.0 L364.2 278.4 L362.7 277.8Z" fill="#f1a14c"/>
<path d="M373.0 259.9 L374.5 260.7 L365.0 279.8 L363.9 278.3Z" fill="#f0a04c"/>
<path d="M374.2 260.5 L375.7 261.3 L366.0 280.8 L364.8 279.5Z" fill="#f09e4d"/>
<path d="M375.4 261.1 L376.9 261.9 L367.0 281.7 L365.8 280.5Z" fill="#f09c4d"/>
<path d="M376.6 261.8 L378.1 262.5 L368.1 282.6 L366.8 281.5Z" fill="#f09b4d"/>
<path d="M377.8 262.4 L379.3 263.2 L369.1 283.4 L367.8 282.4Z" fill="#f0994e"/>
<path d="M379.0 263.0 L380.5 263.8 L370.2 284.2 L368.9 283.2Z" fill="#ef974e"/>
<path d="M380.2 263.7 L381.7 264.5 L371.3 285.0 L369.9 284.0Z" fill="#ef964e"/>
<path d="M381.4 264.3 L382.9 265.1 L372.4 285.8 L371.0 284.8Z" fill="#ef944e"/>
<path d="M382.6 264.9 L384.1 265.8 L373.5 286.5 L372.1 285.6Z" fill="#ef924f"/>
<path d="M383.8 265.6 L385.3 266.4 L374.6 287.3 L373.2 286.3Z" fill="#ef914f"/>
<path d="M385.0 266.3 L386.6 267.1 L375.7 288.1 L374.3 287.1Z" fill="#ee8f4f"/>
<path d="M386.3 266.9 L387.8 267.7 L376.8 288.9 L375.4 287.9Z" fill="#ee8e50"/>
<path d="M387.5 267.6 L389.0 268.4 L377.8 289.7 L376.5 288.7Z" fill="#ee8c50"/>
<path d="M388.7 268.2 L390.2 269.1 L378.9 290.5 L377.6 289.5Z" fill="#ee8c50"/>
<path d="M389.9 268.9 L391.4 269.8 L380.0 291.3 L378.7 290.3Z" fill="#ee8c50"/>
<path d="M391.1 269.6 L392.6 270.4 L381.1 292.1 L379.7 291.1Z" fill="#ee8c50"/>
<path d="M392.3 270.3 L393.8 271.1 L382.2 293.0 L380.8 291.9Z" fill="#ee8c50"/>
<path d="M393.5 271.0 L395.0 271.8 L383.2 293.8 L381.9 292.7Z" fill="#ee8c50"/>
<path d="M394.7 271.7 L396.2 272.5 L384.3 294.6 L383.0 293.6Z" fill="#ee8c50"/>
<path d="M395.9 272.3 L397.4 273.2 L385.4 295.4 L384.0 294.4Z" fill="#ee8c50"/>
<path d="M397.1 273.0 L398.6 273.9 L386.5 296.2 L385.1 295.2Z" fill="#ee8c50"/>
<path d="M398.3 273.8 L399.8 274.6 L387.5 297.1 L386.2 296.0Z" fill="#ee8c50"/>
<path d="M399.5 274.5 L401.0 275.4 L388.6 297.9 L387.3 296.9Z" fill="#ee8c50"/>
<path d="M400.7 275.2 L402.2 276.1 L389.7 298.7 L388.4 297.7Z" fill="#ee8c50"/>
<path d="M401.9 275.9 L403.4 276.8 L390.8 299.5 L389.4 298.5Z" fill="#ee8c50"/>
<path d="M403.1 276.6 L404.7 277.6 L391.9 300.4 L390.5 299.3Z" fill="#ee8c50"/>
<path d="M404.3 277.4 L405.9 278.3 L392.9 301.2 L391.6 300.2Z" fill="#ee8c50"/>
<path d="M405.6 278.1 L407.1 279.0 L394.0 302.0 L392.7 301.0Z" fill="#ee8c50"/>
<path d="M406.8 278.9 L408.3 279.8 L395.1 302.8 L393.8 301.8Z" fill="#ee8c50"/>
<path d="M408.0 279.6 L409.5 280.6 L396.2 303.7 L394.8 302.6Z" fill="#ee8c50"/>
<path d="M409.2 280.4 L410.7 281.3 L397.3 304.5 L395.9 303.5Z" fill="#ee8c50"/>
<path d="M410.4 281.1 L411.9 282.1 L398.4 305.3 L397.0 304.3Z" fill="#ee8c50"/>
<path d="M411.6 281.9 L413.1 282.9 L399.5 306.1 L398.1 305.1Z" fill="#ee8c50"/>
<path d="M412.8 282.7 L414.3 283.7 L400.6 307.0 L399.2 305.9Z" fill="#ee8c50"/>
<path d="M15.9 349.5 L28.8 363.0 M17.1 348.1 L30.0 361.6 M18.3 346.6 L31.1 360.2 M19.5 345.2 L32.2 358.9 M20.7 343.8 L33.4 357.6 M21.9 342.4 L34.5 356.2 M23.1 341.0 L35.7 354.9 M24.3 339.7 L36.8 353.6 M25.6 338.3 L37.9 352.3 M26.8 337.0 L39.1 351.0 M28.0 335.6 L40.2 349.7 M29.2 334.3 L41.3 348.4 M30.4 333.0 L42.4 347.1 M31.6 331.7 L43.6 345.9 M32.8 330.4 L44.7 344.6 M34.0 329.1 L45.8 343.4 M35.2 327.8 L46.9 342.1 M36.4 326.5 L48.1 340.9 M37.6 325.3 L49.2 339.7 M38.8 324.0 L50.3 338.4 M40.0 322.8 L51.4 337.2 M41.2 321.5 L52.5 336.0 M42.4 320.3 L53.7 334.8 M43.6 319.1 L54.8 333.6 M44.9 317.9 L55.9 332.5 M46.1 316.7 L57.1 331.3 M47.3 315.5 L58.2 330.2 M48.5 314.3 L59.4 329.1 M49.7 313.2 L60.5 328.0 M50.9 312.0 L61.6 326.8 M52.1 310.8 L62.7 325.7 M53.3 309.7 L63.8 324.5 M54.5 308.6 L64.8 323.3 M55.7 307.4 L65.8 322.0 M56.9 306.3 L66.7 320.6 M58.1 305.2 L67.7 319.2 M59.3 304.1 L69.0 318.5 M60.5 303.0 L70.3 317.6 M61.7 301.9 L71.5 316.8 M62.9 300.8 L72.8 315.9 M64.2 299.8 L74.0 314.9 M65.4 298.7 L75.2 314.0 M66.6 297.7 L76.3 313.0 M67.8 296.6 L77.5 312.0 M69.0 295.6 L78.6 311.0 M70.2 294.5 L79.7 310.0 M71.4 293.5 L80.8 308.9 M72.6 292.5 L81.8 307.8 M73.8 291.5 L82.9 306.7 M75.0 290.5 L83.9 305.5 M76.2 289.5 L84.9 304.4 M77.4 288.5 L85.9 303.2 M78.6 287.6 L86.8 301.8 M79.8 286.6 L88.0 301.1 M81.0 285.6 L89.3 300.5 M82.3 284.7 L90.6 299.8 M83.5 283.7 L91.8 299.0 M84.7 282.8 L93.0 298.3 M85.9 281.9 L94.2 297.5 M87.1 281.0 L95.4 296.7 M88.3 280.0 L96.6 295.8 M89.5 279.1 L97.7 295.0 M90.7 278.2 L98.8 294.1 M91.9 277.3 L99.9 293.2 M93.1 276.5 L101.0 292.2 M94.3 275.6 L102.1 291.2 M95.5 274.7 L103.1 290.3 M96.7 273.9 L104.2 289.2 M97.9 273.0 L105.2 288.2 M99.1 272.2 L106.2 287.0 M100.3 271.3 L107.3 286.1 M101.6 270.5 L108.6 285.7 M102.8 269.7 L109.8 285.2 M104.0 268.8 L111.1 284.6 M105.2 268.0 L112.3 284.0 M106.4 267.2 L113.5 283.4 M107.6 266.4 L114.7 282.7 M108.8 265.6 L115.8 282.0 M110.0 264.9 L117.0 281.3 M111.2 264.1 L118.1 280.6 M112.4 263.3 L119.2 279.8 M113.6 262.6 L120.3 279.0 M114.8 261.8 L121.4 278.2 M116.0 261.1 L122.5 277.4 M117.2 260.3 L123.6 276.5 M118.4 259.6 L124.6 275.6 M119.6 258.9 L125.7 274.6 M120.9 258.1 L126.6 273.5 M122.1 257.4 L127.9 273.2 M123.3 256.7 L129.2 272.9 M124.5 256.0 L130.4 272.5 M125.7 255.3 L131.6 272.0 M126.9 254.7 L132.8 271.5 M128.1 254.0 L134.0 271.0 M129.3 253.3 L135.2 270.5 M130.5 252.6 L136.3 269.9 M131.7 252.0 L137.4 269.3 M132.9 251.3 L138.6 268.7 M134.1 250.7 L139.7 268.0 M135.3 250.1 L140.8 267.3 M136.5 249.4 L141.9 266.6 M137.7 248.8 L143.0 265.9 M138.9 248.2 L144.0 265.1 M140.2 247.6 L145.1 264.3 M141.4 247.0 L146.1 263.3 M142.6 246.4 L147.3 262.8 M143.8 245.8 L148.5 262.6 M145.0 245.2 L149.7 262.4 M146.2 244.6 L150.9 262.1 M147.4 244.1 L152.1 261.7 M148.6 243.5 L153.3 261.3 M149.8 242.9 L154.4 260.9 M151.0 242.4 L155.6 260.5 M152.2 241.9 L156.7 260.0 M153.4 241.3 L157.9 259.5 M154.6 240.8 L159.0 259.0 M155.8 240.3 L160.1 258.4 M157.0 239.7 L161.2 257.8 M158.3 239.2 L162.3 257.2 M159.5 238.7 L163.4 256.5 M160.7 238.2 L164.4 255.8 M161.9 237.8 L165.5 255.0 M163.1 237.3 L166.6 254.3 M164.3 236.8 L167.8 254.3 M165.5 236.3 L169.0 254.1 M166.7 235.9 L170.2 253.9 M167.9 235.4 L171.3 253.7 M169.1 234.9 L172.5 253.4 M170.3 234.5 L173.6 253.1 M171.5 234.1 L174.8 252.8 M172.7 233.6 L175.9 252.5 M173.9 233.2 L177.0 252.1 M175.1 232.8 L178.2 251.6 M176.3 232.4 L179.3 251.2 M177.6 232.0 L180.4 250.7 M178.8 231.6 L181.5 250.2 M180.0 231.2 L182.6 249.6 M181.2 230.8 L183.7 249.0 M182.4 230.4 L184.8 248.4 M183.6 230.0 L185.9 247.6 M184.8 229.7 L187.0 247.5 M186.0 229.3 L188.2 247.5 M187.2 229.0 L189.3 247.4 M188.4 228.6 L190.5 247.3 M189.6 228.3 L191.6 247.1 M190.8 227.9 L192.8 246.9 M192.0 227.6 L193.9 246.7 M193.2 227.3 L195.0 246.5 M194.4 227.0 L196.2 246.2 M195.6 226.7 L197.3 245.9 M196.9 226.4 L198.4 245.5 M198.1 226.1 L199.5 245.1 M199.3 225.8 L200.6 244.7 M200.5 225.5 L201.7 244.3 M201.7 225.2 L202.9 243.8 M202.9 225.0 L204.0 243.2 M204.1 224.7 L205.1 242.6 M205.3 224.4 L206.2 242.2 M206.5 224.2 L207.3 242.4 M207.7 223.9 L208.5 242.4 M208.9 223.7 L209.6 242.4 M210.1 223.5 L210.8 242.3 M211.3 223.2 L211.9 242.3 M212.5 223.0 L213.0 242.2 M213.7 222.8 L214.1 242.0 M215.0 222.6 L215.3 241.8 M216.2 222.4 L216.4 241.6 M217.4 222.2 L217.5 241.4 M218.6 222.0 L218.6 241.1 M219.8 221.8 L219.8 240.8 M221.0 221.7 L220.9 240.4 M222.2 221.5 L222.0 240.1 M223.4 221.3 L223.1 239.7 M224.6 221.2 L224.3 239.2 M225.8 221.0 L225.4 238.6 M227.0 220.9 L226.5 238.8 M228.2 220.7 L227.6 239.0 M229.4 220.6 L228.8 239.1 M230.6 220.5 L229.9 239.2 M231.8 220.4 L231.0 239.2 M233.0 220.3 L232.1 239.2 M234.3 220.2 L233.2 239.2 M235.5 220.1 L234.3 239.1 M236.7 220.0 L235.5 239.1 M237.9 219.9 L236.6 238.9 M239.1 219.8 L237.7 238.8 M240.3 219.8 L238.8 238.6 M241.5 219.7 L240.0 238.4 M242.7 219.7 L241.1 238.1 M243.9 219.6 L242.2 237.8 M245.1 219.6 L243.4 237.5 M246.3 219.6 L244.5 237.1 M247.5 219.5 L245.7 237.1 M248.7 219.5 L246.7 237.4 M249.9 219.5 L247.8 237.7 M251.1 219.5 L248.9 237.9 M252.3 219.5 L250.0 238.0 M253.6 219.5 L251.1 238.2 M254.8 219.6 L252.2 238.3 M256.0 219.6 L253.3 238.4 M257.2 219.6 L254.4 238.4 M258.4 219.7 L255.5 238.4 M259.6 219.8 L256.6 238.4 M260.8 219.8 L257.8 238.4 M262.0 219.9 L258.9 238.3 M263.2 220.0 L260.0 238.2 M264.4 220.1 L261.2 238.0 M265.6 220.2 L262.3 237.8 M266.8 220.3 L263.5 237.6 M268.0 220.4 L264.7 237.3 M269.2 220.5 L265.7 237.9 M270.4 220.7 L266.8 238.3 M271.6 220.8 L267.8 238.6 M272.9 221.0 L268.9 238.9 M274.1 221.2 L270.0 239.2 M275.3 221.3 L271.1 239.4 M276.5 221.5 L272.1 239.6 M277.7 221.7 L273.2 239.8 M278.9 221.9 L274.3 240.0 M280.1 222.1 L275.5 240.1 M281.3 222.4 L276.6 240.2 M282.5 222.6 L277.7 240.3 M283.7 222.9 L278.9 240.3 M284.9 223.1 L280.0 240.3 M286.1 223.4 L281.2 240.3 M287.3 223.7 L282.4 240.2 M288.5 224.0 L283.6 240.1 M289.7 224.3 L284.7 240.5 M291.0 224.6 L285.7 241.0 M292.2 224.9 L286.7 241.5 M293.4 225.3 L287.8 242.0 M294.6 225.6 L288.9 242.4 M295.8 226.0 L290.0 242.8 M297.0 226.3 L291.1 243.2 M298.2 226.7 L292.2 243.5 M299.4 227.1 L293.3 243.8 M300.6 227.5 L294.5 244.1 M301.8 227.9 L295.6 244.4 M303.0 228.4 L296.8 244.6 M304.2 228.8 L298.0 244.8 M305.4 229.2 L299.3 245.0 M306.6 229.7 L300.5 245.2 M307.8 230.1 L301.8 245.3 M309.0 230.6 L303.1 245.4 M310.3 231.1 L304.3 245.6 M311.5 231.5 L305.3 246.4 M312.7 232.0 L306.4 247.1 M313.9 232.5 L307.5 247.7 M315.1 233.0 L308.6 248.3 M316.3 233.5 L309.7 248.9 M317.5 234.0 L310.9 249.5 M318.7 234.5 L312.0 250.0 M319.9 235.0 L313.2 250.5 M321.1 235.6 L314.4 251.0 M322.3 236.1 L315.6 251.5 M323.5 236.6 L316.8 251.9 M324.7 237.1 L318.0 252.3 M325.9 237.7 L319.2 252.7 M327.1 238.2 L320.5 253.1 M328.3 238.7 L321.8 253.4 M329.6 239.3 L323.1 253.7 M330.8 239.8 L324.4 253.9 M332.0 240.4 L325.5 254.8 M333.2 240.9 L326.5 255.7 M334.4 241.4 L327.6 256.5 M335.6 242.0 L328.7 257.3 M336.8 242.5 L329.8 258.1 M338.0 243.1 L330.9 258.8 M339.2 243.6 L332.0 259.6 M340.4 244.2 L333.1 260.2 M341.6 244.7 L334.3 260.9 M342.8 245.3 L335.4 261.5 M344.0 245.9 L336.6 262.1 M345.2 246.4 L337.8 262.7 M346.4 247.0 L339.0 263.2 M347.7 247.5 L340.2 263.8 M348.9 248.1 L341.4 264.2 M350.1 248.7 L342.7 264.7 M351.3 249.2 L343.9 265.0 M352.5 249.8 L345.1 265.7 M353.7 250.4 L346.0 266.8 M354.9 250.9 L347.0 267.7 M356.1 251.5 L348.1 268.7 M357.3 252.1 L349.1 269.5 M358.5 252.7 L350.1 270.4 M359.7 253.3 L351.2 271.2 M360.9 253.9 L352.3 272.0 M362.1 254.4 L353.4 272.8 M363.3 255.0 L354.5 273.5 M364.5 255.6 L355.6 274.2 M365.7 256.2 L356.7 274.9 M367.0 256.8 L357.9 275.6 M368.2 257.4 L359.1 276.2 M369.4 258.0 L360.3 276.8 M370.6 258.7 L361.5 277.3 M371.8 259.3 L362.7 277.8 M373.0 259.9 L363.9 278.3 M374.2 260.5 L364.8 279.5 M375.4 261.1 L365.8 280.5 M376.6 261.8 L366.8 281.5 M377.8 262.4 L367.8 282.4 M379.0 263.0 L368.9 283.2 M380.2 263.7 L369.9 284.0 M381.4 264.3 L371.0 284.8 M382.6 264.9 L372.1 285.6 M383.8 265.6 L373.2 286.3 M385.0 266.3 L374.3 287.1 M386.3 266.9 L375.4 287.9 M387.5 267.6 L376.5 288.7 M388.7 268.2 L377.6 289.5 M389.9 268.9 L378.7 290.3 M391.1 269.6 L379.7 291.1 M392.3 270.3 L380.8 291.9 M393.5 271.0 L381.9 292.7 M394.7 271.7 L383.0 293.6 M395.9 272.3 L384.0 294.4 M397.1 273.0 L385.1 295.2 M398.3 273.8 L386.2 296.0 M399.5 274.5 L387.3 296.9 M400.7 275.2 L388.4 297.7 M401.9 275.9 L389.4 298.5 M403.1 276.6 L390.5 299.3 M404.3 277.4 L391.6 300.2 M405.6 278.1 L392.7 301.0 M406.8 278.9 L393.8 301.8 M408.0 279.6 L394.8 302.6 M409.2 280.4 L395.9 303.5 M410.4 281.1 L397.0 304.3 M411.6 281.9 L398.1 305.1 M412.8 282.7 L399.2 305.9 M414.0 283.5 L400.3 306.8" stroke="#dc8424" stroke-opacity="0.32" stroke-width="0.45" fill="none"/>
<path d="M18.1 351.8 L21.7 347.5 L25.3 343.4 L28.8 339.4 L32.4 335.4 L36.0 331.5 L39.6 327.7 L43.2 324.0 L46.7 320.4 L50.3 316.8 L53.9 313.4 L57.4 309.9 L61.0 306.5 L64.6 303.4 L68.2 300.3 L71.8 297.2 L75.3 294.1 L78.9 291.0 L82.5 288.2 L86.1 285.4 L89.7 282.7 L93.3 280.0 L96.8 277.4 L100.3 274.7 L104.0 272.3 L107.6 270.0 L111.2 267.7 L114.8 265.4 L118.3 263.1 L121.8 260.7 L125.5 258.8 L129.1 256.9 L132.7 254.9 L136.3 253.0 L139.8 251.1 L143.4 249.2 L147.0 247.6 L150.6 246.0 L154.2 244.4 L157.7 242.8 L161.3 241.2 L164.9 239.8 L168.5 238.5 L172.1 237.3 L175.7 236.0 L179.2 234.7 L182.8 233.5 L186.4 232.4 L190.0 231.5 L193.5 230.6 L197.1 229.6 L200.7 228.7 L204.3 227.7 L207.8 227.1 L211.4 226.5 L215.0 225.9 L218.6 225.3 L222.2 224.6 L225.7 224.0 L229.3 223.8 L232.9 223.5 L236.5 223.2 L240.0 223.0 L243.6 222.7 L247.2 222.5 L250.8 222.6 L254.3 222.7 L257.9 222.9 L261.5 223.0 L265.1 223.2 L268.6 223.5 L272.2 224.0 L275.7 224.6 L279.3 225.2 L282.9 225.8 L286.5 226.5 L290.1 227.4 L293.6 228.5 L297.2 229.6 L300.8 230.7 L304.4 231.9 L308.0 233.1 L311.6 234.6 L315.2 236.1 L318.8 237.7 L322.4 239.2 L326.0 240.7 L329.7 242.2 L333.2 244.0 L336.8 245.8 L340.4 247.5 L344.0 249.2 L347.6 250.8 L351.2 252.5 L354.7 254.4 L358.3 256.3 L361.8 258.2 L365.4 260.0 L369.0 261.8 L372.6 263.7 L376.1 265.8 L379.7 267.8 L383.2 269.8 L386.8 271.9 L390.3 274.0 L393.9 276.1 L397.4 278.3 L401.0 280.5 L404.6 282.8 L408.1 285.1 L411.7 287.4" stroke="#f0a040" stroke-opacity="0.22" stroke-width="0.4" fill="none"/>
<path d="M20.2 353.9 L23.7 349.7 L27.3 345.6 L30.8 341.6 L34.4 337.7 L37.9 333.8 L41.4 330.0 L45.0 326.3 L48.5 322.7 L52.1 319.2 L55.6 315.7 L59.0 312.2 L62.5 308.8 L66.2 305.8 L69.8 302.7 L73.3 299.6 L76.8 296.5 L80.2 293.4 L83.8 290.5 L87.4 287.9 L91.0 285.2 L94.5 282.6 L98.0 279.8 L101.5 277.1 L105.1 274.8 L108.7 272.6 L112.3 270.3 L115.8 268.0 L119.3 265.6 L122.8 263.2 L126.4 261.4 L130.0 259.6 L133.6 257.7 L137.1 255.8 L140.6 253.8 L144.1 251.8 L147.8 250.4 L151.3 248.9 L154.9 247.3 L158.4 245.7 L161.9 244.0 L165.4 242.6 L169.0 241.4 L172.6 240.3 L176.1 239.0 L179.7 237.7 L183.2 236.3 L186.7 235.3 L190.3 234.5 L193.8 233.6 L197.4 232.7 L200.9 231.7 L204.4 230.6 L208.0 230.0 L211.5 229.5 L215.1 228.9 L218.6 228.3 L222.1 227.6 L225.7 226.8 L229.2 226.7 L232.7 226.5 L236.3 226.3 L239.8 226.0 L243.3 225.6 L246.9 225.3 L250.4 225.6 L253.9 225.7 L257.4 225.9 L261.0 226.0 L264.5 226.0 L268.1 226.3 L271.5 226.9 L275.0 227.5 L278.6 228.1 L282.1 228.6 L285.7 229.1 L289.2 230.0 L292.7 231.2 L296.2 232.3 L299.8 233.4 L303.4 234.4 L307.1 235.5 L310.6 237.0 L314.1 238.6 L317.7 240.1 L321.3 241.7 L325.0 243.1 L328.7 244.5 L332.1 246.4 L335.6 248.3 L339.2 250.1 L342.8 251.8 L346.4 253.4 L350.0 255.1 L353.4 257.2 L356.9 259.2 L360.4 261.1 L364.0 263.0 L367.6 264.8 L371.1 266.8 L374.5 269.0 L378.0 271.1 L381.5 273.1 L385.0 275.3 L388.5 277.4 L392.0 279.6 L395.5 281.9 L399.0 284.1 L402.5 286.4 L406.0 288.8 L409.5 291.2" stroke="#f0a040" stroke-opacity="0.22" stroke-width="0.4" fill="none"/>
<path d="M22.4 356.2 L25.9 352.1 L29.4 348.0 L32.9 344.0 L36.4 340.1 L39.9 336.2 L43.4 332.5 L46.9 328.8 L50.4 325.2 L53.9 321.7 L57.4 318.3 L60.8 314.7 L64.2 311.3 L67.9 308.4 L71.4 305.3 L74.9 302.3 L78.3 299.1 L81.6 295.8 L85.2 293.0 L88.8 290.5 L92.4 287.9 L95.9 285.2 L99.3 282.5 L102.7 279.6 L106.3 277.4 L109.9 275.3 L113.5 273.1 L117.0 270.8 L120.4 268.4 L123.7 265.8 L127.4 264.2 L131.0 262.5 L134.6 260.6 L138.1 258.7 L141.5 256.6 L144.9 254.6 L148.6 253.3 L152.1 251.9 L155.6 250.4 L159.1 248.8 L162.6 247.0 L166.0 245.5 L169.6 244.5 L173.2 243.4 L176.7 242.2 L180.1 240.9 L183.6 239.4 L187.1 238.4 L190.6 237.7 L194.1 236.9 L197.6 235.9 L201.1 234.9 L204.6 233.7 L208.1 233.2 L211.6 232.8 L215.1 232.2 L218.6 231.6 L222.1 230.8 L225.6 229.8 L229.1 229.9 L232.6 229.7 L236.1 229.5 L239.6 229.2 L243.1 228.7 L246.6 228.3 L250.0 228.7 L253.5 228.9 L256.9 229.1 L260.4 229.1 L264.0 229.0 L267.5 229.2 L270.9 230.0 L274.3 230.6 L277.8 231.1 L281.3 231.6 L284.9 232.0 L288.3 232.8 L291.7 234.0 L295.2 235.1 L298.7 236.2 L302.3 237.1 L306.1 238.0 L309.5 239.5 L313.0 241.2 L316.5 242.8 L320.1 244.3 L323.8 245.7 L327.6 246.9 L331.0 249.0 L334.4 251.0 L337.9 252.8 L341.5 254.6 L345.1 256.2 L348.8 257.8 L352.1 260.1 L355.5 262.2 L358.9 264.3 L362.4 266.2 L366.0 268.0 L369.5 270.0 L372.8 272.4 L376.2 274.5 L379.7 276.7 L383.1 278.9 L386.5 281.1 L390.0 283.4 L393.4 285.7 L396.8 288.0 L400.3 290.3 L403.7 292.7 L407.2 295.1" stroke="#f0a040" stroke-opacity="0.22" stroke-width="0.4" fill="none"/>
<path d="M24.6 358.5 L28.0 354.4 L31.5 350.3 L35.0 346.4 L38.5 342.5 L41.9 338.7 L45.4 334.9 L48.8 331.2 L52.3 327.7 L55.8 324.2 L59.2 320.8 L62.5 317.2 L65.8 313.7 L69.5 310.9 L73.1 308.0 L76.5 304.9 L79.9 301.7 L83.1 298.3 L86.6 295.6 L90.3 293.2 L93.8 290.6 L97.3 287.9 L100.6 285.1 L103.9 282.1 L107.5 280.0 L111.1 278.0 L114.7 275.9 L118.1 273.6 L121.5 271.1 L124.7 268.4 L128.4 267.0 L132.0 265.4 L135.6 263.6 L139.0 261.6 L142.4 259.5 L145.7 257.4 L149.4 256.3 L152.9 255.0 L156.4 253.5 L159.8 251.8 L163.2 250.0 L166.6 248.5 L170.2 247.7 L173.7 246.6 L177.2 245.4 L180.6 244.0 L184.0 242.4 L187.5 241.5 L191.0 240.9 L194.4 240.1 L197.9 239.2 L201.3 238.1 L204.7 236.7 L208.2 236.3 L211.7 236.0 L215.2 235.5 L218.6 234.8 L222.1 233.9 L225.5 232.8 L229.0 233.0 L232.4 233.0 L235.9 232.8 L239.3 232.4 L242.8 231.8 L246.3 231.3 L249.6 231.8 L253.0 232.1 L256.5 232.2 L259.9 232.2 L263.4 232.0 L266.9 232.1 L270.2 233.0 L273.6 233.7 L277.0 234.2 L280.5 234.6 L284.0 234.8 L287.4 235.6 L290.8 236.9 L294.2 238.0 L297.7 239.0 L301.3 239.8 L305.0 240.5 L308.5 242.1 L311.9 243.8 L315.4 245.4 L319.0 246.9 L322.7 248.2 L326.5 249.3 L329.8 251.6 L333.2 253.6 L336.7 255.6 L340.2 257.3 L343.9 258.9 L347.5 260.5 L350.7 263.0 L354.0 265.3 L357.4 267.4 L360.9 269.4 L364.5 271.1 L367.9 273.2 L371.1 275.8 L374.5 278.0 L377.9 280.2 L381.2 282.5 L384.6 284.8 L388.0 287.1 L391.3 289.5 L394.7 291.8 L398.1 294.2 L401.4 296.6 L404.8 299.1" stroke="#f0a040" stroke-opacity="0.22" stroke-width="0.4" fill="none"/>
<path d="M26.6 360.7 L30.1 356.6 L33.5 352.6 L37.0 348.6 L40.4 344.7 L43.8 340.9 L47.2 337.2 L50.6 333.6 L54.0 330.0 L57.5 326.6 L60.9 323.2 L64.1 319.5 L67.4 316.0 L71.1 313.3 L74.7 310.4 L78.1 307.3 L81.3 304.1 L84.4 300.7 L87.9 297.9 L91.6 295.6 L95.1 293.1 L98.6 290.5 L101.8 287.6 L105.0 284.5 L108.6 282.5 L112.3 280.6 L115.8 278.5 L119.2 276.2 L122.5 273.7 L125.6 270.9 L129.4 269.7 L133.0 268.1 L136.5 266.4 L139.9 264.4 L143.2 262.2 L146.5 260.0 L150.1 259.1 L153.7 257.9 L157.1 256.4 L160.5 254.7 L163.8 252.8 L167.2 251.3 L170.8 250.6 L174.2 249.6 L177.6 248.4 L181.0 247.0 L184.4 245.3 L187.8 244.4 L191.3 243.9 L194.7 243.2 L198.1 242.3 L201.5 241.1 L204.9 239.6 L208.4 239.3 L211.8 239.0 L215.2 238.6 L218.6 237.9 L222.0 236.9 L225.5 235.6 L228.9 236.0 L232.3 236.0 L235.7 235.8 L239.1 235.4 L242.5 234.7 L246.0 234.1 L249.3 234.7 L252.6 235.1 L256.0 235.2 L259.4 235.1 L262.9 234.8 L266.3 234.9 L269.6 235.9 L272.9 236.6 L276.2 237.1 L279.7 237.3 L283.2 237.4 L286.6 238.2 L289.8 239.5 L293.2 240.7 L296.7 241.6 L300.3 242.3 L304.1 242.9 L307.5 244.5 L310.8 246.3 L314.3 247.9 L317.9 249.3 L321.6 250.6 L325.5 251.5 L328.7 254.0 L332.1 256.2 L335.5 258.2 L339.0 259.9 L342.7 261.5 L346.3 263.0 L349.4 265.7 L352.7 268.2 L356.0 270.4 L359.4 272.4 L363.0 274.1 L366.4 276.3 L369.5 279.0 L372.8 281.3 L376.1 283.5 L379.5 285.9 L382.8 288.2 L386.1 290.6 L389.4 293.0 L392.7 295.5 L396.0 297.9 L399.3 300.3 L402.6 302.8" stroke="#f0a040" stroke-opacity="0.22" stroke-width="0.4" fill="none"/>
<path d="M15.9 349.5 L18.3 346.6 L20.7 343.8 L23.1 341.0 L25.6 338.3 L28.0 335.6 L30.4 333.0 L32.8 330.4 L35.2 327.8 L37.6 325.3 L40.0 322.8 L42.4 320.3 L44.9 317.9 L47.3 315.5 L49.7 313.2 L52.1 310.8 L54.5 308.6 L56.9 306.3 L59.3 304.1 L61.7 301.9 L64.2 299.8 L66.6 297.7 L69.0 295.6 L71.4 293.5 L73.8 291.5 L76.2 289.5 L78.6 287.6 L81.0 285.6 L83.5 283.7 L85.9 281.9 L88.3 280.0 L90.7 278.2 L93.1 276.5 L95.5 274.7 L97.9 273.0 L100.3 271.3 L102.8 269.7 L105.2 268.0 L107.6 266.4 L110.0 264.9 L112.4 263.3 L114.8 261.8 L117.2 260.3 L119.6 258.9 L122.1 257.4 L124.5 256.0 L126.9 254.7 L129.3 253.3 L131.7 252.0 L134.1 250.7 L136.5 249.4 L138.9 248.2 L141.4 247.0 L143.8 245.8 L146.2 244.6 L148.6 243.5 L151.0 242.4 L153.4 241.3 L155.8 240.3 L158.3 239.2 L160.7 238.2 L163.1 237.3 L165.5 236.3 L167.9 235.4 L170.3 234.5 L172.7 233.6 L175.1 232.8 L177.6 232.0 L180.0 231.2 L182.4 230.4 L184.8 229.7 L187.2 229.0 L189.6 228.3 L192.0 227.6 L194.4 227.0 L196.9 226.4 L199.3 225.8 L201.7 225.2 L204.1 224.7 L206.5 224.2 L208.9 223.7 L211.3 223.2 L213.7 222.8 L216.2 222.4 L218.6 222.0 L221.0 221.7 L223.4 221.3 L225.8 221.0 L228.2 220.7 L230.6 220.5 L233.0 220.3 L235.5 220.1 L237.9 219.9 L240.3 219.8 L242.7 219.7 L245.1 219.6 L247.5 219.5 L249.9 219.5 L252.3 219.5 L254.8 219.6 L257.2 219.6 L259.6 219.8 L262.0 219.9 L264.4 220.1 L266.8 220.3 L269.2 220.5 L271.6 220.8 L274.1 221.2 L276.5 221.5 L278.9 221.9 L281.3 222.4 L283.7 222.9 L286.1 223.4 L288.5 224.0 L291.0 224.6 L293.4 225.3 L295.8 226.0 L298.2 226.7 L300.6 227.5 L303.0 228.4 L305.4 229.2 L307.8 230.1 L310.3 231.1 L312.7 232.0 L315.1 233.0 L317.5 234.0 L319.9 235.0 L322.3 236.1 L324.7 237.1 L327.1 238.2 L329.6 239.3 L332.0 240.4 L334.4 241.4 L336.8 242.5 L339.2 243.6 L341.6 244.7 L344.0 245.9 L346.4 247.0 L348.9 248.1 L351.3 249.2 L353.7 250.4 L356.1 251.5 L358.5 252.7 L360.9 253.9 L363.3 255.0 L365.7 256.2 L368.2 257.4 L370.6 258.7 L373.0 259.9 L375.4 261.1 L377.8 262.4 L380.2 263.7 L382.6 264.9 L385.0 266.3 L387.5 267.6 L389.9 268.9 L392.3 270.3 L394.7 271.7 L397.1 273.0 L399.5 274.5 L401.9 275.9 L404.3 277.4 L406.8 278.9 L409.2 280.4 L411.6 281.9 L414.0 283.5" stroke="#6258b0" stroke-width="0.85" fill="none"/>
<path d="M15.9 349.5 L16.8 348.4 L17.7 347.4 L18.6 346.3 L19.5 345.3 L20.4 344.2 L21.3 343.2 L22.2 342.2 L23.1 341.1 L24.0 340.1 L24.8 339.1 L25.7 338.1 L26.6 337.1 L27.5 336.1 L28.4 335.1 L29.3 334.1 L30.2 333.2 L31.1 332.2 L32.0 331.2 L44.0 345.4 L43.1 346.4 L42.3 347.3 L41.5 348.3 L40.6 349.2 L39.8 350.2 L38.9 351.1 L38.1 352.1 L37.3 353.1 L36.4 354.0 L35.6 355.0 L34.7 356.0 L33.9 357.0 L33.1 358.0 L32.2 358.9 L31.4 359.9 L30.5 360.9 L29.7 361.9 L28.8 363.0Z" fill="#e4a084"/>
<path d="M15.9 349.5 L28.8 363.0 M17.7 347.4 L30.5 360.9 M19.5 345.3 L32.2 358.9 M21.3 343.2 L33.9 357.0 M23.1 341.1 L35.6 355.0 M24.8 339.1 L37.3 353.1 M26.6 337.1 L38.9 351.1 M28.4 335.1 L40.6 349.2 M30.2 333.2 L42.3 347.3 M32.0 331.2 L44.0 345.4 M16.7 350.3 L19.3 347.1 L22.0 344.0 L24.7 341.0 L27.4 337.9 L30.0 335.0 L32.7 332.1 M17.9 351.6 L20.6 348.5 L23.3 345.4 L25.9 342.3 L28.6 339.3 L31.2 336.4 L33.9 333.5 M19.2 352.9 L21.8 349.8 L24.5 346.7 L27.1 343.7 L29.8 340.7 L32.4 337.7 L35.1 334.9 M20.5 354.2 L23.1 351.1 L25.7 348.1 L28.4 345.0 L31.0 342.1 L33.6 339.1 L36.2 336.2 M21.7 355.6 L24.3 352.5 L27.0 349.4 L29.6 346.4 L32.2 343.4 L34.8 340.5 L37.4 337.6 M23.0 356.9 L25.6 353.8 L28.2 350.8 L30.8 347.8 L33.4 344.8 L36.0 341.9 L38.6 339.0 M24.3 358.2 L26.8 355.1 L29.4 352.1 L32.0 349.1 L34.6 346.2 L37.2 343.3 L39.7 340.4 M25.5 359.5 L28.1 356.5 L30.7 353.4 L33.2 350.5 L35.8 347.5 L38.3 344.7 L40.9 341.8 M26.8 360.8 L29.3 357.8 L31.9 354.8 L34.5 351.8 L37.0 348.9 L39.5 346.0 L42.1 343.2 M28.0 362.2 L30.6 359.1 L33.1 356.1 L35.7 353.2 L38.2 350.3 L40.7 347.4 L43.2 344.6" stroke="#d83c28" stroke-opacity="0.68" stroke-width="0.5" fill="none"/>
<path d="M15.9 349.5 L16.8 348.4 L17.7 347.4 L18.6 346.3 L19.5 345.3 L20.4 344.2 L21.3 343.2 L22.2 342.2 L23.1 341.1 L24.0 340.1 L24.8 339.1 L25.7 338.1 L26.6 337.1 L27.5 336.1 L28.4 335.1 L29.3 334.1 L30.2 333.2 L31.1 332.2 L32.0 331.2" stroke="#7a5ab0" stroke-width="0.8" fill="none"/>
<path d="M32.0 331.2 L44.0 345.4 M33.7 329.4 L45.6 343.6 M35.5 327.5 L47.2 341.9 M37.2 325.7 L48.8 340.1 M38.9 323.9 L50.4 338.3 M40.7 322.1 L52.0 336.6 M42.4 320.4 L53.6 334.9 M44.1 318.6 L55.2 333.2 M32.7 332.1 L35.3 329.3 L37.9 326.6 L40.5 323.9 L43.1 321.2 L45.7 318.6 M33.9 333.5 L36.5 330.7 L39.0 328.0 L41.6 325.3 L44.2 322.6 L46.7 320.0 M35.1 334.9 L37.6 332.1 L40.2 329.4 L42.7 326.7 L45.3 324.1 L47.8 321.5 M36.2 336.2 L38.8 333.5 L41.3 330.8 L43.8 328.1 L46.4 325.5 L48.9 322.9 M37.4 337.6 L39.9 334.9 L42.4 332.2 L44.9 329.5 L47.5 326.9 L50.0 324.3 M38.6 339.0 L41.1 336.3 L43.6 333.6 L46.1 330.9 L48.6 328.3 L51.1 325.8 M39.7 340.4 L42.2 337.7 L44.7 335.0 L47.2 332.3 L49.7 329.7 L52.1 327.2 M40.9 341.8 L43.4 339.1 L45.8 336.4 L48.3 333.8 L50.8 331.2 L53.2 328.6 M42.1 343.2 L44.5 340.5 L47.0 337.8 L49.4 335.2 L51.9 332.6 L54.3 330.0 M43.2 344.6 L45.7 341.9 L48.1 339.2 L50.5 336.6 L52.9 334.0 L55.4 331.5" stroke="#ee7a28" stroke-opacity="0.50" stroke-width="0.5" fill="none"/>
<path d="M32.0 331.2 L32.9 330.3 L33.7 329.4 L34.6 328.4 L35.5 327.5 L36.3 326.6 L37.2 325.7 L38.1 324.8 L38.9 323.9 L39.8 323.0 L40.7 322.1 L41.5 321.2 L42.4 320.4 L43.3 319.5 L44.1 318.6 L45.0 317.7" stroke="#7a5ab0" stroke-width="0.8" fill="none"/>
<path d="M394.0 271.3 L394.9 271.8 L395.7 272.3 L396.6 272.8 L397.5 273.3 L398.3 273.8 L399.2 274.3 L400.1 274.8 L401.0 275.3 L401.8 275.8 L402.7 276.4 L403.6 276.9 L404.4 277.4 L405.3 278.0 L406.2 278.5 L407.0 279.0 L407.9 279.6 L408.8 280.1 L409.7 280.7 L410.5 281.2 L411.4 281.8 L412.3 282.3 L413.1 282.9 L414.0 283.5 L400.3 306.8 L399.5 306.2 L398.7 305.6 L397.9 305.0 L397.2 304.4 L396.4 303.8 L395.6 303.2 L394.8 302.6 L394.0 302.0 L393.2 301.4 L392.5 300.8 L391.7 300.2 L390.9 299.6 L390.1 299.0 L389.3 298.4 L388.6 297.8 L387.8 297.2 L387.0 296.6 L386.2 296.1 L385.4 295.5 L384.7 294.9 L383.9 294.3 L383.1 293.7 L382.3 293.1Z" fill="#e4a084"/>
<path d="M394.0 271.3 L382.3 293.1 M395.7 272.3 L383.9 294.3 M397.5 273.3 L385.4 295.5 M399.2 274.3 L387.0 296.6 M401.0 275.3 L388.6 297.8 M402.7 276.4 L390.1 299.0 M404.4 277.4 L391.7 300.2 M406.2 278.5 L393.2 301.4 M407.9 279.6 L394.8 302.6 M409.7 280.7 L396.4 303.8 M411.4 281.8 L397.9 305.0 M413.1 282.9 L399.5 306.2 M393.3 272.6 L395.9 274.1 L398.5 275.6 L401.1 277.2 L403.7 278.8 L406.3 280.4 L408.9 282.1 L411.4 283.7 M392.2 274.7 L394.7 276.2 L397.3 277.8 L399.9 279.4 L402.4 281.0 L405.0 282.7 L407.6 284.3 L410.1 286.0 M391.0 276.8 L393.6 278.4 L396.1 280.0 L398.6 281.6 L401.2 283.2 L403.7 284.9 L406.3 286.6 L408.8 288.3 M389.9 279.0 L392.4 280.6 L394.9 282.2 L397.4 283.8 L399.9 285.5 L402.4 287.1 L405.0 288.8 L407.5 290.5 M388.7 281.1 L391.2 282.7 L393.7 284.4 L396.2 286.0 L398.7 287.7 L401.2 289.4 L403.7 291.1 L406.2 292.8 M387.6 283.2 L390.1 284.9 L392.5 286.6 L395.0 288.2 L397.4 289.9 L399.9 291.6 L402.4 293.4 L404.8 295.1 M386.5 285.4 L388.9 287.1 L391.3 288.7 L393.7 290.4 L396.2 292.2 L398.6 293.9 L401.1 295.6 L403.5 297.4 M385.3 287.5 L387.7 289.2 L390.1 290.9 L392.5 292.7 L394.9 294.4 L397.3 296.1 L399.8 297.9 L402.2 299.6 M384.2 289.6 L386.6 291.4 L388.9 293.1 L391.3 294.9 L393.7 296.6 L396.1 298.4 L398.5 300.1 L400.9 301.9 M383.0 291.8 L385.4 293.5 L387.7 295.3 L390.1 297.1 L392.4 298.8 L394.8 300.6 L397.2 302.4 L399.5 304.2" stroke="#d83c28" stroke-opacity="0.68" stroke-width="0.5" fill="none"/>
<path d="M394.0 271.3 L394.9 271.8 L395.7 272.3 L396.6 272.8 L397.5 273.3 L398.3 273.8 L399.2 274.3 L400.1 274.8 L401.0 275.3 L401.8 275.8 L402.7 276.4 L403.6 276.9 L404.4 277.4 L405.3 278.0 L406.2 278.5 L407.0 279.0 L407.9 279.6 L408.8 280.1 L409.7 280.7 L410.5 281.2 L411.4 281.8 L412.3 282.3 L413.1 282.9 L414.0 283.5" stroke="#7a5ab0" stroke-width="0.8" fill="none"/>
<path d="M7.2 358.7 L15.9 350.7 L23.9 360.3 L15.9 368.7Z" fill="#f6f45a"/>
<path d="M7.2 358.7 L15.9 350.7" stroke="#7a6ab0" stroke-width="0.8"/>
<path d="M412.5 291 L421.5 297.5 L410.4 309.8 L402.8 304.2Z" fill="#f6f45a"/>
<path d="M72.9 295.2 L74.9 296.3 L76.8 297.5 L78.8 298.6 L80.8 299.8 L82.8 300.9 L84.8 302.0 L86.8 303.1 L88.8 304.1 L90.8 305.1 L92.9 306.1 L94.9 307.1 L97.0 308.1 L99.0 309.0 L101.1 309.9 L103.2 310.8 L105.3 311.6 L107.4 312.4 L109.6 313.3 L111.7 314.0 L113.9 314.8 L116.0 315.6 L118.1 316.3 L120.3 317.1" stroke="#1c28b8" stroke-width="2.4" fill="none" stroke-linecap="round"/>
<path d="M79.7 299.1 L82.0 299.1 L84.0 299.5 L85.8 300.4 L87.6 301.4 L89.4 302.3 L91.3 303.2 L93.1 304.1 L94.9 305.0 L96.8 305.9 L98.6 306.7 L100.5 307.6 L102.3 308.4 L104.2 309.1 L106.1 309.9 L108.0 310.6 L109.9 311.4 L111.8 312.2 L113.4 313.4 L114.9 315.2 L114.9 315.2 L112.5 315.5 L110.3 315.4 L108.3 314.8 L106.4 314.1 L104.5 313.3 L102.6 312.6 L100.7 311.8 L98.9 311.0 L97.0 310.2 L95.2 309.3 L93.3 308.5 L91.5 307.6 L89.7 306.7 L87.9 305.8 L86.0 304.8 L84.3 303.8 L82.5 302.7 L81.0 301.2 L79.7 299.1Z" fill="#2a50d8"/>
<path d="M80.6 299.7 L82.7 299.8 L84.6 300.2 L86.3 301.1 L88.0 302.0 L89.7 302.9 L91.5 303.7 L93.2 304.6 L94.9 305.4 L96.7 306.2 L98.4 307.0 L100.2 307.8 L101.9 308.6 L103.7 309.3 L105.5 310.0 L107.3 310.7 L109.1 311.4 L110.8 312.2 L112.5 313.3 L113.9 314.8 L113.9 314.8 L111.7 315.0 L109.6 314.8 L107.8 314.2 L106.0 313.5 L104.2 312.8 L102.4 312.1 L100.6 311.4 L98.9 310.6 L97.1 309.8 L95.4 309.0 L93.6 308.2 L91.9 307.4 L90.2 306.5 L88.4 305.7 L86.7 304.8 L85.0 303.9 L83.4 302.8 L81.9 301.5 L80.6 299.7Z" fill="#22e6f0"/>
<path d="M141.0 249.0 L143.0 250.1 L145.0 251.2 L146.9 252.3 L148.9 253.4 L150.9 254.5 L152.9 255.5 L154.9 256.6 L156.9 257.6 L159.0 258.6 L161.0 259.6 L163.1 260.5 L165.1 261.4 L167.2 262.3 L169.3 263.2 L171.4 264.0 L173.5 264.8 L175.6 265.6 L177.8 266.4 L179.9 267.1 L182.0 267.8 L184.2 268.6 L186.3 269.3 L188.5 270.0" stroke="#1c28b8" stroke-width="2.6" fill="none" stroke-linecap="round"/>
<path d="M147.8 252.8 L150.1 252.6 L152.2 253.0 L154.0 253.8 L155.8 254.7 L157.7 255.6 L159.5 256.5 L161.3 257.4 L163.1 258.2 L165.0 259.1 L166.8 259.9 L168.7 260.6 L170.6 261.4 L172.5 262.2 L174.3 262.9 L176.2 263.6 L178.2 264.3 L180.0 265.1 L181.7 266.4 L183.1 268.2 L183.1 268.2 L180.6 268.7 L178.4 268.6 L176.5 268.1 L174.5 267.4 L172.6 266.7 L170.8 266.0 L168.9 265.3 L167.0 264.5 L165.1 263.7 L163.3 262.9 L161.4 262.1 L159.6 261.2 L157.8 260.3 L156.0 259.5 L154.1 258.5 L152.3 257.6 L150.6 256.5 L149.1 255.0 L147.8 252.8Z" fill="#2a50d8"/>
<path d="M148.7 253.3 L150.9 253.3 L152.8 253.7 L154.5 254.4 L156.2 255.3 L158.0 256.2 L159.7 257.0 L161.4 257.8 L163.1 258.6 L164.9 259.4 L166.6 260.2 L168.4 260.9 L170.2 261.6 L172.0 262.3 L173.7 263.0 L175.5 263.7 L177.3 264.4 L179.1 265.1 L180.7 266.3 L182.1 267.9 L182.1 267.9 L179.8 268.2 L177.8 268.1 L175.9 267.6 L174.1 266.9 L172.3 266.2 L170.5 265.5 L168.8 264.8 L167.0 264.1 L165.2 263.4 L163.5 262.6 L161.7 261.8 L160.0 261.0 L158.3 260.2 L156.5 259.4 L154.8 258.5 L153.1 257.6 L151.5 256.6 L150.0 255.2 L148.7 253.3Z" fill="#22e6f0"/>
<path d="M157.5 257.9 L158.6 257.2 L159.5 257.1 L160.3 257.3 L161.0 257.6 L161.7 257.9 L162.4 258.3 L163.1 258.6 L163.8 258.9 L164.5 259.2 L165.2 259.5 L165.9 259.8 L166.6 260.1 L167.3 260.4 L168.0 260.7 L168.7 261.0 L169.4 261.3 L170.0 261.7 L170.5 262.5 L170.8 263.8 L170.8 263.8 L169.7 264.5 L168.7 264.7 L168.0 264.5 L167.3 264.2 L166.6 263.9 L165.9 263.6 L165.1 263.3 L164.4 263.0 L163.7 262.7 L163.0 262.4 L162.3 262.1 L161.6 261.8 L161.0 261.5 L160.3 261.1 L159.6 260.8 L158.9 260.5 L158.2 260.0 L157.8 259.2 L157.5 257.9Z" fill="#30e890"/>
<path d="M215.6 222.7 L217.5 223.8 L219.4 225.0 L221.3 226.1 L223.2 227.3 L225.1 228.4 L227.0 229.5 L229.0 230.5 L230.9 231.6 L232.9 232.6 L234.8 233.6 L236.8 234.6 L238.8 235.6 L240.8 236.5 L242.8 237.4 L244.9 238.3 L246.9 239.1 L248.9 239.9 L251.0 240.8 L253.1 241.5 L255.2 242.3 L257.2 243.1 L259.3 243.8 L261.4 244.6" stroke="#1c28b8" stroke-width="2.4" fill="none" stroke-linecap="round"/>
<path d="M222.2 226.6 L224.4 226.6 L226.3 227.1 L228.1 227.9 L229.9 228.9 L231.6 229.8 L233.3 230.7 L235.1 231.6 L236.9 232.5 L238.7 233.4 L240.4 234.2 L242.2 235.1 L244.1 235.9 L245.9 236.6 L247.7 237.4 L249.5 238.1 L251.4 238.9 L253.2 239.7 L254.8 240.9 L256.1 242.7 L256.1 242.7 L253.8 243.0 L251.7 242.9 L249.7 242.3 L247.9 241.6 L246.1 240.8 L244.2 240.1 L242.4 239.3 L240.6 238.5 L238.8 237.7 L237.0 236.8 L235.2 236.0 L233.5 235.1 L231.7 234.2 L230.0 233.2 L228.2 232.3 L226.5 231.3 L224.8 230.2 L223.4 228.7 L222.2 226.6Z" fill="#2a50d8"/>
<path d="M223.0 227.2 L225.1 227.3 L226.9 227.7 L228.6 228.6 L230.2 229.5 L231.9 230.4 L233.5 231.2 L235.2 232.1 L236.9 232.9 L238.6 233.7 L240.2 234.5 L241.9 235.3 L243.7 236.1 L245.4 236.8 L247.1 237.5 L248.8 238.2 L250.6 238.9 L252.3 239.7 L253.8 240.8 L255.2 242.3 L255.2 242.3 L253.0 242.5 L251.0 242.3 L249.2 241.7 L247.5 241.0 L245.8 240.3 L244.0 239.6 L242.3 238.9 L240.6 238.1 L238.9 237.3 L237.2 236.5 L235.5 235.7 L233.9 234.9 L232.2 234.0 L230.5 233.2 L228.9 232.3 L227.2 231.4 L225.7 230.3 L224.2 229.0 L223.0 227.2Z" fill="#22e6f0"/>
<path d="M236.4 234.4 L237.1 233.7 L237.6 233.4 L237.9 233.4 L238.2 233.5 L238.4 233.7 L238.7 233.8 L239.0 233.9 L239.2 234.1 L239.5 234.2 L239.8 234.3 L240.0 234.4 L240.3 234.5 L240.6 234.7 L240.8 234.8 L241.1 234.9 L241.4 235.0 L241.6 235.3 L241.6 235.8 L241.5 236.8 L241.5 236.8 L240.8 237.5 L240.3 237.9 L240.0 237.8 L239.8 237.7 L239.5 237.6 L239.2 237.5 L239.0 237.3 L238.7 237.2 L238.4 237.1 L238.2 237.0 L237.9 236.8 L237.6 236.7 L237.4 236.6 L237.1 236.5 L236.8 236.3 L236.6 236.2 L236.3 236.0 L236.3 235.4 L236.4 234.4Z" fill="#30e890"/>
<path d="M290.0 225.0 L291.8 226.1 L293.6 227.2 L295.5 228.3 L297.3 229.3 L299.1 230.4 L301.0 231.4 L302.8 232.4 L304.7 233.4 L306.6 234.4 L308.5 235.3 L310.4 236.3 L312.3 237.1 L314.2 238.0 L316.1 238.8 L318.1 239.7 L320.1 240.4 L322.0 241.2 L324.0 242.0 L326.0 242.7 L328.0 243.4 L330.0 244.1 L332.0 244.8 L334.0 245.5" stroke="#1c28b8" stroke-width="2.7" fill="none" stroke-linecap="round"/>
<path d="M296.3 228.7 L298.5 228.5 L300.4 228.8 L302.2 229.6 L303.8 230.5 L305.5 231.4 L307.2 232.2 L308.9 233.1 L310.6 233.9 L312.3 234.7 L314.0 235.5 L315.7 236.3 L317.5 237.0 L319.2 237.7 L321.0 238.4 L322.7 239.1 L324.5 239.8 L326.2 240.6 L327.7 241.9 L328.9 243.7 L328.9 243.7 L326.6 244.3 L324.5 244.3 L322.6 243.8 L320.9 243.1 L319.1 242.4 L317.4 241.7 L315.6 241.0 L313.9 240.3 L312.1 239.5 L310.4 238.7 L308.7 237.9 L307.0 237.1 L305.3 236.2 L303.6 235.3 L302.0 234.5 L300.3 233.5 L298.7 232.5 L297.4 230.9 L296.3 228.7Z" fill="#2a50d8"/>
<path d="M297.1 229.2 L299.2 229.1 L301.0 229.5 L302.6 230.2 L304.2 231.0 L305.8 231.9 L307.4 232.7 L309.0 233.5 L310.6 234.3 L312.2 235.1 L313.8 235.8 L315.4 236.5 L317.1 237.2 L318.7 237.9 L320.4 238.6 L322.1 239.2 L323.7 239.9 L325.4 240.6 L326.8 241.8 L328.0 243.4 L328.0 243.4 L325.8 243.8 L323.9 243.7 L322.2 243.2 L320.5 242.6 L318.8 241.9 L317.2 241.3 L315.5 240.6 L313.9 239.9 L312.2 239.2 L310.6 238.4 L309.0 237.6 L307.4 236.9 L305.8 236.1 L304.2 235.2 L302.6 234.4 L301.0 233.5 L299.5 232.6 L298.2 231.1 L297.1 229.2Z" fill="#22e6f0"/>
<path d="M302.7 232.3 L303.9 231.7 L305.0 231.6 L305.9 231.9 L306.7 232.4 L307.5 232.8 L308.3 233.2 L309.2 233.6 L310.0 234.0 L310.8 234.4 L311.6 234.8 L312.5 235.2 L313.3 235.6 L314.2 236.0 L315.0 236.3 L315.8 236.7 L316.7 237.1 L317.5 237.5 L318.1 238.4 L318.4 239.8 L318.4 239.8 L317.1 240.5 L316.0 240.6 L315.1 240.4 L314.3 240.1 L313.4 239.7 L312.6 239.3 L311.7 238.9 L310.9 238.5 L310.1 238.2 L309.2 237.8 L308.4 237.4 L307.6 237.0 L306.8 236.6 L305.9 236.1 L305.1 235.7 L304.3 235.3 L303.6 234.7 L303.0 233.8 L302.7 232.3Z" fill="#30e890"/>
<path d="M348.0 247.0 L350.0 248.1 L352.0 249.2 L354.0 250.3 L356.0 251.4 L358.0 252.5 L360.1 253.5 L362.1 254.6 L364.1 255.6 L366.2 256.6 L368.2 257.6 L370.3 258.5 L372.4 259.4 L374.5 260.3 L376.6 261.2 L378.7 262.0 L380.9 262.8 L383.0 263.6 L385.2 264.4 L387.3 265.1 L389.5 265.8 L391.7 266.6 L393.8 267.3 L396.0 268.0" stroke="#1c28b8" stroke-width="2.4" fill="none" stroke-linecap="round"/>
<path d="M354.9 250.8 L357.2 250.7 L359.2 251.1 L361.1 252.0 L362.9 252.9 L364.7 253.8 L366.6 254.7 L368.4 255.6 L370.3 256.4 L372.1 257.2 L374.0 258.0 L375.9 258.8 L377.8 259.6 L379.7 260.3 L381.6 261.1 L383.5 261.8 L385.5 262.5 L387.3 263.3 L389.0 264.5 L390.5 266.2 L390.5 266.2 L388.1 266.6 L385.9 266.5 L383.9 265.9 L382.0 265.2 L380.1 264.5 L378.2 263.8 L376.3 263.1 L374.4 262.3 L372.5 261.5 L370.6 260.7 L368.8 259.9 L366.9 259.0 L365.1 258.2 L363.2 257.3 L361.4 256.4 L359.6 255.4 L357.8 254.4 L356.2 252.8 L354.9 250.8Z" fill="#2a50d8"/>
<path d="M355.8 251.3 L357.9 251.4 L359.8 251.8 L361.6 252.6 L363.3 253.5 L365.0 254.3 L366.8 255.2 L368.5 256.0 L370.3 256.8 L372.1 257.6 L373.8 258.3 L375.6 259.1 L377.4 259.8 L379.2 260.5 L381.0 261.2 L382.8 261.9 L384.6 262.5 L386.4 263.3 L388.0 264.4 L389.5 265.9 L389.5 265.9 L387.3 266.1 L385.3 265.9 L383.4 265.4 L381.6 264.7 L379.8 264.0 L378.0 263.4 L376.2 262.7 L374.4 261.9 L372.6 261.2 L370.8 260.4 L369.0 259.6 L367.3 258.8 L365.5 258.0 L363.8 257.2 L362.1 256.3 L360.3 255.4 L358.7 254.4 L357.2 253.1 L355.8 251.3Z" fill="#30e890"/>
<path d="M67.0 372.3 L68.5 370.7 L80.9 386.2 L79.5 387.9Z" fill="#ee8c50"/>
<path d="M68.2 371.1 L69.7 369.5 L82.1 384.8 L80.7 386.5Z" fill="#ee8c50"/>
<path d="M69.4 369.8 L70.9 368.2 L83.2 383.5 L81.8 385.2Z" fill="#ee8c50"/>
<path d="M70.6 368.5 L72.1 367.0 L84.3 382.1 L82.9 383.8Z" fill="#ee8c50"/>
<path d="M71.8 367.3 L73.3 365.7 L85.4 380.8 L84.0 382.5Z" fill="#ee8c50"/>
<path d="M73.0 366.0 L74.5 364.5 L86.5 379.5 L85.1 381.1Z" fill="#ee8c50"/>
<path d="M74.2 364.8 L75.7 363.2 L87.7 378.1 L86.3 379.8Z" fill="#ee8c50"/>
<path d="M75.4 363.5 L76.9 362.0 L88.8 376.8 L87.4 378.5Z" fill="#ee8c50"/>
<path d="M76.6 362.3 L78.1 360.7 L89.9 375.5 L88.5 377.1Z" fill="#ee8c50"/>
<path d="M77.8 361.0 L79.3 359.5 L91.0 374.2 L89.6 375.8Z" fill="#ee8c50"/>
<path d="M79.0 359.8 L80.5 358.2 L92.2 372.8 L90.7 374.5Z" fill="#ee8c50"/>
<path d="M80.2 358.5 L81.8 357.0 L93.3 371.5 L91.9 373.2Z" fill="#ee8c50"/>
<path d="M81.5 357.3 L83.0 355.8 L94.4 370.2 L93.0 371.9Z" fill="#ee8c50"/>
<path d="M82.7 356.1 L84.2 354.5 L95.5 368.9 L94.1 370.6Z" fill="#ef924d"/>
<path d="M83.9 354.8 L85.4 353.3 L96.6 367.6 L95.2 369.3Z" fill="#f3a645"/>
<path d="M85.1 353.6 L86.6 352.0 L97.8 366.4 L96.4 368.0Z" fill="#f3a846"/>
<path d="M86.3 352.4 L87.8 350.8 L98.9 365.1 L97.5 366.7Z" fill="#f4ab48"/>
<path d="M87.5 351.1 L89.0 349.6 L100.0 363.8 L98.6 365.4Z" fill="#f4ae49"/>
<path d="M88.7 349.9 L90.2 348.4 L101.2 362.5 L99.7 364.1Z" fill="#f4b04b"/>
<path d="M89.9 348.7 L91.4 347.2 L102.3 361.3 L100.9 362.9Z" fill="#f4b34c"/>
<path d="M91.1 347.5 L92.6 345.9 L103.4 360.0 L102.0 361.6Z" fill="#f4b54e"/>
<path d="M92.3 346.2 L93.8 344.7 L104.5 358.8 L103.1 360.3Z" fill="#f5b84f"/>
<path d="M93.5 345.0 L95.0 343.5 L105.7 357.6 L104.3 359.1Z" fill="#f5ba51"/>
<path d="M94.7 343.8 L96.2 342.3 L106.8 356.4 L105.4 357.9Z" fill="#f5bd52"/>
<path d="M95.9 342.6 L97.4 341.1 L108.0 355.2 L106.5 356.7Z" fill="#f5bf54"/>
<path d="M97.1 341.4 L98.6 339.9 L109.2 354.0 L107.7 355.5Z" fill="#f5c156"/>
<path d="M98.3 340.2 L99.8 338.7 L110.3 352.8 L108.9 354.3Z" fill="#f5c457"/>
<path d="M99.5 339.0 L101.0 337.6 L111.5 351.7 L110.0 353.1Z" fill="#f5c659"/>
<path d="M100.7 337.9 L102.2 336.4 L112.6 350.5 L111.2 352.0Z" fill="#f5c85a"/>
<path d="M101.9 336.7 L103.4 335.2 L113.7 349.3 L112.3 350.8Z" fill="#f5c85a"/>
<path d="M103.1 335.5 L104.6 334.0 L114.8 348.0 L113.5 349.6Z" fill="#f5c85a"/>
<path d="M104.3 334.3 L105.8 332.9 L115.9 346.8 L114.6 348.3Z" fill="#f5c85a"/>
<path d="M105.5 333.2 L107.0 331.7 L116.9 345.4 L115.6 347.1Z" fill="#f5c85a"/>
<path d="M106.7 332.0 L108.2 330.6 L117.9 344.0 L116.7 345.8Z" fill="#f5c85a"/>
<path d="M107.9 330.9 L109.5 329.4 L118.8 342.6 L117.6 344.4Z" fill="#f5c85a"/>
<path d="M109.1 329.7 L110.7 328.3 L120.3 341.9 L118.6 342.9Z" fill="#f5c85a"/>
<path d="M110.4 328.6 L111.9 327.2 L121.6 341.1 L119.9 342.1Z" fill="#f5c85a"/>
<path d="M111.6 327.4 L113.1 326.0 L122.9 340.1 L121.3 341.3Z" fill="#f5c85a"/>
<path d="M112.8 326.3 L114.3 324.9 L124.1 339.2 L122.6 340.4Z" fill="#f5c85a"/>
<path d="M114.0 325.2 L115.5 323.8 L125.4 338.3 L123.8 339.4Z" fill="#f5c85a"/>
<path d="M115.2 324.1 L116.7 322.7 L126.6 337.3 L125.1 338.5Z" fill="#f5c85a"/>
<path d="M116.4 323.0 L117.9 321.6 L127.8 336.3 L126.3 337.5Z" fill="#f5c85a"/>
<path d="M117.6 321.9 L119.1 320.5 L129.0 335.3 L127.5 336.5Z" fill="#f6cb59"/>
<path d="M118.8 320.8 L120.3 319.4 L130.1 334.3 L128.7 335.5Z" fill="#f9e154"/>
<path d="M120.0 319.7 L121.5 318.3 L131.3 333.2 L129.8 334.5Z" fill="#fbec52"/>
<path d="M121.2 318.6 L122.7 317.3 L132.4 332.1 L131.0 333.5Z" fill="#fbec52"/>
<path d="M122.4 317.5 L123.9 316.2 L133.5 331.0 L132.1 332.4Z" fill="#fbec52"/>
<path d="M123.6 316.5 L125.1 315.1 L134.6 329.9 L133.2 331.3Z" fill="#fbec52"/>
<path d="M124.8 315.4 L126.3 314.1 L135.6 328.8 L134.3 330.2Z" fill="#fbec52"/>
<path d="M126.0 314.3 L127.5 313.0 L136.7 327.6 L135.4 329.1Z" fill="#fbec52"/>
<path d="M127.2 313.3 L128.7 312.0 L137.7 326.4 L136.4 327.9Z" fill="#fbec52"/>
<path d="M128.4 312.3 L129.9 311.0 L138.7 325.1 L137.4 326.7Z" fill="#fbec52"/>
<path d="M129.6 311.2 L131.1 309.9 L140.0 324.4 L138.4 325.4Z" fill="#fbec52"/>
<path d="M130.8 310.2 L132.3 308.9 L141.4 323.9 L139.7 324.6Z" fill="#fbec52"/>
<path d="M132.0 309.2 L133.5 307.9 L142.7 323.2 L141.0 324.0Z" fill="#fbec52"/>
<path d="M133.2 308.2 L134.7 306.9 L143.9 322.4 L142.3 323.3Z" fill="#fbec52"/>
<path d="M134.4 307.2 L135.9 305.9 L145.2 321.7 L143.6 322.6Z" fill="#fbec52"/>
<path d="M135.6 306.2 L137.1 304.9 L146.4 320.9 L144.9 321.9Z" fill="#f9dd55"/>
<path d="M136.8 305.2 L138.4 304.0 L147.6 320.1 L146.1 321.1Z" fill="#f6cf59"/>
<path d="M138.1 304.2 L139.6 303.0 L148.8 319.3 L147.3 320.3Z" fill="#f5c85a"/>
<path d="M139.3 303.2 L140.8 302.0 L150.0 318.4 L148.5 319.5Z" fill="#f5c85a"/>
<path d="M140.5 302.3 L142.0 301.1 L151.1 317.5 L149.7 318.6Z" fill="#f5c85a"/>
<path d="M141.7 301.3 L143.2 300.1 L152.2 316.6 L150.8 317.8Z" fill="#f5c85a"/>
<path d="M142.9 300.4 L144.4 299.2 L153.3 315.7 L152.0 316.9Z" fill="#f5c85a"/>
<path d="M144.1 299.4 L145.6 298.3 L154.4 314.7 L153.1 315.9Z" fill="#f5c85a"/>
<path d="M145.3 298.5 L146.8 297.4 L155.5 313.7 L154.1 315.0Z" fill="#f5c85a"/>
<path d="M146.5 297.6 L148.0 296.4 L156.5 312.7 L155.2 314.0Z" fill="#f5c85a"/>
<path d="M147.7 296.7 L149.2 295.5 L157.5 311.7 L156.3 313.0Z" fill="#f5c85a"/>
<path d="M148.9 295.8 L150.4 294.6 L158.5 310.5 L157.3 311.9Z" fill="#f5c85a"/>
<path d="M150.1 294.9 L151.6 293.8 L159.6 309.5 L158.3 310.8Z" fill="#f5c85a"/>
<path d="M151.3 294.0 L152.8 292.9 L160.9 309.2 L159.3 309.8Z" fill="#f5c85a"/>
<path d="M152.5 293.1 L154.0 292.0 L162.2 308.6 L160.6 309.3Z" fill="#f5c85a"/>
<path d="M153.7 292.2 L155.2 291.1 L163.4 308.0 L161.9 308.8Z" fill="#f5c85a"/>
<path d="M154.9 291.4 L156.4 290.3 L164.6 307.4 L163.1 308.2Z" fill="#f5c85a"/>
<path d="M156.1 290.5 L157.6 289.4 L165.8 306.7 L164.3 307.6Z" fill="#f5c85a"/>
<path d="M157.3 289.7 L158.8 288.6 L167.0 306.0 L165.5 306.9Z" fill="#f5c85a"/>
<path d="M158.5 288.8 L160.0 287.8 L168.1 305.3 L166.7 306.2Z" fill="#f5c85a"/>
<path d="M159.7 288.0 L161.2 287.0 L169.2 304.5 L167.8 305.5Z" fill="#f5c85a"/>
<path d="M160.9 287.2 L162.4 286.1 L170.3 303.7 L168.9 304.7Z" fill="#f5c85a"/>
<path d="M162.1 286.4 L163.6 285.3 L171.4 302.9 L170.0 303.9Z" fill="#f5c85a"/>
<path d="M163.3 285.5 L164.8 284.5 L172.4 302.0 L171.1 303.1Z" fill="#f5c85a"/>
<path d="M164.5 284.7 L166.1 283.8 L173.5 301.1 L172.2 302.2Z" fill="#f5c85a"/>
<path d="M165.8 284.0 L167.3 283.0 L174.5 300.2 L173.2 301.3Z" fill="#f5c658"/>
<path d="M167.0 283.2 L168.5 282.2 L175.5 299.2 L174.3 300.4Z" fill="#f4c153"/>
<path d="M168.2 282.4 L169.7 281.4 L176.5 298.2 L175.3 299.4Z" fill="#f4bc4e"/>
<path d="M169.4 281.6 L170.9 280.7 L177.5 297.1 L176.3 298.4Z" fill="#f3b648"/>
<path d="M170.6 280.9 L172.1 279.9 L178.5 295.9 L177.3 297.4Z" fill="#f3b648"/>
<path d="M171.8 280.1 L173.3 279.2 L179.7 295.6 L178.2 296.2Z" fill="#f3b648"/>
<path d="M173.0 279.4 L174.5 278.5 L180.9 295.2 L179.4 295.7Z" fill="#f3b648"/>
<path d="M174.2 278.7 L175.7 277.7 L182.1 294.6 L180.6 295.3Z" fill="#f3b648"/>
<path d="M175.4 277.9 L176.9 277.0 L183.3 294.1 L181.8 294.8Z" fill="#f3b648"/>
<path d="M176.6 277.2 L178.1 276.3 L184.4 293.5 L183.0 294.2Z" fill="#f3b648"/>
<path d="M177.8 276.5 L179.3 275.6 L185.6 292.9 L184.2 293.7Z" fill="#f3b84a"/>
<path d="M179.0 275.8 L180.5 274.9 L186.7 292.3 L185.3 293.1Z" fill="#f4bd4f"/>
<path d="M180.2 275.1 L181.7 274.2 L187.8 291.7 L186.4 292.5Z" fill="#f4c355"/>
<path d="M181.4 274.4 L182.9 273.6 L188.9 291.0 L187.6 291.8Z" fill="#f5c85a"/>
<path d="M182.6 273.7 L184.1 272.9 L190.0 290.3 L188.7 291.2Z" fill="#f5c85a"/>
<path d="M183.8 273.1 L185.3 272.2 L191.1 289.6 L189.8 290.5Z" fill="#f5c85a"/>
<path d="M185.0 272.4 L186.5 271.6 L192.2 288.8 L190.9 289.8Z" fill="#f5c85a"/>
<path d="M186.2 271.7 L187.7 270.9 L193.3 288.1 L191.9 289.0Z" fill="#f5c85a"/>
<path d="M187.4 271.1 L188.9 270.3 L194.3 287.3 L193.0 288.3Z" fill="#f5c85a"/>
<path d="M188.6 270.5 L190.1 269.7 L195.4 286.5 L194.1 287.5Z" fill="#f5c85a"/>
<path d="M189.8 269.8 L191.3 269.0 L196.4 285.6 L195.1 286.7Z" fill="#f5c85a"/>
<path d="M191.0 269.2 L192.5 268.4 L197.5 284.7 L196.2 285.9Z" fill="#f4bf51"/>
<path d="M192.2 268.6 L193.7 267.8 L198.6 284.1 L197.2 285.0Z" fill="#f2af40"/>
<path d="M193.4 268.0 L195.0 267.2 L199.8 284.1 L198.3 284.3Z" fill="#f0a030"/>
<path d="M194.7 267.4 L196.2 266.6 L201.1 283.8 L199.5 284.1Z" fill="#f0a030"/>
<path d="M195.9 266.8 L197.4 266.0 L202.2 283.5 L200.7 283.8Z" fill="#f0a030"/>
<path d="M197.1 266.2 L198.6 265.5 L203.4 283.1 L201.9 283.5Z" fill="#f0a030"/>
<path d="M198.3 265.6 L199.8 264.9 L204.6 282.7 L203.1 283.2Z" fill="#f0a030"/>
<path d="M199.5 265.0 L201.0 264.3 L205.7 282.3 L204.3 282.8Z" fill="#f2ae3f"/>
<path d="M200.7 264.5 L202.2 263.8 L206.9 281.9 L205.4 282.4Z" fill="#f4be50"/>
<path d="M201.9 263.9 L203.4 263.2 L208.0 281.5 L206.6 282.0Z" fill="#f5c85a"/>
<path d="M203.1 263.4 L204.6 262.7 L209.1 281.0 L207.7 281.6Z" fill="#f5c85a"/>
<path d="M204.3 262.8 L205.8 262.2 L210.2 280.5 L208.8 281.1Z" fill="#f5c85a"/>
<path d="M205.5 262.3 L207.0 261.6 L211.3 279.9 L210.0 280.6Z" fill="#f5c85a"/>
<path d="M206.7 261.8 L208.2 261.1 L212.4 279.4 L211.1 280.1Z" fill="#f5c85a"/>
<path d="M207.9 261.2 L209.4 260.6 L213.5 278.8 L212.2 279.5Z" fill="#f5c85a"/>
<path d="M209.1 260.7 L210.6 260.1 L214.6 278.1 L213.2 278.9Z" fill="#f5c85a"/>
<path d="M210.3 260.2 L211.8 259.6 L215.7 277.5 L214.3 278.3Z" fill="#f5c85a"/>
<path d="M211.5 259.7 L213.0 259.1 L216.7 276.7 L215.4 277.6Z" fill="#f5c85a"/>
<path d="M212.7 259.2 L214.2 258.6 L217.8 275.8 L216.5 276.9Z" fill="#f5c85a"/>
<path d="M213.9 258.7 L215.4 258.1 L219.0 276.0 L217.5 276.0Z" fill="#f5c85a"/>
<path d="M215.1 258.3 L216.6 257.7 L220.2 275.9 L218.7 276.0Z" fill="#f5c85a"/>
<path d="M216.3 257.8 L217.8 257.2 L221.4 275.8 L219.9 276.0Z" fill="#f5c85a"/>
<path d="M217.5 257.3 L219.0 256.8 L222.5 275.6 L221.1 275.8Z" fill="#f5c85a"/>
<path d="M218.7 256.9 L220.2 256.3 L223.7 275.4 L222.2 275.6Z" fill="#f5c85a"/>
<path d="M219.9 256.4 L221.4 255.9 L224.8 275.1 L223.4 275.4Z" fill="#f5c85a"/>
<path d="M221.1 256.0 L222.7 255.5 L225.9 274.8 L224.5 275.2Z" fill="#f5c85a"/>
<path d="M222.4 255.6 L223.9 255.0 L227.0 274.5 L225.6 274.9Z" fill="#f5c85a"/>
<path d="M223.6 255.1 L225.1 254.6 L228.2 274.2 L226.8 274.6Z" fill="#f5c759"/>
<path d="M224.8 254.7 L226.3 254.2 L229.3 273.8 L227.9 274.2Z" fill="#f4c254"/>
<path d="M226.0 254.3 L227.5 253.8 L230.4 273.4 L229.0 273.9Z" fill="#f4bc4e"/>
<path d="M227.2 253.9 L228.7 253.4 L231.5 272.9 L230.1 273.5Z" fill="#f3b749"/>
<path d="M228.4 253.5 L229.9 253.0 L232.6 272.4 L231.2 273.0Z" fill="#f3ba4c"/>
<path d="M229.6 253.1 L231.1 252.7 L233.6 271.9 L232.3 272.6Z" fill="#f4c052"/>
<path d="M230.8 252.7 L232.3 252.3 L234.7 271.4 L233.4 272.0Z" fill="#f5c557"/>
<path d="M232.0 252.4 L233.5 251.9 L235.8 270.8 L234.5 271.5Z" fill="#f5c85a"/>
<path d="M233.2 252.0 L234.7 251.6 L236.9 270.1 L235.5 270.9Z" fill="#f5c85a"/>
<path d="M234.4 251.6 L235.9 251.2 L238.0 269.9 L236.6 270.3Z" fill="#f5c85a"/>
<path d="M235.6 251.3 L237.1 250.9 L239.2 270.0 L237.7 270.0Z" fill="#f5c85a"/>
<path d="M236.8 251.0 L238.3 250.5 L240.3 270.0 L238.9 270.0Z" fill="#f5c85a"/>
<path d="M238.0 250.6 L239.5 250.2 L241.4 269.9 L240.0 270.0Z" fill="#f5c85a"/>
<path d="M239.2 250.3 L240.7 249.9 L242.6 269.8 L241.1 269.9Z" fill="#f5c85a"/>
<path d="M240.4 250.0 L241.9 249.6 L243.7 269.7 L242.3 269.8Z" fill="#f5c85a"/>
<path d="M241.6 249.7 L243.1 249.3 L244.8 269.5 L243.4 269.7Z" fill="#f5c85a"/>
<path d="M242.8 249.3 L244.3 249.0 L245.9 269.3 L244.5 269.5Z" fill="#f5c85a"/>
<path d="M244.0 249.0 L245.5 248.7 L247.0 269.0 L245.6 269.3Z" fill="#f5c85a"/>
<path d="M245.2 248.8 L246.7 248.4 L248.1 268.8 L246.7 269.1Z" fill="#f5c85a"/>
<path d="M246.4 248.5 L247.9 248.1 L249.2 268.4 L247.8 268.8Z" fill="#f5c85a"/>
<path d="M247.6 248.2 L249.1 247.9 L250.3 268.1 L248.9 268.5Z" fill="#f5c85a"/>
<path d="M248.8 247.9 L250.3 247.6 L251.4 267.7 L250.0 268.2Z" fill="#f5c85a"/>
<path d="M250.0 247.7 L251.6 247.3 L252.5 267.3 L251.1 267.8Z" fill="#f5c759"/>
<path d="M251.3 247.4 L252.8 247.1 L253.6 266.9 L252.2 267.4Z" fill="#f5c456"/>
<path d="M252.5 247.2 L254.0 246.9 L254.7 266.4 L253.3 267.0Z" fill="#f4c153"/>
<path d="M253.7 246.9 L255.2 246.6 L255.8 265.8 L254.4 266.5Z" fill="#f4be50"/>
<path d="M254.9 246.7 L256.4 246.4 L256.9 265.1 L255.5 266.0Z" fill="#f4bc4e"/>
<path d="M256.1 246.5 L257.6 246.2 L258.0 265.6 L256.6 265.3Z" fill="#f3b94b"/>
<path d="M257.3 246.3 L258.8 246.0 L259.1 265.7 L257.7 265.6Z" fill="#f3b648"/>
<path d="M258.5 246.0 L260.0 245.8 L260.2 265.7 L258.8 265.6Z" fill="#f3b648"/>
<path d="M259.7 245.8 L261.2 245.6 L261.3 265.7 L259.9 265.7Z" fill="#f3b648"/>
<path d="M260.9 245.6 L262.4 245.4 L262.4 265.6 L261.0 265.7Z" fill="#f3b648"/>
<path d="M262.1 245.5 L263.6 245.2 L263.5 265.6 L262.1 265.6Z" fill="#f3b648"/>
<path d="M263.3 245.3 L264.8 245.1 L264.6 265.4 L263.2 265.6Z" fill="#f3b648"/>
<path d="M264.5 245.1 L266.0 244.9 L265.7 265.3 L264.3 265.5Z" fill="#f3b648"/>
<path d="M265.7 245.0 L267.2 244.8 L266.8 265.1 L265.4 265.3Z" fill="#f3b749"/>
<path d="M266.9 244.8 L268.4 244.6 L267.9 264.9 L266.5 265.2Z" fill="#f4bd4f"/>
<path d="M268.1 244.6 L269.6 244.5 L269.0 264.6 L267.6 264.9Z" fill="#f4c254"/>
<path d="M269.3 244.5 L270.8 244.3 L270.1 264.4 L268.7 264.7Z" fill="#f5c85a"/>
<path d="M270.5 244.4 L272.0 244.2 L271.2 264.1 L269.8 264.4Z" fill="#f5c85a"/>
<path d="M271.7 244.3 L273.2 244.1 L272.3 263.7 L271.0 264.1Z" fill="#f5c85a"/>
<path d="M272.9 244.1 L274.4 244.0 L273.5 263.3 L272.1 263.8Z" fill="#f5c85a"/>
<path d="M274.1 244.0 L275.6 243.9 L274.6 262.9 L273.2 263.4Z" fill="#f5c85a"/>
<path d="M275.3 243.9 L276.8 243.8 L275.7 262.3 L274.3 263.0Z" fill="#f5c85a"/>
<path d="M276.5 243.8 L278.0 243.7 L276.8 262.4 L275.4 262.5Z" fill="#f5c85a"/>
<path d="M277.7 243.7 L279.3 243.6 L277.9 262.7 L276.6 262.5Z" fill="#f5c85a"/>
<path d="M279.0 243.7 L280.5 243.6 L279.0 262.9 L277.6 262.7Z" fill="#f5c85a"/>
<path d="M280.2 243.6 L281.7 243.5 L280.1 262.9 L278.7 262.8Z" fill="#f5c85a"/>
<path d="M281.4 243.5 L282.9 243.5 L281.2 263.0 L279.8 262.9Z" fill="#f5c85a"/>
<path d="M282.6 243.5 L284.1 243.4 L282.3 263.0 L280.9 263.0Z" fill="#f5c85a"/>
<path d="M283.8 243.4 L285.3 243.4 L283.4 263.0 L282.0 263.0Z" fill="#f5c85a"/>
<path d="M285.0 243.4 L286.5 243.3 L284.5 263.0 L283.2 263.0Z" fill="#f5c85a"/>
<path d="M286.2 243.3 L287.7 243.3 L285.7 262.9 L284.3 263.0Z" fill="#f5c85a"/>
<path d="M287.4 243.3 L288.9 243.3 L286.8 262.8 L285.4 262.9Z" fill="#f5c85a"/>
<path d="M288.6 243.3 L290.1 243.3 L287.9 262.7 L286.5 262.8Z" fill="#f5c85a"/>
<path d="M289.8 243.3 L291.3 243.3 L289.0 262.5 L287.6 262.7Z" fill="#f5c85a"/>
<path d="M291.0 243.3 L292.5 243.3 L290.2 262.3 L288.8 262.6Z" fill="#f5c85a"/>
<path d="M292.2 243.3 L293.7 243.3 L291.3 262.1 L289.9 262.4Z" fill="#f5c85a"/>
<path d="M293.4 243.3 L294.9 243.3 L292.5 261.8 L291.0 262.2Z" fill="#f5c85a"/>
<path d="M294.6 243.3 L296.1 243.3 L293.7 261.5 L292.2 261.9Z" fill="#f5c85a"/>
<path d="M295.8 243.3 L297.3 243.4 L294.8 261.2 L293.4 261.6Z" fill="#f5c85a"/>
<path d="M297.0 243.3 L298.5 243.4 L296.0 260.9 L294.5 261.2Z" fill="#f5c85a"/>
<path d="M298.2 243.4 L299.7 243.4 L297.1 261.4 L295.7 260.9Z" fill="#f5c85a"/>
<path d="M299.4 243.4 L300.9 243.5 L298.1 261.7 L296.8 261.3Z" fill="#f5c85a"/>
<path d="M300.6 243.5 L302.1 243.5 L299.2 261.9 L297.9 261.6Z" fill="#f4c254"/>
<path d="M301.8 243.5 L303.3 243.6 L300.4 262.1 L299.0 261.8Z" fill="#f4bd4f"/>
<path d="M303.0 243.6 L304.5 243.7 L301.5 262.2 L300.1 262.0Z" fill="#f3b84a"/>
<path d="M304.2 243.7 L305.7 243.8 L302.6 262.4 L301.2 262.2Z" fill="#f3ba4c"/>
<path d="M305.4 243.7 L307.0 243.8 L303.7 262.5 L302.3 262.3Z" fill="#f4bf51"/>
<path d="M306.6 243.8 L308.2 243.9 L304.8 262.5 L303.4 262.4Z" fill="#f5c557"/>
<path d="M307.9 243.9 L309.4 244.0 L306.0 262.6 L304.5 262.5Z" fill="#f5c759"/>
<path d="M309.1 244.0 L310.6 244.1 L307.1 262.6 L305.7 262.6Z" fill="#f5c658"/>
<path d="M310.3 244.1 L311.8 244.3 L308.3 262.5 L306.8 262.6Z" fill="#f5c456"/>
<path d="M311.5 244.2 L313.0 244.4 L309.4 262.5 L308.0 262.6Z" fill="#f4c355"/>
<path d="M312.7 244.3 L314.2 244.5 L310.6 262.4 L309.1 262.5Z" fill="#f4c153"/>
<path d="M313.9 244.5 L315.4 244.6 L311.8 262.3 L310.3 262.4Z" fill="#f4c052"/>
<path d="M315.1 244.6 L316.6 244.8 L313.0 262.1 L311.5 262.3Z" fill="#f4be50"/>
<path d="M316.3 244.7 L317.8 244.9 L314.2 261.9 L312.7 262.2Z" fill="#f4bd4f"/>
<path d="M317.5 244.9 L319.0 245.1 L315.4 261.6 L313.9 262.0Z" fill="#f4bb4d"/>
<path d="M318.7 245.0 L320.2 245.2 L316.5 262.1 L315.1 261.7Z" fill="#f3b94b"/>
<path d="M319.9 245.2 L321.4 245.4 L317.5 262.6 L316.2 262.0Z" fill="#f3b84a"/>
<path d="M321.1 245.4 L322.6 245.6 L318.6 263.0 L317.3 262.5Z" fill="#f3b648"/>
<path d="M322.3 245.5 L323.8 245.8 L319.7 263.3 L318.3 262.9Z" fill="#f3b648"/>
<path d="M323.5 245.7 L325.0 245.9 L320.8 263.6 L319.4 263.2Z" fill="#f3b648"/>
<path d="M324.7 245.9 L326.2 246.1 L321.9 263.9 L320.5 263.5Z" fill="#f3b648"/>
<path d="M325.9 246.1 L327.4 246.3 L323.0 264.1 L321.6 263.8Z" fill="#f3b648"/>
<path d="M327.1 246.3 L328.6 246.5 L324.2 264.4 L322.8 264.1Z" fill="#f3b648"/>
<path d="M328.3 246.5 L329.8 246.8 L325.3 264.6 L323.9 264.3Z" fill="#f1a839"/>
<path d="M329.5 246.7 L331.0 247.0 L326.4 264.7 L325.0 264.5Z" fill="#f0a030"/>
<path d="M330.7 246.9 L332.2 247.2 L327.6 264.9 L326.2 264.7Z" fill="#f0a030"/>
<path d="M331.9 247.1 L333.4 247.4 L328.8 265.0 L327.3 264.8Z" fill="#f0a030"/>
<path d="M333.1 247.4 L334.6 247.7 L329.9 265.1 L328.5 265.0Z" fill="#f0a030"/>
<path d="M334.3 247.6 L335.9 247.9 L331.1 265.1 L329.6 265.0Z" fill="#f0a030"/>
<path d="M335.6 247.9 L337.1 248.2 L332.3 265.2 L330.8 265.1Z" fill="#f2ad3e"/>
<path d="M336.8 248.1 L338.3 248.4 L333.5 265.1 L332.0 265.1Z" fill="#f3b648"/>
<path d="M338.0 248.4 L339.5 248.7 L334.8 265.1 L333.2 265.1Z" fill="#f3b648"/>
<path d="M339.2 248.6 L340.7 249.0 L335.9 265.2 L334.5 265.1Z" fill="#f3b648"/>
<path d="M340.4 248.9 L341.9 249.3 L336.9 266.0 L335.6 265.2Z" fill="#f3b648"/>
<path d="M341.6 249.2 L343.1 249.5 L338.0 266.5 L336.7 265.8Z" fill="#f3b648"/>
<path d="M342.8 249.5 L344.3 249.8 L339.1 267.1 L337.7 266.4Z" fill="#f3b648"/>
<path d="M344.0 249.8 L345.5 250.1 L340.1 267.5 L338.8 266.9Z" fill="#f3b648"/>
<path d="M345.2 250.1 L346.7 250.4 L341.2 268.0 L339.9 267.4Z" fill="#f3b648"/>
<path d="M346.4 250.4 L347.9 250.8 L342.3 268.4 L341.0 267.9Z" fill="#f3b648"/>
<path d="M347.6 250.7 L349.1 251.1 L343.4 268.8 L342.1 268.3Z" fill="#f3b648"/>
<path d="M348.8 251.0 L350.3 251.4 L344.6 269.2 L343.2 268.7Z" fill="#f3b648"/>
<path d="M350.0 251.3 L351.5 251.7 L345.7 269.5 L344.3 269.1Z" fill="#f3b648"/>
<path d="M351.2 251.7 L352.7 252.1 L346.8 269.8 L345.4 269.4Z" fill="#f3b648"/>
<path d="M352.4 252.0 L353.9 252.4 L348.0 270.1 L346.5 269.7Z" fill="#f3b648"/>
<path d="M353.6 252.3 L355.1 252.8 L349.2 270.3 L347.7 270.0Z" fill="#f3b648"/>
<path d="M354.8 252.7 L356.3 253.1 L350.3 270.5 L348.9 270.3Z" fill="#f3b648"/>
<path d="M356.0 253.1 L357.5 253.5 L351.5 270.7 L350.0 270.5Z" fill="#f3b648"/>
<path d="M357.2 253.4 L358.7 253.9 L352.7 270.9 L351.2 270.7Z" fill="#f3b648"/>
<path d="M358.4 253.8 L359.9 254.3 L354.0 271.0 L352.4 270.8Z" fill="#f3b648"/>
<path d="M359.6 254.2 L361.1 254.7 L355.3 270.9 L353.7 270.9Z" fill="#f3b648"/>
<path d="M360.8 254.6 L362.3 255.1 L356.2 271.9 L354.9 270.9Z" fill="#f4b445"/>
<path d="M362.0 255.0 L363.6 255.5 L357.2 272.6 L356.0 271.7Z" fill="#f5b243"/>
<path d="M363.2 255.4 L364.8 255.9 L358.3 273.2 L357.0 272.4Z" fill="#f6b040"/>
<path d="M364.5 255.8 L366.0 256.3 L359.3 273.8 L358.0 273.0Z" fill="#f6b040"/>
<path d="M365.7 256.2 L367.2 256.7 L360.4 274.4 L359.1 273.7Z" fill="#f6b041"/>
<path d="M366.9 256.6 L368.4 257.1 L361.5 275.0 L360.1 274.3Z" fill="#f6b141"/>
<path d="M368.1 257.0 L369.6 257.6 L362.6 275.5 L361.2 274.8Z" fill="#f6b141"/>
<path d="M369.3 257.5 L370.8 258.0 L363.7 276.0 L362.3 275.4Z" fill="#f6b141"/>
<path d="M370.5 257.9 L372.0 258.5 L364.8 276.4 L363.4 275.9Z" fill="#f6b142"/>
<path d="M371.7 258.4 L373.2 258.9 L366.0 276.9 L364.5 276.3Z" fill="#f6b242"/>
<path d="M372.9 258.8 L374.4 259.4 L367.1 277.3 L365.7 276.8Z" fill="#f6b242"/>
<path d="M374.1 259.3 L375.6 259.9 L368.3 277.6 L366.8 277.2Z" fill="#f6b242"/>
<path d="M375.3 259.8 L376.8 260.4 L369.5 278.0 L368.0 277.6Z" fill="#f6b243"/>
<path d="M376.5 260.3 L378.0 260.9 L370.7 278.3 L369.2 277.9Z" fill="#f6b243"/>
<path d="M377.7 260.7 L379.2 261.4 L371.9 278.6 L370.4 278.2Z" fill="#f6b343"/>
<path d="M378.9 261.2 L380.4 261.9 L373.1 278.8 L371.6 278.5Z" fill="#f6b344"/>
<path d="M380.1 261.7 L381.6 262.4 L374.4 279.0 L372.8 278.8Z" fill="#f6b344"/>
<path d="M381.3 262.2 L382.8 262.9 L375.5 279.5 L374.1 278.9Z" fill="#f6b344"/>
<path d="M382.5 262.8 L384.0 263.4 L376.5 280.5 L375.2 279.4Z" fill="#f6b344"/>
<path d="M383.7 263.3 L385.2 264.0 L377.5 281.2 L376.2 280.3Z" fill="#f6b445"/>
<path d="M384.9 263.8 L386.4 264.5 L378.5 282.0 L377.2 281.0Z" fill="#f6b445"/>
<path d="M386.1 264.4 L387.6 265.1 L379.6 282.7 L378.3 281.8Z" fill="#f5b243"/>
<path d="M387.3 264.9 L388.8 265.6 L380.7 283.3 L379.3 282.5Z" fill="#f5af40"/>
<path d="M388.5 265.5 L390.0 266.2 L381.8 283.9 L380.4 283.1Z" fill="#f4ac3d"/>
<path d="M389.7 266.0 L391.2 266.8 L382.9 284.6 L381.5 283.8Z" fill="#f3a93a"/>
<path d="M390.9 266.6 L392.5 267.3 L384.0 285.1 L382.6 284.4Z" fill="#f2a636"/>
<path d="M392.2 267.2 L393.7 267.9 L385.1 285.7 L383.7 285.0Z" fill="#f1a333"/>
<path d="M393.4 267.8 L394.9 268.5 L386.3 286.2 L384.9 285.5Z" fill="#f0a030"/>
<path d="M394.6 268.4 L396.1 269.1 L387.5 286.7 L386.0 286.1Z" fill="#f4bd3d"/>
<path d="M395.8 269.0 L397.3 269.8 L388.7 287.1 L387.2 286.6Z" fill="#f9dc4b"/>
<path d="M397.0 269.6 L398.5 270.4 L389.9 287.6 L388.4 287.0Z" fill="#fbec52"/>
<path d="M398.2 270.2 L399.7 271.0 L391.1 288.0 L389.6 287.5Z" fill="#fbec52"/>
<path d="M399.4 270.8 L400.9 271.6 L392.4 288.4 L390.8 287.9Z" fill="#fbec52"/>
<path d="M400.6 271.5 L402.1 272.3 L393.7 288.7 L392.1 288.3Z" fill="#fbec52"/>
<path d="M401.8 272.1 L403.3 272.9 L395.1 288.8 L393.4 288.6Z" fill="#fbec52"/>
<path d="M403.0 272.8 L404.5 273.6 L395.9 290.1 L394.8 288.8Z" fill="#fbec52"/>
<path d="M404.2 273.4 L405.7 274.3 L396.9 291.0 L395.7 289.8Z" fill="#fbec52"/>
<path d="M405.4 274.1 L406.9 275.0 L398.0 291.8 L396.7 290.7Z" fill="#fbec52"/>
<path d="M406.6 274.8 L408.1 275.6 L399.0 292.6 L397.7 291.6Z" fill="#fbec52"/>
<path d="M407.8 275.5 L409.3 276.3 L400.1 293.4 L398.8 292.4Z" fill="#fbec52"/>
<path d="M409.0 276.2 L410.5 277.0 L401.2 294.2 L399.9 293.2Z" fill="#fbec52"/>
<path d="M410.2 276.9 L411.7 277.8 L402.3 294.9 L400.9 294.0Z" fill="#fbec52"/>
<path d="M411.4 277.6 L412.9 278.5 L403.5 295.6 L402.1 294.7Z" fill="#f9e055"/>
<path d="M412.6 278.3 L414.1 279.2 L404.6 296.3 L403.2 295.4Z" fill="#f7d158"/>
<path d="M413.8 279.0 L415.3 279.9 L405.8 297.0 L404.3 296.1Z" fill="#f5c759"/>
<path d="M415.0 279.8 L416.5 280.7 L407.0 297.6 L405.5 296.8Z" fill="#f5c557"/>
<path d="M416.2 280.5 L417.7 281.4 L408.2 298.2 L406.7 297.4Z" fill="#f4c355"/>
<path d="M417.4 281.2 L418.9 282.2 L409.4 298.8 L407.9 298.1Z" fill="#f4c153"/>
<path d="M418.6 282.0 L420.2 282.9 L410.7 299.4 L409.1 298.7Z" fill="#f4bf51"/>
<path d="M419.9 282.7 L421.4 283.7 L411.9 300.0 L410.3 299.3Z" fill="#f4bc4e"/>
<path d="M421.1 283.5 L422.6 284.5 L413.2 300.6 L411.6 299.8Z" fill="#f3ba4c"/>
<path d="M422.3 284.3 L423.8 285.3 L414.4 301.2 L412.8 300.4Z" fill="#f3b84a"/>
<path d="M423.5 285.1 L425.0 286.1 L415.5 302.1 L414.1 301.0Z" fill="#f3b648"/>
<path d="M424.7 285.9 L426.2 286.9 L416.5 303.2 L415.2 301.9Z" fill="#f3b344"/>
<path d="M425.9 286.7 L427.4 287.7 L417.5 304.1 L416.2 302.9Z" fill="#f2af41"/>
<path d="M427.1 287.5 L428.6 288.5 L418.6 305.0 L417.3 303.9Z" fill="#f2ac3d"/>
<path d="M428.3 288.3 L429.8 289.3 L419.7 305.9 L418.3 304.8Z" fill="#f1a939"/>
<path d="M429.5 289.1 L431.0 290.1 L420.8 306.7 L419.4 305.6Z" fill="#f1a536"/>
<path d="M430.7 289.9 L432.2 290.9 L422.0 307.6 L420.6 306.5Z" fill="#f0a232"/>
<path d="M431.9 290.7 L433.4 291.8 L423.1 308.4 L421.7 307.4Z" fill="#f09e33"/>
<path d="M433.1 291.6 L434.6 292.6 L424.3 309.3 L422.8 308.2Z" fill="#ef9a39"/>
<path d="M434.3 292.4 L435.8 293.5 L425.4 310.2 L424.0 309.1Z" fill="#ef963f"/>
<path d="M435.5 293.3 L437.0 294.3 L426.5 311.1 L425.1 309.9Z" fill="#ef9246"/>
<path d="M436.7 294.1 L438.2 295.2 L427.6 312.0 L426.2 310.9Z" fill="#ee8e4c"/>
<path d="M437.9 295.0 L439.4 296.1 L428.7 312.9 L427.3 311.8Z" fill="#ee8c50"/>
<path d="M439.1 295.9 L440.6 296.9 L429.8 313.9 L428.4 312.7Z" fill="#ee8c50"/>
<path d="M440.3 296.7 L441.8 297.8 L430.9 314.8 L429.5 313.6Z" fill="#ee8c50"/>
<path d="M441.5 297.6 L443.0 298.7 L432.0 315.8 L430.6 314.6Z" fill="#ee8c50"/>
<path d="M442.7 298.5 L444.2 299.6 L433.1 316.7 L431.8 315.5Z" fill="#ee8c50"/>
<path d="M443.9 299.4 L445.4 300.5 L434.2 317.7 L432.9 316.5Z" fill="#ee8c50"/>
<path d="M445.1 300.3 L446.6 301.4 L435.3 318.7 L434.0 317.5Z" fill="#ee8c50"/>
<path d="M446.3 301.2 L447.8 302.3 L436.4 319.7 L435.1 318.5Z" fill="#ee8c50"/>
<path d="M447.5 302.1 L449.1 303.2 L437.5 320.7 L436.2 319.4Z" fill="#ee8c50"/>
<path d="M448.8 303.0 L450.3 304.2 L438.6 321.7 L437.3 320.4Z" fill="#ee8c50"/>
<path d="M450.0 303.9 L451.5 305.1 L439.7 322.7 L438.4 321.4Z" fill="#ee8c50"/>
<path d="M451.2 304.8 L452.7 306.0 L440.8 323.7 L439.5 322.5Z" fill="#ee8c50"/>
<path d="M452.4 305.8 L453.9 306.9 L441.9 324.7 L440.6 323.5Z" fill="#ee8c50"/>
<path d="M453.6 306.7 L455.1 307.9 L443.0 325.8 L441.7 324.5Z" fill="#ee8c50"/>
<path d="M454.8 307.6 L456.3 308.8 L444.1 326.8 L442.8 325.5Z" fill="#ee8c50"/>
<path d="M456.0 308.6 L457.5 309.8 L445.2 327.9 L443.9 326.6Z" fill="#ee8c50"/>
<path d="M457.2 309.5 L458.7 310.7 L446.3 328.9 L445.0 327.6Z" fill="#ee8c50"/>
<path d="M458.4 310.5 L459.9 311.7 L447.4 330.0 L446.1 328.6Z" fill="#ee8c50"/>
<path d="M459.6 311.4 L461.1 312.6 L448.5 331.0 L447.2 329.7Z" fill="#ee8c50"/>
<path d="M460.8 312.4 L462.3 313.6 L449.6 332.1 L448.3 330.7Z" fill="#ee8c50"/>
<path d="M67.0 372.3 L79.5 387.9 M68.2 371.1 L80.7 386.5 M69.4 369.8 L81.8 385.2 M70.6 368.5 L82.9 383.8 M71.8 367.3 L84.0 382.5 M73.0 366.0 L85.1 381.1 M74.2 364.8 L86.3 379.8 M75.4 363.5 L87.4 378.5 M76.6 362.3 L88.5 377.1 M77.8 361.0 L89.6 375.8 M79.0 359.8 L90.7 374.5 M80.2 358.5 L91.9 373.2 M81.5 357.3 L93.0 371.9 M82.7 356.1 L94.1 370.6 M83.9 354.8 L95.2 369.3 M85.1 353.6 L96.4 368.0 M86.3 352.4 L97.5 366.7 M87.5 351.1 L98.6 365.4 M88.7 349.9 L99.7 364.1 M89.9 348.7 L100.9 362.9 M91.1 347.5 L102.0 361.6 M92.3 346.2 L103.1 360.3 M93.5 345.0 L104.3 359.1 M94.7 343.8 L105.4 357.9 M95.9 342.6 L106.5 356.7 M97.1 341.4 L107.7 355.5 M98.3 340.2 L108.9 354.3 M99.5 339.0 L110.0 353.1 M100.7 337.9 L111.2 352.0 M101.9 336.7 L112.3 350.8 M103.1 335.5 L113.5 349.6 M104.3 334.3 L114.6 348.3 M105.5 333.2 L115.6 347.1 M106.7 332.0 L116.7 345.8 M107.9 330.9 L117.6 344.4 M109.1 329.7 L118.6 342.9 M110.4 328.6 L119.9 342.1 M111.6 327.4 L121.3 341.3 M112.8 326.3 L122.6 340.4 M114.0 325.2 L123.8 339.4 M115.2 324.1 L125.1 338.5 M116.4 323.0 L126.3 337.5 M117.6 321.9 L127.5 336.5 M118.8 320.8 L128.7 335.5 M120.0 319.7 L129.8 334.5 M121.2 318.6 L131.0 333.5 M122.4 317.5 L132.1 332.4 M123.6 316.5 L133.2 331.3 M124.8 315.4 L134.3 330.2 M126.0 314.3 L135.4 329.1 M127.2 313.3 L136.4 327.9 M128.4 312.3 L137.4 326.7 M129.6 311.2 L138.4 325.4 M130.8 310.2 L139.7 324.6 M132.0 309.2 L141.0 324.0 M133.2 308.2 L142.3 323.3 M134.4 307.2 L143.6 322.6 M135.6 306.2 L144.9 321.9 M136.8 305.2 L146.1 321.1 M138.1 304.2 L147.3 320.3 M139.3 303.2 L148.5 319.5 M140.5 302.3 L149.7 318.6 M141.7 301.3 L150.8 317.8 M142.9 300.4 L152.0 316.9 M144.1 299.4 L153.1 315.9 M145.3 298.5 L154.1 315.0 M146.5 297.6 L155.2 314.0 M147.7 296.7 L156.3 313.0 M148.9 295.8 L157.3 311.9 M150.1 294.9 L158.3 310.8 M151.3 294.0 L159.3 309.8 M152.5 293.1 L160.6 309.3 M153.7 292.2 L161.9 308.8 M154.9 291.4 L163.1 308.2 M156.1 290.5 L164.3 307.6 M157.3 289.7 L165.5 306.9 M158.5 288.8 L166.7 306.2 M159.7 288.0 L167.8 305.5 M160.9 287.2 L168.9 304.7 M162.1 286.4 L170.0 303.9 M163.3 285.5 L171.1 303.1 M164.5 284.7 L172.2 302.2 M165.8 284.0 L173.2 301.3 M167.0 283.2 L174.3 300.4 M168.2 282.4 L175.3 299.4 M169.4 281.6 L176.3 298.4 M170.6 280.9 L177.3 297.4 M171.8 280.1 L178.2 296.2 M173.0 279.4 L179.4 295.7 M174.2 278.7 L180.6 295.3 M175.4 277.9 L181.8 294.8 M176.6 277.2 L183.0 294.2 M177.8 276.5 L184.2 293.7 M179.0 275.8 L185.3 293.1 M180.2 275.1 L186.4 292.5 M181.4 274.4 L187.6 291.8 M182.6 273.7 L188.7 291.2 M183.8 273.1 L189.8 290.5 M185.0 272.4 L190.9 289.8 M186.2 271.7 L191.9 289.0 M187.4 271.1 L193.0 288.3 M188.6 270.5 L194.1 287.5 M189.8 269.8 L195.1 286.7 M191.0 269.2 L196.2 285.9 M192.2 268.6 L197.2 285.0 M193.4 268.0 L198.3 284.3 M194.7 267.4 L199.5 284.1 M195.9 266.8 L200.7 283.8 M197.1 266.2 L201.9 283.5 M198.3 265.6 L203.1 283.2 M199.5 265.0 L204.3 282.8 M200.7 264.5 L205.4 282.4 M201.9 263.9 L206.6 282.0 M203.1 263.4 L207.7 281.6 M204.3 262.8 L208.8 281.1 M205.5 262.3 L210.0 280.6 M206.7 261.8 L211.1 280.1 M207.9 261.2 L212.2 279.5 M209.1 260.7 L213.2 278.9 M210.3 260.2 L214.3 278.3 M211.5 259.7 L215.4 277.6 M212.7 259.2 L216.5 276.9 M213.9 258.7 L217.5 276.0 M215.1 258.3 L218.7 276.0 M216.3 257.8 L219.9 276.0 M217.5 257.3 L221.1 275.8 M218.7 256.9 L222.2 275.6 M219.9 256.4 L223.4 275.4 M221.1 256.0 L224.5 275.2 M222.4 255.6 L225.6 274.9 M223.6 255.1 L226.8 274.6 M224.8 254.7 L227.9 274.2 M226.0 254.3 L229.0 273.9 M227.2 253.9 L230.1 273.5 M228.4 253.5 L231.2 273.0 M229.6 253.1 L232.3 272.6 M230.8 252.7 L233.4 272.0 M232.0 252.4 L234.5 271.5 M233.2 252.0 L235.5 270.9 M234.4 251.6 L236.6 270.3 M235.6 251.3 L237.7 270.0 M236.8 251.0 L238.9 270.0 M238.0 250.6 L240.0 270.0 M239.2 250.3 L241.1 269.9 M240.4 250.0 L242.3 269.8 M241.6 249.7 L243.4 269.7 M242.8 249.3 L244.5 269.5 M244.0 249.0 L245.6 269.3 M245.2 248.8 L246.7 269.1 M246.4 248.5 L247.8 268.8 M247.6 248.2 L248.9 268.5 M248.8 247.9 L250.0 268.2 M250.0 247.7 L251.1 267.8 M251.3 247.4 L252.2 267.4 M252.5 247.2 L253.3 267.0 M253.7 246.9 L254.4 266.5 M254.9 246.7 L255.5 266.0 M256.1 246.5 L256.6 265.3 M257.3 246.3 L257.7 265.6 M258.5 246.0 L258.8 265.6 M259.7 245.8 L259.9 265.7 M260.9 245.6 L261.0 265.7 M262.1 245.5 L262.1 265.6 M263.3 245.3 L263.2 265.6 M264.5 245.1 L264.3 265.5 M265.7 245.0 L265.4 265.3 M266.9 244.8 L266.5 265.2 M268.1 244.6 L267.6 264.9 M269.3 244.5 L268.7 264.7 M270.5 244.4 L269.8 264.4 M271.7 244.3 L271.0 264.1 M272.9 244.1 L272.1 263.8 M274.1 244.0 L273.2 263.4 M275.3 243.9 L274.3 263.0 M276.5 243.8 L275.4 262.5 M277.7 243.7 L276.6 262.5 M279.0 243.7 L277.6 262.7 M280.2 243.6 L278.7 262.8 M281.4 243.5 L279.8 262.9 M282.6 243.5 L280.9 263.0 M283.8 243.4 L282.0 263.0 M285.0 243.4 L283.2 263.0 M286.2 243.3 L284.3 263.0 M287.4 243.3 L285.4 262.9 M288.6 243.3 L286.5 262.8 M289.8 243.3 L287.6 262.7 M291.0 243.3 L288.8 262.6 M292.2 243.3 L289.9 262.4 M293.4 243.3 L291.0 262.2 M294.6 243.3 L292.2 261.9 M295.8 243.3 L293.4 261.6 M297.0 243.3 L294.5 261.2 M298.2 243.4 L295.7 260.9 M299.4 243.4 L296.8 261.3 M300.6 243.5 L297.9 261.6 M301.8 243.5 L299.0 261.8 M303.0 243.6 L300.1 262.0 M304.2 243.7 L301.2 262.2 M305.4 243.7 L302.3 262.3 M306.6 243.8 L303.4 262.4 M307.9 243.9 L304.5 262.5 M309.1 244.0 L305.7 262.6 M310.3 244.1 L306.8 262.6 M311.5 244.2 L308.0 262.6 M312.7 244.3 L309.1 262.5 M313.9 244.5 L310.3 262.4 M315.1 244.6 L311.5 262.3 M316.3 244.7 L312.7 262.2 M317.5 244.9 L313.9 262.0 M318.7 245.0 L315.1 261.7 M319.9 245.2 L316.2 262.0 M321.1 245.4 L317.3 262.5 M322.3 245.5 L318.3 262.9 M323.5 245.7 L319.4 263.2 M324.7 245.9 L320.5 263.5 M325.9 246.1 L321.6 263.8 M327.1 246.3 L322.8 264.1 M328.3 246.5 L323.9 264.3 M329.5 246.7 L325.0 264.5 M330.7 246.9 L326.2 264.7 M331.9 247.1 L327.3 264.8 M333.1 247.4 L328.5 265.0 M334.3 247.6 L329.6 265.0 M335.6 247.9 L330.8 265.1 M336.8 248.1 L332.0 265.1 M338.0 248.4 L333.2 265.1 M339.2 248.6 L334.5 265.1 M340.4 248.9 L335.6 265.2 M341.6 249.2 L336.7 265.8 M342.8 249.5 L337.7 266.4 M344.0 249.8 L338.8 266.9 M345.2 250.1 L339.9 267.4 M346.4 250.4 L341.0 267.9 M347.6 250.7 L342.1 268.3 M348.8 251.0 L343.2 268.7 M350.0 251.3 L344.3 269.1 M351.2 251.7 L345.4 269.4 M352.4 252.0 L346.5 269.7 M353.6 252.3 L347.7 270.0 M354.8 252.7 L348.9 270.3 M356.0 253.1 L350.0 270.5 M357.2 253.4 L351.2 270.7 M358.4 253.8 L352.4 270.8 M359.6 254.2 L353.7 270.9 M360.8 254.6 L354.9 270.9 M362.0 255.0 L356.0 271.7 M363.2 255.4 L357.0 272.4 M364.5 255.8 L358.0 273.0 M365.7 256.2 L359.1 273.7 M366.9 256.6 L360.1 274.3 M368.1 257.0 L361.2 274.8 M369.3 257.5 L362.3 275.4 M370.5 257.9 L363.4 275.9 M371.7 258.4 L364.5 276.3 M372.9 258.8 L365.7 276.8 M374.1 259.3 L366.8 277.2 M375.3 259.8 L368.0 277.6 M376.5 260.3 L369.2 277.9 M377.7 260.7 L370.4 278.2 M378.9 261.2 L371.6 278.5 M380.1 261.7 L372.8 278.8 M381.3 262.2 L374.1 278.9 M382.5 262.8 L375.2 279.4 M383.7 263.3 L376.2 280.3 M384.9 263.8 L377.2 281.0 M386.1 264.4 L378.3 281.8 M387.3 264.9 L379.3 282.5 M388.5 265.5 L380.4 283.1 M389.7 266.0 L381.5 283.8 M390.9 266.6 L382.6 284.4 M392.2 267.2 L383.7 285.0 M393.4 267.8 L384.9 285.5 M394.6 268.4 L386.0 286.1 M395.8 269.0 L387.2 286.6 M397.0 269.6 L388.4 287.0 M398.2 270.2 L389.6 287.5 M399.4 270.8 L390.8 287.9 M400.6 271.5 L392.1 288.3 M401.8 272.1 L393.4 288.6 M403.0 272.8 L394.8 288.8 M404.2 273.4 L395.7 289.8 M405.4 274.1 L396.7 290.7 M406.6 274.8 L397.7 291.6 M407.8 275.5 L398.8 292.4 M409.0 276.2 L399.9 293.2 M410.2 276.9 L400.9 294.0 M411.4 277.6 L402.1 294.7 M412.6 278.3 L403.2 295.4 M413.8 279.0 L404.3 296.1 M415.0 279.8 L405.5 296.8 M416.2 280.5 L406.7 297.4 M417.4 281.2 L407.9 298.1 M418.6 282.0 L409.1 298.7 M419.9 282.7 L410.3 299.3 M421.1 283.5 L411.6 299.8 M422.3 284.3 L412.8 300.4 M423.5 285.1 L414.1 301.0 M424.7 285.9 L415.2 301.9 M425.9 286.7 L416.2 302.9 M427.1 287.5 L417.3 303.9 M428.3 288.3 L418.3 304.8 M429.5 289.1 L419.4 305.6 M430.7 289.9 L420.6 306.5 M431.9 290.7 L421.7 307.4 M433.1 291.6 L422.8 308.2 M434.3 292.4 L424.0 309.1 M435.5 293.3 L425.1 309.9 M436.7 294.1 L426.2 310.9 M437.9 295.0 L427.3 311.8 M439.1 295.9 L428.4 312.7 M440.3 296.7 L429.5 313.6 M441.5 297.6 L430.6 314.6 M442.7 298.5 L431.8 315.5 M443.9 299.4 L432.9 316.5 M445.1 300.3 L434.0 317.5 M446.3 301.2 L435.1 318.5 M447.5 302.1 L436.2 319.4 M448.8 303.0 L437.3 320.4 M450.0 303.9 L438.4 321.4 M451.2 304.8 L439.5 322.5 M452.4 305.8 L440.6 323.5 M453.6 306.7 L441.7 324.5 M454.8 307.6 L442.8 325.5 M456.0 308.6 L443.9 326.6 M457.2 309.5 L445.0 327.6 M458.4 310.5 L446.1 328.6 M459.6 311.4 L447.2 329.7 M460.8 312.4 L448.3 330.7 M462.0 313.3 L449.4 331.8" stroke="#dc8424" stroke-opacity="0.32" stroke-width="0.45" fill="none"/>
<path d="M69.1 375.0 L72.7 371.1 L76.3 367.3 L79.8 363.5 L83.4 359.8 L87.0 356.0 L90.6 352.3 L94.1 348.6 L97.7 345.0 L101.3 341.4 L104.9 337.9 L108.4 334.4 L112.0 330.9 L115.6 327.6 L119.3 324.4 L122.9 321.1 L126.4 317.9 L130.0 314.7 L133.6 311.7 L137.2 308.8 L140.8 306.0 L144.4 303.2 L148.0 300.4 L151.5 297.6 L155.1 295.0 L158.7 292.6 L162.3 290.1 L165.8 287.7 L169.4 285.3 L172.9 282.9 L176.5 280.8 L180.1 278.7 L183.6 276.7 L187.2 274.7 L190.7 272.7 L194.3 270.7 L197.9 269.1 L201.5 267.5 L205.1 265.9 L208.6 264.3 L212.2 262.8 L215.7 261.3 L219.3 260.1 L222.9 258.8 L226.5 257.6 L230.0 256.4 L233.6 255.2 L237.2 254.2 L240.7 253.3 L244.3 252.5 L247.9 251.7 L251.4 250.8 L255.0 250.0 L258.5 249.4 L262.1 248.9 L265.7 248.4 L269.2 247.9 L272.8 247.5 L276.4 247.0 L279.9 246.9 L283.5 246.8 L287.0 246.7 L290.6 246.6 L294.2 246.5 L297.8 246.4 L301.3 246.6 L304.9 246.9 L308.5 247.2 L312.1 247.4 L315.7 247.7 L319.3 248.1 L322.8 248.7 L326.4 249.3 L330.0 249.9 L333.5 250.6 L337.2 251.2 L340.7 252.0 L344.3 253.0 L347.8 254.0 L351.4 255.0 L355.0 256.0 L358.6 257.0 L362.2 258.3 L365.7 259.6 L369.3 261.0 L372.9 262.3 L376.5 263.7 L380.1 265.1 L383.6 266.8 L387.2 268.5 L390.7 270.2 L394.3 272.0 L397.9 273.7 L401.6 275.5 L405.1 277.6 L408.6 279.8 L412.2 281.9 L415.8 284.1 L419.4 286.3 L423.1 288.6 L426.6 291.1 L430.2 293.6 L433.7 296.1 L437.3 298.7 L440.9 301.4 L444.4 304.1 L448.0 306.9 L451.5 309.7 L455.1 312.6 L458.7 315.5" stroke="#f0a040" stroke-opacity="0.22" stroke-width="0.4" fill="none"/>
<path d="M71.1 377.5 L74.7 373.6 L78.2 369.7 L81.7 365.9 L85.3 362.1 L88.8 358.3 L92.3 354.6 L95.9 350.9 L99.4 347.3 L103.0 343.7 L106.5 340.1 L110.0 336.6 L113.5 333.0 L117.2 329.9 L120.9 326.7 L124.4 323.5 L127.9 320.3 L131.4 317.0 L135.0 314.1 L138.7 311.4 L142.3 308.6 L145.9 305.8 L149.4 303.0 L152.8 300.1 L156.4 297.7 L160.0 295.3 L163.6 293.0 L167.1 290.5 L170.5 288.0 L173.9 285.4 L177.5 283.5 L181.1 281.5 L184.6 279.5 L188.1 277.5 L191.6 275.4 L195.1 273.4 L198.7 271.9 L202.2 270.4 L205.8 268.9 L209.3 267.3 L212.8 265.6 L216.3 264.1 L219.9 263.1 L223.4 261.9 L227.0 260.8 L230.5 259.5 L234.0 258.2 L237.5 257.2 L241.0 256.5 L244.6 255.7 L248.1 254.9 L251.6 254.0 L255.1 253.0 L258.6 252.5 L262.1 252.1 L265.6 251.7 L269.1 251.2 L272.6 250.6 L276.2 250.0 L279.7 249.9 L283.2 249.9 L286.7 249.8 L290.3 249.6 L293.8 249.4 L297.4 249.2 L300.9 249.6 L304.4 249.9 L307.9 250.1 L311.5 250.3 L315.1 250.5 L318.7 250.8 L322.2 251.5 L325.7 252.2 L329.2 252.8 L332.8 253.4 L336.4 253.9 L340.0 254.7 L343.4 255.8 L346.9 256.8 L350.5 257.8 L354.0 258.8 L357.7 259.7 L361.2 261.0 L364.6 262.4 L368.1 263.8 L371.7 265.2 L375.3 266.5 L378.9 267.8 L382.4 269.5 L385.9 271.3 L389.4 273.1 L392.9 274.8 L396.6 276.5 L400.3 278.1 L403.7 280.3 L407.2 282.5 L410.7 284.7 L414.3 286.8 L417.9 288.9 L421.5 291.1 L425.0 293.7 L428.5 296.2 L432.1 298.8 L435.6 301.4 L439.1 304.1 L442.6 306.9 L446.1 309.7 L449.6 312.6 L453.2 315.5 L456.7 318.4" stroke="#f0a040" stroke-opacity="0.22" stroke-width="0.4" fill="none"/>
<path d="M73.3 380.1 L76.8 376.2 L80.2 372.3 L83.7 368.4 L87.2 364.6 L90.7 360.8 L94.2 357.0 L97.7 353.3 L101.2 349.6 L104.8 346.1 L108.3 342.5 L111.7 338.9 L115.1 335.4 L118.9 332.3 L122.5 329.2 L126.1 326.0 L129.6 322.8 L132.9 319.5 L136.5 316.6 L140.3 314.0 L143.9 311.4 L147.4 308.6 L150.8 305.8 L154.2 302.8 L157.8 300.5 L161.4 298.3 L164.9 295.9 L168.4 293.5 L171.7 290.9 L175.0 288.2 L178.6 286.4 L182.2 284.4 L185.6 282.4 L189.1 280.4 L192.5 278.3 L195.9 276.1 L199.5 274.9 L203.1 273.5 L206.6 272.0 L210.0 270.4 L213.5 268.7 L216.9 267.2 L220.5 266.3 L224.0 265.2 L227.5 264.1 L230.9 262.8 L234.4 261.5 L237.8 260.5 L241.3 259.9 L244.8 259.2 L248.3 258.4 L251.7 257.4 L255.2 256.3 L258.6 255.8 L262.1 255.6 L265.6 255.1 L269.0 254.6 L272.5 254.0 L276.0 253.2 L279.4 253.2 L282.9 253.2 L286.4 253.1 L289.9 252.9 L293.4 252.6 L297.0 252.2 L300.4 252.7 L303.9 253.0 L307.4 253.3 L310.9 253.4 L314.5 253.5 L318.0 253.6 L321.5 254.5 L324.9 255.2 L328.4 255.8 L332.0 256.3 L335.6 256.8 L339.1 257.5 L342.5 258.7 L346.0 259.8 L349.5 260.9 L353.0 261.8 L356.7 262.6 L360.1 263.9 L363.5 265.4 L366.9 266.9 L370.5 268.2 L374.0 269.5 L377.7 270.6 L381.1 272.4 L384.5 274.3 L387.9 276.1 L391.5 277.8 L395.1 279.4 L398.9 280.8 L402.2 283.2 L405.6 285.4 L409.1 287.6 L412.7 289.7 L416.3 291.7 L419.9 293.9 L423.3 296.5 L426.8 299.0 L430.3 301.6 L433.8 304.3 L437.2 307.0 L440.7 309.8 L444.2 312.7 L447.6 315.6 L451.1 318.6 L454.5 321.6" stroke="#f0a040" stroke-opacity="0.22" stroke-width="0.4" fill="none"/>
<path d="M75.4 382.7 L78.8 378.8 L82.3 374.8 L85.7 370.9 L89.2 367.1 L92.6 363.2 L96.1 359.4 L99.6 355.7 L103.0 352.0 L106.6 348.5 L110.1 344.9 L113.4 341.2 L116.8 337.7 L120.6 334.7 L124.2 331.7 L127.8 328.6 L131.2 325.3 L134.5 321.9 L138.1 319.1 L141.8 316.7 L145.5 314.1 L149.0 311.4 L152.3 308.6 L155.6 305.5 L159.2 303.3 L162.8 301.2 L166.3 298.9 L169.7 296.5 L172.9 293.8 L176.1 290.9 L179.7 289.2 L183.2 287.4 L186.7 285.4 L190.1 283.3 L193.4 281.1 L196.7 278.9 L200.3 277.8 L203.9 276.5 L207.3 275.1 L210.8 273.5 L214.1 271.7 L217.5 270.2 L221.1 269.4 L224.6 268.5 L228.0 267.4 L231.4 266.1 L234.8 264.7 L238.2 263.7 L241.7 263.3 L245.1 262.6 L248.5 261.8 L251.9 260.8 L255.3 259.6 L258.7 259.2 L262.1 259.0 L265.5 258.6 L268.9 258.0 L272.4 257.3 L275.8 256.3 L279.2 256.5 L282.6 256.6 L286.0 256.5 L289.5 256.2 L293.0 255.8 L296.5 255.1 L299.9 255.8 L303.3 256.2 L306.8 256.4 L310.3 256.5 L313.9 256.4 L317.4 256.5 L320.8 257.4 L324.2 258.2 L327.7 258.8 L331.2 259.3 L334.8 259.6 L338.3 260.3 L341.6 261.7 L345.0 262.9 L348.5 263.9 L352.0 264.7 L355.6 265.4 L359.0 266.8 L362.4 268.4 L365.7 269.9 L369.2 271.3 L372.8 272.5 L376.5 273.4 L379.8 275.4 L383.1 277.3 L386.5 279.1 L390.0 280.8 L393.6 282.3 L397.5 283.5 L400.7 286.0 L404.0 288.3 L407.5 290.5 L411.0 292.5 L414.7 294.4 L418.3 296.6 L421.6 299.3 L425.1 301.9 L428.5 304.4 L432.0 307.1 L435.4 309.9 L438.8 312.8 L442.2 315.7 L445.6 318.6 L449.0 321.6 L452.4 324.7" stroke="#f0a040" stroke-opacity="0.22" stroke-width="0.4" fill="none"/>
<path d="M77.4 385.2 L80.8 381.2 L84.2 377.2 L87.6 373.3 L91.0 369.4 L94.4 365.5 L97.9 361.7 L101.3 357.9 L104.7 354.3 L108.3 350.7 L111.7 347.2 L115.0 343.4 L118.3 339.8 L122.1 337.0 L125.8 334.1 L129.3 330.9 L132.7 327.7 L135.9 324.3 L139.5 321.5 L143.3 319.2 L146.9 316.7 L150.4 314.1 L153.7 311.2 L156.9 308.1 L160.5 306.0 L164.1 304.0 L167.6 301.7 L170.9 299.3 L174.1 296.5 L177.1 293.5 L180.7 291.9 L184.2 290.1 L187.6 288.2 L191.0 286.1 L194.2 283.8 L197.5 281.5 L201.1 280.6 L204.6 279.4 L208.1 278.0 L211.4 276.4 L214.7 274.6 L218.1 273.0 L221.6 272.4 L225.1 271.6 L228.5 270.5 L231.8 269.3 L235.1 267.7 L238.5 266.8 L242.0 266.5 L245.3 265.9 L248.7 265.1 L252.0 264.0 L255.4 262.7 L258.8 262.3 L262.1 262.2 L265.5 261.9 L268.8 261.3 L272.2 260.4 L275.6 259.3 L279.0 259.6 L282.3 259.7 L285.7 259.6 L289.1 259.3 L292.6 258.7 L296.1 258.0 L299.5 258.7 L302.8 259.2 L306.3 259.4 L309.7 259.4 L313.3 259.2 L316.8 259.2 L320.1 260.2 L323.5 261.1 L326.9 261.7 L330.4 262.1 L334.0 262.3 L337.5 263.0 L340.8 264.5 L344.1 265.7 L347.5 266.7 L351.1 267.5 L354.7 268.1 L358.0 269.5 L361.3 271.3 L364.6 272.8 L368.1 274.1 L371.6 275.3 L375.3 276.1 L378.5 278.1 L381.8 280.1 L385.2 282.0 L388.6 283.6 L392.3 285.0 L396.2 286.0 L399.2 288.7 L402.5 291.1 L405.9 293.2 L409.5 295.2 L413.2 297.1 L416.8 299.2 L420.0 302.0 L423.4 304.5 L426.9 307.1 L430.2 309.8 L433.6 312.6 L437.0 315.5 L440.3 318.5 L443.7 321.5 L447.0 324.5 L450.4 327.6" stroke="#f0a040" stroke-opacity="0.22" stroke-width="0.4" fill="none"/>
<path d="M67.0 372.3 L69.4 369.8 L71.8 367.3 L74.2 364.8 L76.6 362.3 L79.0 359.8 L81.5 357.3 L83.9 354.8 L86.3 352.4 L88.7 349.9 L91.1 347.5 L93.5 345.0 L95.9 342.6 L98.3 340.2 L100.7 337.9 L103.1 335.5 L105.5 333.2 L107.9 330.9 L110.4 328.6 L112.8 326.3 L115.2 324.1 L117.6 321.9 L120.0 319.7 L122.4 317.5 L124.8 315.4 L127.2 313.3 L129.6 311.2 L132.0 309.2 L134.4 307.2 L136.8 305.2 L139.3 303.2 L141.7 301.3 L144.1 299.4 L146.5 297.6 L148.9 295.8 L151.3 294.0 L153.7 292.2 L156.1 290.5 L158.5 288.8 L160.9 287.2 L163.3 285.5 L165.8 284.0 L168.2 282.4 L170.6 280.9 L173.0 279.4 L175.4 277.9 L177.8 276.5 L180.2 275.1 L182.6 273.7 L185.0 272.4 L187.4 271.1 L189.8 269.8 L192.2 268.6 L194.7 267.4 L197.1 266.2 L199.5 265.0 L201.9 263.9 L204.3 262.8 L206.7 261.8 L209.1 260.7 L211.5 259.7 L213.9 258.7 L216.3 257.8 L218.7 256.9 L221.1 256.0 L223.6 255.1 L226.0 254.3 L228.4 253.5 L230.8 252.7 L233.2 252.0 L235.6 251.3 L238.0 250.6 L240.4 250.0 L242.8 249.3 L245.2 248.8 L247.6 248.2 L250.0 247.7 L252.5 247.2 L254.9 246.7 L257.3 246.3 L259.7 245.8 L262.1 245.5 L264.5 245.1 L266.9 244.8 L269.3 244.5 L271.7 244.3 L274.1 244.0 L276.5 243.8 L279.0 243.7 L281.4 243.5 L283.8 243.4 L286.2 243.3 L288.6 243.3 L291.0 243.3 L293.4 243.3 L295.8 243.3 L298.2 243.4 L300.6 243.5 L303.0 243.6 L305.4 243.7 L307.9 243.9 L310.3 244.1 L312.7 244.3 L315.1 244.6 L317.5 244.9 L319.9 245.2 L322.3 245.5 L324.7 245.9 L327.1 246.3 L329.5 246.7 L331.9 247.1 L334.3 247.6 L336.8 248.1 L339.2 248.6 L341.6 249.2 L344.0 249.8 L346.4 250.4 L348.8 251.0 L351.2 251.7 L353.6 252.3 L356.0 253.1 L358.4 253.8 L360.8 254.6 L363.2 255.4 L365.7 256.2 L368.1 257.0 L370.5 257.9 L372.9 258.8 L375.3 259.8 L377.7 260.7 L380.1 261.7 L382.5 262.8 L384.9 263.8 L387.3 264.9 L389.7 266.0 L392.2 267.2 L394.6 268.4 L397.0 269.6 L399.4 270.8 L401.8 272.1 L404.2 273.4 L406.6 274.8 L409.0 276.2 L411.4 277.6 L413.8 279.0 L416.2 280.5 L418.6 282.0 L421.1 283.5 L423.5 285.1 L425.9 286.7 L428.3 288.3 L430.7 289.9 L433.1 291.6 L435.5 293.3 L437.9 295.0 L440.3 296.7 L442.7 298.5 L445.1 300.3 L447.5 302.1 L450.0 303.9 L452.4 305.8 L454.8 307.6 L457.2 309.5 L459.6 311.4 L462.0 313.3" stroke="#6258b0" stroke-width="0.85" fill="none"/>
<path d="M67.0 372.3 L67.9 371.4 L68.7 370.5 L69.6 369.6 L70.5 368.7 L71.3 367.8 L72.2 366.9 L73.1 366.0 L73.9 365.1 L74.8 364.2 L75.7 363.3 L76.6 362.4 L77.4 361.5 L78.3 360.6 L79.2 359.7 L80.0 358.8 L80.9 357.9 L81.8 357.0 L82.6 356.1 L83.5 355.2 L94.9 369.6 L94.1 370.6 L93.3 371.5 L92.5 372.5 L91.7 373.4 L90.9 374.4 L90.0 375.3 L89.2 376.3 L88.4 377.2 L87.6 378.2 L86.8 379.1 L86.0 380.1 L85.2 381.1 L84.4 382.0 L83.6 383.0 L82.8 384.0 L82.0 385.0 L81.1 385.9 L80.3 386.9 L79.5 387.9Z" fill="#e4a084"/>
<path d="M67.0 372.3 L79.5 387.9 M68.7 370.5 L81.1 385.9 M70.5 368.7 L82.8 384.0 M72.2 366.9 L84.4 382.0 M73.9 365.1 L86.0 380.1 M75.7 363.3 L87.6 378.2 M77.4 361.5 L89.2 376.3 M79.2 359.7 L90.9 374.4 M80.9 357.9 L92.5 372.5 M82.6 356.1 L94.1 370.6 M67.8 373.3 L70.3 370.5 L72.9 367.8 L75.5 365.1 L78.1 362.4 L80.7 359.6 L83.3 357.0 M69.0 374.8 L71.6 372.0 L74.1 369.3 L76.7 366.5 L79.3 363.8 L81.9 361.1 L84.4 358.4 M70.2 376.3 L72.8 373.5 L75.3 370.8 L77.9 368.0 L80.4 365.3 L83.0 362.5 L85.6 359.8 M71.4 377.8 L74.0 375.0 L76.5 372.2 L79.1 369.5 L81.6 366.7 L84.1 363.9 L86.7 361.2 M72.7 379.3 L75.2 376.5 L77.7 373.7 L80.2 370.9 L82.8 368.1 L85.3 365.4 L87.8 362.6 M73.9 380.9 L76.4 378.0 L78.9 375.2 L81.4 372.4 L83.9 369.6 L86.4 366.8 L88.9 364.0 M75.1 382.4 L77.6 379.5 L80.1 376.7 L82.6 373.9 L85.1 371.0 L87.6 368.2 L90.0 365.5 M76.3 383.9 L78.8 381.0 L81.3 378.2 L83.7 375.3 L86.2 372.5 L88.7 369.7 L91.2 366.9 M77.6 385.4 L80.0 382.5 L82.5 379.7 L84.9 376.8 L87.4 373.9 L89.8 371.1 L92.3 368.3 M78.8 386.9 L81.2 384.0 L83.7 381.1 L86.1 378.2 L88.5 375.4 L91.0 372.5 L93.4 369.7" stroke="#d83c28" stroke-opacity="0.68" stroke-width="0.5" fill="none"/>
<path d="M67.0 372.3 L67.9 371.4 L68.7 370.5 L69.6 369.6 L70.5 368.7 L71.3 367.8 L72.2 366.9 L73.1 366.0 L73.9 365.1 L74.8 364.2 L75.7 363.3 L76.6 362.4 L77.4 361.5 L78.3 360.6 L79.2 359.7 L80.0 358.8 L80.9 357.9 L81.8 357.0 L82.6 356.1 L83.5 355.2" stroke="#7a5ab0" stroke-width="0.8" fill="none"/>
<path d="M83.5 355.2 L94.9 369.6 M85.3 353.4 L96.6 367.7 M87.1 351.5 L98.2 365.8 M88.9 349.7 L99.9 363.9 M90.6 347.9 L101.6 362.1 M92.4 346.1 L103.3 360.2 M94.2 344.3 L104.9 358.4 M96.0 342.5 L106.6 356.6 M84.2 356.1 L86.9 353.3 L89.5 350.6 L92.2 347.9 L94.9 345.2 M85.3 357.5 L88.0 354.7 L90.6 352.0 L93.3 349.2 L95.9 346.5 M86.4 358.9 L89.0 356.1 L91.7 353.4 L94.3 350.6 L97.0 347.9 M87.5 360.3 L90.1 357.5 L92.8 354.7 L95.4 352.0 L98.0 349.3 M88.6 361.7 L91.2 358.9 L93.8 356.1 L96.4 353.4 L99.1 350.6 M89.8 363.1 L92.3 360.3 L94.9 357.5 L97.5 354.8 L100.1 352.0 M90.9 364.5 L93.4 361.7 L96.0 358.9 L98.6 356.1 L101.1 353.4 M92.0 366.0 L94.5 363.1 L97.1 360.3 L99.6 357.5 L102.2 354.8 M93.1 367.4 L95.6 364.5 L98.2 361.7 L100.7 358.9 L103.2 356.1 M94.2 368.8 L96.7 365.9 L99.2 363.1 L101.8 360.3 L104.3 357.5" stroke="#ee7a28" stroke-opacity="0.50" stroke-width="0.5" fill="none"/>
<path d="M83.5 355.2 L84.4 354.3 L85.3 353.4 L86.2 352.4 L87.1 351.5 L88.0 350.6 L88.9 349.7 L89.8 348.8 L90.6 347.9 L91.5 347.0 L92.4 346.1 L93.3 345.2 L94.2 344.3 L95.1 343.4 L96.0 342.5" stroke="#7a5ab0" stroke-width="0.8" fill="none"/>
<path d="M439.0 295.8 L439.9 296.4 L440.8 297.1 L441.7 297.7 L442.5 298.4 L443.4 299.0 L444.3 299.7 L445.2 300.3 L446.1 301.0 L447.0 301.6 L447.8 302.3 L448.7 303.0 L449.6 303.7 L450.5 304.3 L451.4 305.0 L452.3 305.7 L453.2 306.4 L454.0 307.1 L454.9 307.8 L455.8 308.4 L456.7 309.1 L457.6 309.8 L458.5 310.5 L459.3 311.2 L460.2 311.9 L461.1 312.6 L462.0 313.3 L449.4 331.8 L448.6 331.0 L447.7 330.3 L446.9 329.5 L446.1 328.7 L445.3 327.9 L444.5 327.2 L443.7 326.4 L442.9 325.6 L442.1 324.9 L441.3 324.1 L440.5 323.4 L439.7 322.6 L438.9 321.9 L438.1 321.2 L437.2 320.4 L436.4 319.7 L435.6 319.0 L434.8 318.2 L434.0 317.5 L433.2 316.8 L432.4 316.1 L431.6 315.4 L430.8 314.7 L430.0 314.0 L429.1 313.3 L428.3 312.6Z" fill="#e4a084"/>
<path d="M439.0 295.8 L428.3 312.6 M440.8 297.1 L430.0 314.0 M442.5 298.4 L431.6 315.4 M444.3 299.7 L433.2 316.8 M446.1 301.0 L434.8 318.2 M447.8 302.3 L436.4 319.7 M449.6 303.7 L438.1 321.2 M451.4 305.0 L439.7 322.6 M453.2 306.4 L441.3 324.1 M454.9 307.8 L442.9 325.6 M456.7 309.1 L444.5 327.2 M458.5 310.5 L446.1 328.7 M460.2 311.9 L447.7 330.3 M462.0 313.3 L449.4 331.8 M438.4 296.8 L441.0 298.7 L443.6 300.7 L446.3 302.7 L448.9 304.7 L451.6 306.8 L454.2 308.8 L456.8 310.9 L459.5 313.0 M437.3 298.4 L439.9 300.4 L442.6 302.4 L445.2 304.4 L447.8 306.4 L450.4 308.5 L453.0 310.6 L455.6 312.7 L458.3 314.8 M436.3 300.1 L438.9 302.0 L441.5 304.0 L444.1 306.1 L446.7 308.1 L449.3 310.2 L451.9 312.3 L454.4 314.5 L457.0 316.6 M435.2 301.7 L437.8 303.7 L440.4 305.7 L443.0 307.8 L445.5 309.8 L448.1 311.9 L450.7 314.1 L453.2 316.2 L455.8 318.4 M434.2 303.4 L436.7 305.4 L439.3 307.4 L441.9 309.5 L444.4 311.6 L447.0 313.7 L449.5 315.8 L452.0 318.0 L454.6 320.2 M433.1 305.0 L435.7 307.0 L438.2 309.1 L440.7 311.1 L443.3 313.3 L445.8 315.4 L448.3 317.6 L450.9 319.8 L453.4 322.0 M432.1 306.7 L434.6 308.7 L437.1 310.7 L439.6 312.8 L442.1 315.0 L444.6 317.1 L447.1 319.3 L449.7 321.5 L452.2 323.8 M431.1 308.3 L433.5 310.3 L436.0 312.4 L438.5 314.5 L441.0 316.7 L443.5 318.9 L446.0 321.1 L448.5 323.3 L450.9 325.6 M430.0 309.9 L432.5 312.0 L435.0 314.1 L437.4 316.2 L439.9 318.4 L442.3 320.6 L444.8 322.8 L447.3 325.1 L449.7 327.4 M429.0 311.6 L431.4 313.7 L433.9 315.8 L436.3 317.9 L438.8 320.1 L441.2 322.3 L443.6 324.6 L446.1 326.9 L448.5 329.2" stroke="#d83c28" stroke-opacity="0.68" stroke-width="0.5" fill="none"/>
<path d="M439.0 295.8 L439.9 296.4 L440.8 297.1 L441.7 297.7 L442.5 298.4 L443.4 299.0 L444.3 299.7 L445.2 300.3 L446.1 301.0 L447.0 301.6 L447.8 302.3 L448.7 303.0 L449.6 303.7 L450.5 304.3 L451.4 305.0 L452.3 305.7 L453.2 306.4 L454.0 307.1 L454.9 307.8 L455.8 308.4 L456.7 309.1 L457.6 309.8 L458.5 310.5 L459.3 311.2 L460.2 311.9 L461.1 312.6 L462.0 313.3" stroke="#7a5ab0" stroke-width="0.8" fill="none"/>
<path d="M58.2 381.7 L67 373.2 L75.5 383.1 L67 393Z" fill="#f6f45a"/>
<path d="M58.2 381.7 L67 373.2" stroke="#7a6ab0" stroke-width="0.8"/>
<path d="M462 313.7 L470.8 319.9 L462 332.3 L453.1 326Z" fill="#f6f45a"/>
</g>
<rect x="473.0" y="16.70" width="13.6" height="12.43" fill="#0000dc"/>
<rect x="473.0" y="29.03" width="13.6" height="12.43" fill="#00ffff"/>
<rect x="473.0" y="41.35" width="13.6" height="12.43" fill="#00ff6e"/>
<rect x="473.0" y="53.68" width="13.6" height="12.43" fill="#00f500"/>
<rect x="473.0" y="66.01" width="13.6" height="12.43" fill="#6efa00"/>
<rect x="473.0" y="78.34" width="13.6" height="12.43" fill="#aaf500"/>
<rect x="473.0" y="90.66" width="13.6" height="12.43" fill="#e1f000"/>
<rect x="473.0" y="102.99" width="13.6" height="12.43" fill="#ffff00"/>
<rect x="473.0" y="115.32" width="13.6" height="12.43" fill="#ffaa00"/>
<rect x="473.0" y="127.65" width="13.6" height="12.43" fill="#ff6e00"/>
<rect x="473.0" y="139.97" width="13.6" height="12.43" fill="#ff2800"/>
<path d="M473.0 16.7 V152.3 M486.6 16.7 V152.3" stroke="#222" stroke-width="0.7" fill="none"/>
<path d="M472.7 16.70 H488.8" stroke="#222" stroke-width="0.7"/>
<text x="502.4" y="20.10" text-anchor="middle" font-size="6.2" fill="#111" stroke="#111" stroke-width="0.12">13.92</text>
<path d="M472.7 29.03 H488.8" stroke="#222" stroke-width="0.7"/>
<text x="502.4" y="32.43" text-anchor="middle" font-size="6.2" fill="#111" stroke="#111" stroke-width="0.12">11.29</text>
<path d="M472.7 41.35 H488.8" stroke="#222" stroke-width="0.7"/>
<text x="502.4" y="44.75" text-anchor="middle" font-size="6.2" fill="#111" stroke="#111" stroke-width="0.12">8.65</text>
<path d="M472.7 53.68 H488.8" stroke="#222" stroke-width="0.7"/>
<text x="502.4" y="57.08" text-anchor="middle" font-size="6.2" fill="#111" stroke="#111" stroke-width="0.12">6.02</text>
<path d="M472.7 66.01 H488.8" stroke="#222" stroke-width="0.7"/>
<text x="502.4" y="69.41" text-anchor="middle" font-size="6.2" fill="#111" stroke="#111" stroke-width="0.12">3.38</text>
<path d="M472.7 78.34 H488.8" stroke="#222" stroke-width="0.7"/>
<text x="502.4" y="81.74" text-anchor="middle" font-size="6.2" fill="#111" stroke="#111" stroke-width="0.12">0.00</text>
<path d="M472.7 90.66 H488.8" stroke="#222" stroke-width="0.7"/>
<text x="502.4" y="94.06" text-anchor="middle" font-size="6.2" fill="#111" stroke="#111" stroke-width="0.12">−1.89</text>
<path d="M472.7 102.99 H488.8" stroke="#222" stroke-width="0.7"/>
<text x="502.4" y="106.39" text-anchor="middle" font-size="6.2" fill="#111" stroke="#111" stroke-width="0.12">−4.53</text>
<path d="M472.7 115.32 H488.8" stroke="#222" stroke-width="0.7"/>
<text x="502.4" y="118.72" text-anchor="middle" font-size="6.2" fill="#111" stroke="#111" stroke-width="0.12">−7.16</text>
<path d="M472.7 127.65 H488.8" stroke="#222" stroke-width="0.7"/>
<text x="502.4" y="131.05" text-anchor="middle" font-size="6.2" fill="#111" stroke="#111" stroke-width="0.12">−9.80</text>
<path d="M472.7 139.97 H488.8" stroke="#222" stroke-width="0.7"/>
<text x="502.4" y="143.37" text-anchor="middle" font-size="6.2" fill="#111" stroke="#111" stroke-width="0.12">−12.43</text>
<path d="M472.7 152.30 H488.8" stroke="#222" stroke-width="0.7"/>
<text x="502.4" y="155.70" text-anchor="middle" font-size="6.2" fill="#111" stroke="#111" stroke-width="0.12">−15.07</text>
<text x="491.8" y="11.2" text-anchor="middle" font-size="6.8" fill="#1a1a1a" stroke="#1a1a1a" stroke-width="0.1">(Unit: N/mm<tspan font-size="4.2" dy="-2.3">2</tspan><tspan dy="2.3">)</tspan></text>
<text x="472.6" y="162.0" font-family="DejaVu Sans, Liberation Sans, sans-serif" font-size="6.2" fill="#e89898">X:-0.483</text>
<text x="472.6" y="174.1" font-family="DejaVu Sans, Liberation Sans, sans-serif" font-size="6.2" fill="#9ae89a">Y:-0.837</text>
<text x="472.6" y="186.0" font-family="DejaVu Sans, Liberation Sans, sans-serif" font-size="6.2" fill="#8080c8">Z: 0.259</text>
<path d="M527.0 174.7 V162.7" stroke="#0404e4" stroke-width="2.6"/>
<path d="M527.0 158.1 l-2.9 5.4 h5.8z" fill="#0404e4"/>
<path d="M527.0 174.3 L537.0 173.1" stroke="#e41414" stroke-width="2.2"/>
<path d="M541.2 172.5 l-5.4 -1.6 l0.5 4.4z" fill="#e41414"/>
<path d="M524.4 172.7 L522.0 169.5 L518.4 170.9 L521.0 174.5 Z" fill="#14a038"/>
<circle cx="527.0" cy="174.7" r="2.8" fill="#ff80f0"/>
<rect x="474.6" y="228.00" width="14.0" height="11.98" fill="#0000dc"/>
<rect x="474.6" y="239.88" width="14.0" height="11.98" fill="#00ffff"/>
<rect x="474.6" y="251.76" width="14.0" height="11.98" fill="#00ff6e"/>
<rect x="474.6" y="263.65" width="14.0" height="11.98" fill="#00f500"/>
<rect x="474.6" y="275.53" width="14.0" height="11.98" fill="#6efa00"/>
<rect x="474.6" y="287.41" width="14.0" height="11.98" fill="#aaf500"/>
<rect x="474.6" y="299.29" width="14.0" height="11.98" fill="#e1f000"/>
<rect x="474.6" y="311.17" width="14.0" height="11.98" fill="#ffff00"/>
<rect x="474.6" y="323.05" width="14.0" height="11.98" fill="#ffaa00"/>
<rect x="474.6" y="334.94" width="14.0" height="11.98" fill="#ff6e00"/>
<rect x="474.6" y="346.82" width="14.0" height="11.98" fill="#ff2800"/>
<path d="M474.6 228.0 V358.7 M488.6 228.0 V358.7" stroke="#222" stroke-width="0.7" fill="none"/>
<path d="M474.3 228.00 H490.8" stroke="#222" stroke-width="0.7"/>
<text x="503.8" y="229.90" text-anchor="middle" font-size="6.2" fill="#111" stroke="#111" stroke-width="0.12">−0.34</text>
<path d="M474.3 239.88 H490.8" stroke="#222" stroke-width="0.7"/>
<text x="503.8" y="241.78" text-anchor="middle" font-size="6.2" fill="#111" stroke="#111" stroke-width="0.12">−7.09</text>
<path d="M474.3 251.76 H490.8" stroke="#222" stroke-width="0.7"/>
<text x="503.8" y="253.66" text-anchor="middle" font-size="6.2" fill="#111" stroke="#111" stroke-width="0.12">−13.84</text>
<path d="M474.3 263.65 H490.8" stroke="#222" stroke-width="0.7"/>
<text x="503.8" y="265.55" text-anchor="middle" font-size="6.2" fill="#111" stroke="#111" stroke-width="0.12">−20.59</text>
<path d="M474.3 275.53 H490.8" stroke="#222" stroke-width="0.7"/>
<text x="503.8" y="277.43" text-anchor="middle" font-size="6.2" fill="#111" stroke="#111" stroke-width="0.12">−27.34</text>
<path d="M474.3 287.41 H490.8" stroke="#222" stroke-width="0.7"/>
<text x="503.8" y="289.31" text-anchor="middle" font-size="6.2" fill="#111" stroke="#111" stroke-width="0.12">−34.09</text>
<path d="M474.3 299.29 H490.8" stroke="#222" stroke-width="0.7"/>
<text x="503.8" y="301.19" text-anchor="middle" font-size="6.2" fill="#111" stroke="#111" stroke-width="0.12">−40.84</text>
<path d="M474.3 311.17 H490.8" stroke="#222" stroke-width="0.7"/>
<text x="503.8" y="313.07" text-anchor="middle" font-size="6.2" fill="#111" stroke="#111" stroke-width="0.12">−47.59</text>
<path d="M474.3 323.05 H490.8" stroke="#222" stroke-width="0.7"/>
<text x="503.8" y="324.95" text-anchor="middle" font-size="6.2" fill="#111" stroke="#111" stroke-width="0.12">−54.34</text>
<path d="M474.3 334.94 H490.8" stroke="#222" stroke-width="0.7"/>
<text x="503.8" y="336.84" text-anchor="middle" font-size="6.2" fill="#111" stroke="#111" stroke-width="0.12">−61.10</text>
<path d="M474.3 346.82 H490.8" stroke="#222" stroke-width="0.7"/>
<text x="503.8" y="348.72" text-anchor="middle" font-size="6.2" fill="#111" stroke="#111" stroke-width="0.12">−67.85</text>
<path d="M474.3 358.70 H490.8" stroke="#222" stroke-width="0.7"/>
<text x="503.8" y="360.60" text-anchor="middle" font-size="6.2" fill="#111" stroke="#111" stroke-width="0.12">−74.60</text>
<text x="493.5" y="221.2" text-anchor="middle" font-size="6.8" fill="#1a1a1a" stroke="#1a1a1a" stroke-width="0.1">(Unit: N/mm<tspan font-size="4.2" dy="-2.3">2</tspan><tspan dy="2.3">)</tspan></text>
<text x="474.6" y="370.2" font-family="DejaVu Sans, Liberation Sans, sans-serif" font-size="6.2" fill="#e89898">X:-0.483</text>
<text x="474.6" y="382.3" font-family="DejaVu Sans, Liberation Sans, sans-serif" font-size="6.2" fill="#9ae89a">Y:-0.837</text>
<text x="474.6" y="394.2" font-family="DejaVu Sans, Liberation Sans, sans-serif" font-size="6.2" fill="#8080c8">Z: 0.259</text>
<path d="M530.4 384.1 V370.9" stroke="#0404e4" stroke-width="2.6"/>
<path d="M530.4 366.3 l-2.9 5.4 h5.8z" fill="#0404e4"/>
<path d="M530.4 383.7 L540.4 382.5" stroke="#e41414" stroke-width="2.2"/>
<path d="M544.6 381.9 l-5.4 -1.6 l0.5 4.4z" fill="#e41414"/>
<path d="M527.8 382.1 L525.4 378.9 L521.8 380.3 L524.4 383.9 Z" fill="#14a038"/>
<circle cx="530.4" cy="384.1" r="2.8" fill="#ff80f0"/>
<text x="277" y="205.7" text-anchor="middle" font-size="11.5" letter-spacing="0.4" fill="#111">(<tspan font-weight="bold">a</tspan>)</text>
<text x="276.4" y="415.6" text-anchor="middle" font-size="11.5" letter-spacing="0.4" fill="#111">(<tspan font-weight="bold">b</tspan>)</text>
</svg>
</body></html>
